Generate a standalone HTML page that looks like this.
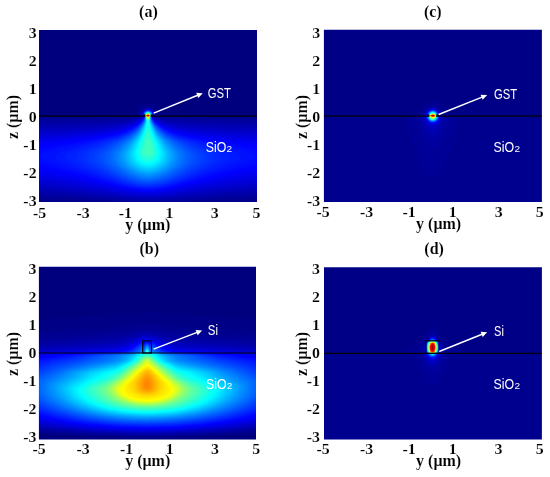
<!DOCTYPE html>
<html lang="en"><head><meta charset="utf-8"><title>Mode profiles</title>
<style>
html,body{margin:0;padding:0;background:#fff}
svg{display:block}
.t{font-family:"Liberation Serif","DejaVu Serif",serif;font-weight:bold;fill:#000;stroke:#fff;stroke-width:0.13px}
.w{font-family:"Liberation Sans","DejaVu Sans",sans-serif;fill:#fff}
</style></head><body>
<svg width="550" height="477" viewBox="0 0 550 477">
<defs>
<filter id="bl" filterUnits="userSpaceOnUse" x="0" y="0" width="550" height="477" color-interpolation-filters="sRGB">
<feGaussianBlur stdDeviation="1.3"/>
</filter>
<filter id="jet" filterUnits="userSpaceOnUse" x="0" y="0" width="550" height="477" color-interpolation-filters="sRGB">
<feComponentTransfer>
<feFuncR type="table" tableValues="0 0 0 0 0.5 1 1 1 0.5"/>
<feFuncG type="table" tableValues="0 0 0.5 1 1 1 0.5 0 0"/>
<feFuncB type="table" tableValues="0.5 1 1 1 0.5 0 0 0 0"/>
</feComponentTransfer>
</filter>
</defs>
<rect width="550" height="477" fill="#fff"/>
<clipPath id="cpa"><rect x="39" y="29.9" width="217.9" height="172.2"/></clipPath>
<clipPath id="cwa"><rect x="137" y="105" width="22" height="21"/></clipPath>
<g clip-path="url(#cpa)"><g filter="url(#jet)">
<g filter="url(#bl)"><rect x="31" y="21" width="234" height="190" fill="#000"/>
<path fill="#020202" d="M173 207l-26 0.2-26-0.2-87-2.3 0-88.5 91 0 8.8-0.2 0.4-3 0.6-2 1.6-3 1.6-1.9 2-1.7 2-1.1 3-1 3-0.3 3 0.3 3 1 2 1.1 2 1.7 1.6 1.9 1.6 3 0.6 2 0.4 3 8.8 0.2 91 0 0 88.5-61 1.7z"/>
<path fill="#040404" d="M166 205l-16 0.3-15-0.1-64-2.6-37-1.1 0-85 87 0 14-0.3 1.6-0.2 0.2-2 0.5-2 1-2 1.7-2 2-1.6 2-1 2-0.5 2-0.2 2 0.2 2 0.5 2 1 2 1.6 1.7 2 1 2 0.5 2 0.2 2 1.6 0.2 14 0.3 87 0 0 85-38 1.1z"/>
<path fill="#060606" d="M173 203l-19 0.7-18-0.1-60-2.9-42-1.6 0-82.2 85-0.1 12-0.1 5-0.3 2.1-0.4 0.4-3 0.9-2 1.6-2 1-0.8 1-0.7 2-0.9 3-0.4 3 0.4 2 0.9 1 0.7 1 0.8 1.6 2 0.9 2 0.4 3 2.1 0.4 5 0.3 12 0.1 85 0.1 0 82.2-43 1.6z"/>
<path fill="#080808" d="M164 202l-15 0.4-14-0.3-17-0.8-50-3-34-1.5 0-77.6 40-0.3 28-0.4 16-0.6 18-1.1 2-0.3 1.1-0.5 0.2-2 0.3-1 1-2 1.4-1.6 1-0.8 2-1 1-0.3 2-0.2 2 0.2 1 0.3 2 1 1 0.8 1.4 1.6 1 2 0.3 1 0.2 2 1.1 0.5 2 0.3 18 1.1 16 0.6 28 0.4 40 0.3 0 77.6-35 1.6-49 2.9z"/>
<path fill="#0a0a0a" d="M161 201l-15 0.3-16-0.5-59-4.2-37-1.9 0-72.9 36-0.4 26-0.5 19-0.9 12-1 6-0.9 6-1.4 0.9-0.7 0.4-3 1.1-2 0.9-1 0.7-0.7 2-1.1 3-0.5 3 0.5 2 1.1 0.7 0.7 0.9 1 1.1 2 0.4 3 0.9 0.7 6 1.4 6 0.9 12 1 19 0.9 26 0.5 36 0.4 0 72.9-35 1.8-51 3.7z"/>
<path fill="#0c0c0c" d="M160 200l-14 0.3-15-0.5-13-1-45-3.8-39-2.4 0-68.4 33-0.5 26-0.7 18.4-1 13.6-1.4 8.6-1.6 6.5-2 0.4-1 0.1-2 0.3-1 0.4-1 0.7-1 1-1 2-1.3 1-0.3 2-0.3 2 0.3 1 0.3 2 1.3 1 1 0.7 1 0.4 1 0.3 1 0.1 2 0.4 1 6.5 2 8.6 1.6 13.6 1.4 18.4 1 26 0.7 33 0.5 0 68.4-38 2.3-49 4.2z"/>
<path fill="#0e0e0e" d="M160 199l-14 0.3-15-0.6-12-1-46-4.4-19-1.5-20-1.3 0-64 32-0.7 25-0.9 19-1.2 7-0.7 7-1 5-0.9 4.3-1.1 3.7-1.2 4.3-1.8-0.3-1 0-2 0.3-1 1.1-2 1.6-1.4 1-0.5 2-0.6 1-0.1 1 0.1 2 0.6 1 0.5 1.6 1.4 1.1 2 0.3 1 0 2-0.3 1 4.3 1.8 3.7 1.2 4.3 1.1 5 0.9 7 1 7 0.7 19 1.2 25 0.9 32 0.7 0 64-19 1.2-18 1.4-50 4.8z"/>
<path fill="#101010" d="M160 198l-7 0.3-7 0.1-7-0.2-8-0.5-11-1.1-47-5.1-19-1.6-20-1.5 0-59.8 31-0.8 25-1.1 18-1.3 7-0.8 7-1.1 6-1.2 5-1.3 5-1.9 3-1.4 1.1-0.7-0.8-1 0-2 0.3-1 1.3-2 2.1-1.6 2-0.6 1 0 1 0 2 0.6 2.1 1.6 1.3 2 0.3 1 0 2-0.8 1 1.1 0.7 3 1.4 5 1.9 5 1.3 6 1.2 7 1.1 7 0.8 18 1.3 25 1.1 31 0.8 0 59.8-19 1.4-18 1.5-51 5.5z"/>
<path fill="#121212" d="M160 197l-13 0.4-7-0.2-8-0.5-13-1.3-30-3.8-17-1.9-19-1.9-19-1.5 0-55.6 31-1 24-1.3 18-1.5 7-0.9 7-1.2 6-1.3 5-1.4 5-1.9 4-2 1.6-1.2-1-1-0.1-1 0.1-1 0.8-2 1.6-1.7 1-0.6 1-0.4 2-0.3 2 0.3 1 0.4 1 0.6 1.6 1.7 0.8 2 0.1 1-0.1 1-1 1 1.6 1.2 4 2 5 1.9 5 1.4 6 1.3 7 1.2 7 0.9 18 1.5 24 1.3 31 1 0 55.6-19 1.5-18 1.7-17 2-32 4z"/>
<path fill="#141414" d="M160 196l-7 0.4-7 0.1-7-0.3-8-0.6-12-1.4-31-4.3-16-2-19-2.1-19-1.6 0-51.5 31-1.2 24-1.5 18-1.8 8-1.1 5.7-1.1 6.3-1.5 5-1.6 4-1.6 4-2.1 2-1.3 1.1-0.9-1.2-1-0.1-1 0.3-2 0.5-1 1.4-1.5 1-0.6 1-0.4 2-0.3 2 0.3 1 0.4 1 0.6 1.4 1.5 0.5 1 0.3 2-0.1 1-1.2 1 1.1 0.9 2 1.3 4 2.1 4 1.6 5 1.6 6.3 1.5 5.7 1.1 8 1.1 18 1.8 24 1.5 31 1.2 0 51.5-18 1.5-18 1.9-17 2.2-34 4.7z"/>
<path fill="#161616" d="M161 195l-7 0.5-7 0.1-8-0.3-8-0.7-12.9-1.6-29.1-4.6-16-2.2-20-2.4-19-1.9 0-47.3 30-1.3 23-1.6 18-1.9 8-1.2 7-1.4 6-1.5 5-1.7 5-2.1 4-2.2 2-1.4 1.3-1.3-1.2-1-0.1-1 0.3-2 0.6-1 0.9-1 1.2-0.9 1-0.4 2-0.4 2 0.4 1 0.4 1.2 0.9 0.9 1 0.6 1 0.3 2-0.1 1-1.2 1 1.3 1.3 2 1.4 4 2.2 5 2.1 5 1.7 6 1.5 7 1.4 8 1.2 18 1.9 23 1.6 30 1.3 0 47.3-19 1.9-18 2.1-17 2.4-32 5z"/>
<path fill="#181818" d="M161 194.1l-7 0.5-7 0.1-8-0.3-8-0.7-12-1.7-30-5.2-16-2.5-19-2.5-20-2.2 0-43.1 30-1.5 24-1.9 18-2.2 7-1.2 7-1.5 6-1.6 5-1.8 5-2.3 4-2.3 2-1.5 1-0.9 0.5-0.8-1.2-1-0.1-1 0.3-2 0.6-1 1.9-1.7 2-0.7 1-0.1 1 0.1 2 0.7 1.9 1.7 0.6 1 0.3 2-0.1 1-1.2 1 0.5 0.8 1 0.9 2 1.5 4 2.3 5 2.3 5 1.8 6 1.6 7 1.5 7 1.2 18 2.2 24 1.9 30 1.5 0 43.1-19 2.1-19 2.5-16 2.5-32 5.5-8 1.1z"/>
<path fill="#1a1a1a" d="M162 193.1l-8 0.6-7 0.2-8-0.4-8-0.8-13-2-29-5.5-17-3-18-2.6-20-2.5 0-38.7 29-1.7 23-2 10-1.2 9-1.3 7-1.2 7-1.6 6-1.7 5-1.7 5-2.3 4-2.4 3-2.2 1-1 0.7-1.1-1.2-1-0.2-1 0.1-1 0.3-1 0.6-1 1.7-1.6 2-0.7 1-0.1 1 0.1 2 0.7 1.7 1.6 0.6 1 0.3 1 0.1 1-0.2 1-1.2 1 0.7 1.1 1 1 3 2.2 4 2.4 5 2.3 5 1.7 6 1.7 7 1.6 7 1.2 9 1.3 10 1.2 23 2 29 1.7 0 38.7-20 2.5-18 2.6-17 3-30.8 5.8z"/>
<path fill="#1c1c1c" d="M148 193l-10-0.5-11.9-1.5-10.8-2-26.3-5.5-16-3.1-18-3-21-3 0-34.2 29-2 23.6-2.2 9.4-1.2 9-1.4 7-1.3 7-1.7 6-1.8 5-1.9 5-2.4 4-2.5 3-2.4 1-1 0.9-1.4-1.2-1-0.2-1 0.1-1 0.9-2 1.5-1.4 1-0.4 2-0.4 2 0.4 1 0.4 1.5 1.4 0.9 2 0.1 1-0.2 1-1.2 1 0.9 1.4 1 1 3 2.4 4 2.5 5 2.4 5 1.9 6 1.8 7 1.7 7 1.3 9 1.4 9.4 1.2 23.6 2.2 29 2 0 34.2-21 3-18 3-16 3.1-26.3 5.5-10.8 2-11.9 1.5z"/>
<path fill="#1e1e1e" d="M153 192l-6 0.1-6-0.2-7-0.7-7-1.1-10.7-2.1-28.3-6.5-18-3.8-18-3.4-18-2.9 0-29 14.1-1.4 22.9-1.9 18-2.1 9-1.3 8-1.4 7-1.4 6-1.6 6-1.9 5-2 5-2.5 4-2.6 3-2.5 1-1.1 1-1.5 0.1-0.2-1.2-1-0.2-1 0-1 0.9-2 1.4-1.2 1-0.5 2-0.3 2 0.3 1 0.5 1.4 1.2 0.9 2 0 1-0.2 1-1.2 1 0.1 0.2 1 1.5 1 1.1 3 2.5 4 2.6 5 2.5 5 2 6 1.9 6 1.6 7 1.4 8 1.4 9 1.3 18 2.1 22.9 1.9 14.1 1.4 0 29-19 3.1-20 3.8-15 3.2-27 6.2-9 1.9-10 1.6z"/>
<path fill="#202020" d="M155 191l-7 0.3-6-0.2-7-0.7-8-1.3-12-2.6-31-7.9-17-4-12.1-2.6-20.9-3.9 0-22.5 32.4-4.6 15.6-1.8 13-1.8 14-2.6 11-2.8 6-2.1 5-2.2 4-2.2 4-2.8 3-2.6 1-1 1-1.6 0.2-0.5-1.2-1-0.2-1 0.4-2 0.6-1 1.2-1.1 1-0.5 2-0.3 2 0.3 1 0.5 1.2 1.1 0.6 1 0.4 2-0.2 1-1.2 1 0.2 0.5 1 1.6 1 1 3 2.6 4 2.8 4 2.2 5 2.2 6 2.1 11 2.8 14 2.6 13 1.8 15.6 1.8 32.4 4.6 0 22.5-20.9 3.9-12.1 2.6-16 3.8-29 7.4-10 2.3-10 1.9z"/>
<path fill="#222222" d="M156 190.1l-8 0.3-7-0.3-8-0.9-8-1.5-14.6-3.7-41.4-11.6-22.7-5.4-12.3-3.2 0-14.2 12.7-2.6 32.1-6 13.2-1.9 11-1.9 10-2.3 9-2.7 5-2 5-2.4 4-2.4 4-3.1 3-2.9 1-1.6 0.3-0.8-1.2-1-0.1-1 0.3-2 0.7-1 1-0.9 1-0.6 2-0.4 2 0.4 1 0.6 1 0.9 0.7 1 0.3 2-0.1 1-1.2 1 0.3 0.8 1 1.6 3 2.9 4 3.1 4 2.4 5 2.4 5 2 9 2.7 10 2.3 11 1.9 13.2 1.9 32.1 6 12.7 2.6 0 14.2-12.3 3.2-22.7 5.4-50 13.9-11 2.4z"/>
<path fill="#242424" d="M157 189.1l-9 0.5-5-0.2-5-0.4-5-0.8-6-1.1-11.9-3.1-13.1-4-25-8-17.1-5-11.8-4-4.7-2-1.2-1-1.6-2-0.4-1 0-1 0.4-1 0.7-1 1.2-1 2.5-1 6.2-2 11.3-3 21-5 4.4-1 13.1-2.3 9-2.1 9-2.5 7-2.7 4-1.8 4-2.3 4-2.9 3-2.6 2-2.1 1-1.6 0.4-1.1-1.1-1-0.2-2 0.3-1 0.7-1 0.9-0.8 1-0.6 2-0.4 2 0.4 1 0.6 0.9 0.8 0.7 1 0.3 1-0.2 2-1.1 1 0.4 1.1 1 1.6 2 2.1 3 2.6 4 2.9 4 2.3 4 1.8 7 2.7 9 2.5 9 2.1 13.1 2.3 4.4 1 21 5 11.3 3 6.2 2 2.5 1 1.2 1 0.7 1 0.4 1 0 1-0.4 1-0.6 1-2.2 2-4.7 2-5.6 2-9.5 3-13.8 4-28.2 9-10.8 3.2-12 3.1-6 1.1z"/>
<path fill="#262626" d="M158 188.1l-5 0.5-5 0.1-4-0.1-5-0.4-5-0.7-6-1.3-11.9-3.2-12.1-4-19.3-7-8.9-3-8-3-4.8-2-4.2-2-1.6-1-1.5-2-0.4-1-0.2-1 0.1-1 0.4-1 0.7-1 1-1 4.6-2 5.6-2 9.8-3 17.6-5 10.1-2.1 9-2.4 8-2.6 6-2.6 4-2.2 4-2.6 3-2.4 3-2.9 1-1.2 1-1.6 0.5-1.4-1.1-1-0.2-2 0.3-1 0.7-1 0.8-0.7 1-0.6 2-0.4 2 0.4 1 0.6 0.8 0.7 0.7 1 0.3 1-0.2 2-1.1 1 0.5 1.4 1 1.6 1 1.2 3 2.9 3 2.4 4 2.6 4 2.2 6 2.6 8 2.6 9 2.4 10.1 2.1 17.6 5 9.8 3 5.6 2 4.6 2 1 1 0.7 1 0.4 1 0.1 1-0.2 1-0.4 1-1.5 2-3.6 2-7 3-33.3 12-13.9 4.6-12 3.4-6 1.3z"/>
<path fill="#282828" d="M159 187l-5 0.6-5 0.3-5-0.1-5-0.5-5-0.8-5-1-5.5-1.5-6.5-2-8.5-3-7.7-3-19.8-8-6.6-3-3.7-2-3-2-1.1-2-0.2-1 0.1-2 1-2 1-1 3.9-2 4.8-2 8.3-3 14.9-5 9.6-2.4 8-2.4 6-2.3 6-3 4-2.4 3-2.2 3-2.7 2-2.1 2-2.8 0.6-1.7-1.1-1-0.2-1 0-1 0.4-1 1.3-1.6 2-0.9 1-0.1 1 0.1 2 0.9 1.3 1.6 0.4 1 0 1-0.2 1-1.1 1 0.6 1.7 2 2.8 2 2.1 3 2.7 3 2.2 4 2.4 6 3 6 2.3 8 2.4 9.6 2.4 14.9 5 8.3 3 4.8 2 3.9 2 1 1 0.6 1 0.4 1 0.1 2-0.2 1-1.1 2-3 2-5.8 3-6.9 3-17.4 7-13.3 5-6.1 2-6.8 2-5 1.1z"/>
<path fill="#2a2a2a" d="M150 187l-5 0-5-0.5-5-0.7-5-1.1-6.1-1.7-6-2-12.6-5-17.8-8-5.7-3-3.2-2-2.5-2-0.5-1-0.5-2 0.1-1 0.5-2 0.6-1 0.8-1 3.6-2 6.4-3 17.8-7 8.1-2.3 7-2.4 6-2.6 5-2.7 3-1.9 3-2.3 3-2.8 2-2.1 2-2.8 0.7-2.1-1.1-1-0.2-1 0-1 0.4-1 1.2-1.5 2-0.9 1-0.1 1 0.1 2 0.9 1.2 1.5 0.4 1 0 1-0.2 1-1.1 1 0.7 2.1 2 2.8 2 2.1 3 2.8 3 2.3 3 1.9 5 2.7 6 2.6 7 2.4 8.1 2.3 17.8 7 6.4 3 3.6 2 0.8 1 0.6 1 0.4 1 0.2 2-0.2 1-0.8 2-2.5 2-3.2 2-7.8 4-20.5 9-6.9 2.7-6 2-6 1.7-6 1.4-6 0.9z"/>
<path fill="#2c2c2c" d="M152 186.1l-4 0.1-5-0.2-5-0.6-5-1-5-1.3-5-1.6-6-2.2-5.5-2.3-18.5-9-5.1-3-2.8-2-2.1-2-0.4-1-0.4-2 0.1-1 0.5-2 1.3-2 3.2-2 5.7-3 15.6-7 7.4-2.3 7-2.8 5-2.5 5-3 5-4 3-3 2-2.4 1-1.6 0.7-2.4-1-1-0.2-1 0-1 0.4-1 0.7-1 1.4-0.9 1-0.4 1-0.1 1 0.1 1 0.4 1.4 0.9 0.7 1 0.4 1 0 1-0.2 1-1 1 0.7 2.4 1 1.6 2 2.4 3 3 5 4 5 3 5 2.5 7 2.8 7.4 2.3 13.5 6 7.8 4 3.2 2 0.8 1 0.8 2 0.2 1 0 2-0.7 2-0.9 1-2.5 2-3.1 2-3.5 2-16.3 8-6.9 3-5.3 2-6.1 2-5.4 1.4-6 1.1z"/>
<path fill="#2e2e2e" d="M154 185l-4 0.3-4 0-4-0.3-4-0.5-8-1.9-9-3-5-2.2-5.2-2.4-9.6-5-5.2-3-4.2-3-2.3-2-0.8-1-0.5-2 0-2 0.2-1 0.8-2 0.7-1 2.8-2 7-4 9.9-5 2.2-1 8.2-3 5-2.2 5-2.8 5-3.5 3-2.6 2-2 2-2.3 2-2.9 0.8-2.7-1-1-0.2-1 0-1 0.4-1 0.7-1 1.3-0.9 2-0.4 2 0.4 1.3 0.9 0.7 1 0.4 1 0 1-0.2 1-1 1 0.8 2.7 2 2.9 2 2.3 2 2 3 2.6 5 3.5 5 2.8 5 2.2 8.2 3 2.2 1 9.9 5 5.4 3 4.4 3 1.2 2 0.5 2 0 2-0.5 2-0.8 1-2.3 2-2.7 2-3.2 2-11.2 6-8.3 4-8.8 3.4-8 2.3-4 0.8z"/>
<path fill="#303030" d="M155 184l-7 0.5-4-0.1-4-0.5-4-0.7-4.7-1.2-8.5-3-8.6-4-9.1-5-4.8-3-3.9-3-2.1-2-0.7-1-0.5-2 0.2-3 0.8-2 0.6-1 2.6-2 6.3-4 9-5 1.9-1 7.5-3 5-2.5 5-3.1 4-3.1 4-4 2-2.4 2-2.9 0.9-3-1-1-0.2-1 0-1 0.4-1 0.8-1 1.1-0.8 2-0.4 2 0.4 1.1 0.8 0.8 1 0.4 1 0 1-0.2 1-1 1 0.9 3 2 2.9 2 2.4 4 4 4 3.1 5 3.1 6 2.9 6.5 2.6 9.1 5 5.1 3 5.6 4 1 2 0.5 2-0.1 3-0.3 1-0.7 1-2.1 2-2.5 2-6.2 4-11 6-7.9 3.5-4.1 1.5-4.9 1.5-4 0.9z"/>
<path fill="#323232" d="M156 183l-4 0.5-4 0.2-7-0.5-7-1.5-4-1.1-4.2-1.6-4.6-2-4-2-8.7-5-3.1-2-4-3-2-2-1.6-2-0.4-2 0-2 0.9-3 0.6-1 2.4-2 5.7-4 8.1-5 1.8-1 7.1-3.2 5-2.8 4-2.7 4-3.4 4-4.3 3-4.3 1-3.3-1-1-0.2-1 0-1 0.4-1 0.8-1 1-0.7 2-0.4 2 0.4 1 0.7 0.8 1 0.4 1 0 1-0.2 1-1 1 1 3.3 2 3 2 2.5 4 4 4 3.2 4 2.6 5 2.7 6.1 2.7 6.7 4 6.2 4 5.1 4 1 2 0.5 2-0.1 3-0.3 1-0.7 1-1.8 2-2.4 2-5.8 4-8.7 5-7.8 3.7-4 1.5-4 1.3z"/>
<path fill="#343434" d="M156 182.1l-7 0.7-3 0-4-0.4-7-1.4-7-2.3-4-1.7-4-2-8.4-5-3-2-3.7-3-2-2-1.5-2-0.2-1-0.1-3 0.8-3 0.6-1 2.2-2 5.3-4 7.4-5 1.6-1 6-2.9 5-3 4-3 4-3.7 3-3.4 3-4.3 1.1-3.7-1-1-0.2-1 0-1 0.4-1 0.7-0.9 1-0.7 1-0.3 1-0.2 2 0.5 1 0.7 0.7 0.9 0.4 1 0 1-0.2 1-1 1 1.1 3.7 3 4.3 4 4.4 4 3.5 4 2.8 5 2.9 5 2.4 6.1 4 5.7 4 4.7 4 0.9 2 0.5 2-0.1 3-0.2 1-0.7 1-1.8 2-2.1 2-5.6 4-8.4 5-6.2 3-6.8 2.5z"/>
<path fill="#363636" d="M157 181l-4 0.7-3 0.2-3 0.1-4-0.3-4-0.7-3-0.7-7-2.3-4.4-2-3.7-2-6.5-4-2.9-2-3.5-3-1.9-2-1.4-2-0.2-1-0.1-3 0.7-3 0.5-1 2.1-2 4.8-4 6.9-5 1.5-1 6.1-3.3 4-2.6 4-3.2 4-4 4-5.3 1.4-2.6 0.7-3-0.9-1-0.2-1 0-1 0.4-1 0.8-1 0.8-0.5 1-0.4 2 0 1 0.4 1 0.7 0.6 0.8 0.4 1 0 1-0.2 1-0.9 1 0.7 3 0.4 1 3 4.4 4 4.6 3 2.7 4 3.1 4 2.5 5.1 2.7 5.7 4 5.2 4 4.4 4 0.8 2 0.4 2-0.1 3-0.2 1-0.6 1-1.7 2-2.1 2-3.8 3-8 5-5.8 3-6.3 2.5z"/>
<path fill="#383838" d="M151 181l-3 0.1-3-0.1-6-0.9-6-1.7-6-2.5-3.6-1.9-4.9-3-3-2-2.6-2-2.1-2-2.6-3-0.6-1-0.3-2 0.2-3 0.5-2 0.4-1 1.9-2 4.5-4 6.3-5 1.4-1 5.5-3.2 4-2.8 4-3.5 3-3.1 4-5.4 1.5-3 0.7-3-1-1-0.2-1 0.1-1 0.4-1 1.5-1.5 1-0.3 1-0.1 1 0.1 1 0.3 1.5 1.5 0.4 1 0.1 1-0.2 1-1 1 0.7 3 1.5 3 4 5.4 3 3.1 4 3.5 4 2.8 5.5 3.2 1.4 1 6.3 5 3.4 3 3 3 0.7 2 0.4 3-0.3 3-1.4 2-1.8 2-2.1 2-2.6 2-6.5 4.1-5.2 2.9-5.8 2.4-6 1.7z"/>
<path fill="#3a3a3a" d="M152 180.1l-3 0.2-3-0.1-6-0.8-6-1.6-6-2.6-8-4.8-4.6-3.4-2.1-2-2.5-3-0.6-1-0.3-2 0-2 0.6-3 0.4-1 1.8-2 4.2-4 5.9-5 1.2-1 5-3.1 4-3 4-3.8 3-3.5 3-4.3 1-1.7 0.7-1.6 0.5-3-0.9-1-0.2-1 0.1-1 0.3-1 1.5-1.4 1-0.4 1-0.1 1 0.1 1 0.4 1.5 1.4 0.3 1 0.1 1-0.2 1-0.9 1 0.5 3 0.7 1.6 1 1.7 2 3 2 2.6 3 3.2 3 2.8 4 3 5 3.1 4.8 4 4.5 4 3.8 4 0.7 2 0.3 2-0.1 3-0.2 1-0.6 1-1.6 2-1.9 2-2.3 2-2.8 2-6.6 4.1-6 2.9-6 2z"/>
<path fill="#3c3c3c" d="M153 179.1l-5 0.3-6-0.5-6-1.5-5.9-2.4-8.1-4.7-4.3-3.3-2.1-2-2.4-3-0.6-1-0.3-2 0-2 0.5-3 0.4-1 1.6-2 4-4 5.4-5 1.2-1 4.6-3.1 4-3.2 3-3 3-3.6 3-4.4 1-1.8 0.8-1.9 0.5-3-0.9-1-0.2-1 0-1 0.4-1 1.4-1.3 1-0.4 1-0.1 1 0.1 1 0.4 1.4 1.3 0.4 1 0 1-0.2 1-0.9 1 0.5 3 0.8 1.9 1 1.8 3 4.4 3 3.6 3 3 4 3.2 4.6 3.1 1.2 1 5.4 5 3 3 2.6 3 0.6 2 0.3 2-0.1 3-0.2 1-0.6 1-1.5 2-1.9 2-3.6 3-6.8 4.3-5 2.6-5.9 2.1z"/>
<path fill="#3e3e3e" d="M154 178l-3 0.4-3 0.2-5-0.4-5.2-1.2-5.8-2.2-7-4-2.7-1.8-2.5-2-2.1-2-2.3-3-0.6-1-0.3-2-0.1-2 0.5-3 0.3-1 1.6-2 3.7-4 5.1-5 6.4-4.9 3-2.7 3-3.2 3-4 3-4.9 0.9-2.3 0.4-3-0.9-1-0.1-1 0-1 0.4-1 1.3-1.2 1-0.4 1-0.1 1 0.1 1 0.4 1.3 1.2 0.4 1 0 1-0.1 1-0.9 1 0.4 3 0.9 2.3 1 1.8 3 4.5 3 3.7 3 3 3 2.6 4.3 3.1 8.1 8 3.4 4 0.7 3 0 3-0.3 2-1.3 2-1.6 2-3.3 3-4.3 3-6.7 3.8-5 2z"/>
<path fill="#404040" d="M154 177.1l-5 0.6-5-0.3-3-0.5-3-0.8-5-2-7-3.9-4.2-3.2-2.1-2-2.3-3-0.6-1-0.3-2-0.1-2 0.4-3 0.3-1 1.5-2 3.4-4 4.8-5 6.2-5.1 3-2.9 3-3.5 2-2.8 3-5.1 1-2.4 0.4-3.2-0.9-1-0.1-2 0.4-1 1-1 1.2-0.6 1-0.1 1 0.1 1 0.5 1.2 1.1 0.4 1 0.1 1-0.2 1-0.9 1 0.4 3.2 1 2.4 1 1.9 3 4.7 2 2.5 3 3.3 3 2.8 4.1 3.2 7.7 8 3.1 4 0.6 3 0 3-0.3 2-1.3 2-1.6 2-3.3 3-4.3 3-5.7 3.1-4.7 1.9z"/>
<path fill="#424242" d="M154 176.2l-5 0.6-5-0.3-5-1.1-5-1.9-6.3-3.5-2.8-2-2.3-2-1.9-2-1.4-2-0.6-1-0.4-2-0.1-2 0.3-3 0.3-1 1.4-2 3.3-4 4.5-5 5-4.4 3-2.9 3-3.6 3-4.5 2-3.6 1.1-3 0.3-3-0.9-1-0.1-2 0.5-1 1-1 1.1-0.5 1-0.1 1 0.1 1.1 0.5 1 1 0.5 1-0.1 2-0.9 1 0.4 3.7 2 4.2 2 3.3 2 2.9 3 3.6 3 2.9 4.1 3.4 7.1 8 3 4 0.5 3 0 3-0.4 2-2 3-3 3-4 3-5.3 3-4.6 2z"/>
<path fill="#444444" d="M155 175l-5 0.9-2 0.1-3-0.2-5-1-4.7-1.8-5.7-3-2.9-2-2.3-2-1.9-2-1.5-2-0.6-1-0.3-2-0.2-2 0.3-3 0.2-1 1.3-2 3.1-4 4.2-5 5-4.6 3-3.2 3-4 2-3.1 2-3.7 1-2.3 0.2-1.1 0.3-3-0.9-1-0.1-2 0.5-1 1-1 1-0.4 1-0.2 1 0.2 1 0.4 1 1 0.5 1-0.1 2-0.9 1 0.5 4 2 4.3 2 3.4 2 2.9 3 3.7 3 3.1 3 2.6 5.2 6 4.4 6 0.4 2 0 3-0.4 3-1.3 2-2.7 3-3.6 3-3.3 2-5.7 2.7z"/>
<path fill="#464646" d="M149 175l-4-0.1-5-1.1-3-1.1-3-1.3-4.1-2.4-3.8-3-1.9-2-1.5-2-0.6-1-0.2-1-0.4-3 0.1-2 0.3-2 1.9-3 6.2-8 5-4.9 2-2.3 3-4 2-3.2 2-3.9 1.1-2.7 0.4-4-0.8-1-0.1-2 0.5-1 0.9-0.9 1-0.5 1-0.1 1 0.1 1 0.5 0.9 0.9 0.5 1-0.1 2-0.8 1 0.4 4 1.1 2.7 2 3.9 2 3.2 3 4 3 3.3 3.1 2.9 6.4 8 2.6 4 0.4 3-0.4 4-0.2 1-0.6 1-2.4 3-3.4 3-4.5 2.9-5 2.2-4 1.3z"/>
<path fill="#484848" d="M150 174.1l-4 0-5-1-5-1.8-4.3-2.3-4-3-1.9-2-1.6-2-0.6-1-0.2-1-0.4-3 0-2 0.3-2 1.8-3 5.9-8 4-4.2 3-3.6 2-2.8 2-3.3 2-3.9 1.3-3.2 0.3-4-0.9-1 0-2 0.4-1 0.9-0.8 1-0.5 1-0.1 1 0.1 1 0.5 0.9 0.8 0.4 1 0 2-0.9 1 0.3 4 1.3 3.2 2 3.9 2 3.3 2 2.8 3 3.6 3.2 3.2 6 8 2.5 4 0.3 3-0.2 3-0.4 2-2.2 3-3.2 3.1-4 2.7-4 1.9-5 1.7z"/>
<path fill="#4c4c4c" d="M154 172l-2 0.5-3 0.3-4-0.2-5-1.1-3-1.2-2-0.9-4-2.7-2-1.7-1.8-2-1.4-2-0.7-4-0.1-2 0.2-2 1.7-3 5.4-8 4.7-5.4 2-2.7 2-3.2 2-3.7 2-4.5 0.5-1.5 0.2-4-0.9-1 0-2 0.5-1 0.7-0.7 1-0.5 1-0.1 1 0.1 1 0.5 0.7 0.7 0.5 1 0 2-0.9 1 0.2 4 1.5 3.8 2 4.1 2 3.4 2 3 2 2.5 2.9 3.2 3.6 5 3.7 6 0.6 1 0.1 1-0.1 4-0.6 3-2.2 3-3 2.7-3.3 2.3-3.7 1.8z"/>
<path fill="#505050" d="M150 171.1l-4 0-4-0.7-4-1.5-4-2.3-3.1-2.6-2.4-3-0.7-3-0.3-3 0.1-2 2.6-5 4.4-7 2.4-2.9 2-2.8 2-3.3 2-3.9 2-4.8 0.7-2.3 0.1-4-0.8-1-0.1-2 0.5-1 0.6-0.5 1-0.6 1-0.1 1 0.1 1 0.6 0.6 0.5 0.5 1-0.1 2-0.8 1 0.1 4 0.7 2.3 2 4.8 2 3.9 2 3.3 2 2.8 2.4 2.9 3.8 6 2.7 5 0.5 1 0.1 1-0.3 4-0.7 3-1.5 2-2 2-3 2.3-3.2 1.7-3.8 1.4z"/>
<path fill="#545454" d="M152 169.2l-4 0.4-4-0.4-4-1.2-3.7-2-2.6-2-2.6-3-1-3-0.4-3 0.1-2 2.3-5 3.9-7 4-5.8 2-3.7 1.6-3.5 1.8-5 0.5-2-0.2-3 0.2-1-0.9-1 0.1-2 0.5-1 0.4-0.4 1-0.5 1-0.2 1 0.2 1 0.5 0.4 0.4 0.5 1 0.1 2-0.9 1 0.2 1-0.2 3 0.9 3.3 2 5 3 5.9 4 5.8 2.3 4 2.1 4 1.8 4 0.1 2-0.4 3-1 3-0.9 1.2-2 2-3 2.2-3.1 1.6z"/>
<path fill="#585858" d="M153 167.2l-4 0.7-3 0-3.8-0.9-3.2-1.4-3-2.1-2.5-2.5-1.1-3-0.6-3-0.1-2 2.1-5 3.5-7 3.7-6 3-6.7 1.8-5.3 0.4-2-0.4-3 0.2-1-0.9-1 0.1-2 0.8-1.2 1-0.6 1-0.2 1 0.2 1 0.6 0.8 1.2 0.1 2-0.9 1 0.2 1-0.4 3 0.7 3 1.8 5 2.7 6 3.7 6 2.1 4 1.9 4 1.6 4-0.1 2-0.4 2-0.5 2-0.8 2-1.9 2-2.6 2-2 1.1z"/>
<path fill="#5c5c5c" d="M151 166l-3 0.3-3-0.3-3-0.9-3-1.5-2-1.5-1-1.1-1.4-3-0.9-4-0.1-1 2.3-6 2.7-6 2.8-5 2.9-7 1.8-6 0.4-2-0.5-3 0-1-0.8-1 0.1-2 0.7-1.1 1-0.6 1-0.2 1 0.2 1 0.6 0.7 1.1 0.1 2-0.8 1 0 1-0.5 3 0.4 2 1.8 6 2.9 7 2.8 5 1.9 4 1.7 4 1.4 4-0.2 2-0.5 2-0.7 2-1 2-2 1.9-2 1.3-2 0.9z"/>
<path fill="#606060" d="M152 164.1l-3 0.5-3-0.1-3-0.8-3-1.5-1.5-1.2-1.5-2.5-1-2.5-0.6-3 2.4-7 2-5 2.5-5 2.9-8 1.3-5 0.2-2-0.6-3 0-1-0.9-1 0-1 0.2-1 0.7-1 0.9-0.6 1-0.1 1 0.1 0.9 0.6 0.7 1 0.2 1 0 1-0.9 1 0 1-0.6 3 0.2 2 1.3 5 2.9 8 2.5 5 2 5 2.4 7-0.4 2-0.6 2-0.9 2-1.2 2-2.5 1.8z"/>
<path fill="#646464" d="M152 162.3l-3 0.6-2 0-3-0.6-2.5-1.3-1.5-1.6-1-1.5-1.3-2.9-0.5-2 1.1-4 1.3-4 1.5-4 2.2-5 1.1-3 2.2-8 0.5-3-0.1-1-0.7-2-0.2-1 0.1-1-0.9-1 0-1 0.3-1 0.7-1 0.7-0.4 1-0.2 1 0.2 0.7 0.4 0.7 1 0.3 1 0 1-0.9 1 0.1 1-0.2 1-0.7 2-0.1 1 0.5 3 2.2 8 1.1 3 2.2 5 1.5 4 1.3 4 1.1 4-0.9 3-1.6 3-1.8 2z"/>
<path fill="#686868" d="M149 161.1l-1 0.1-2-0.3-2-0.9-1-0.7-2.1-2.3-1.1-2-0.7-2 1.7-7 1.2-4 2.7-7 3.2-12 0-1-0.4-1-0.5-0.5-0.5-1.5-0.3-1 0.1-1-0.9-1 0-1 0.3-1 0.8-1 0.5-0.3 1-0.2 1 0.2 0.5 0.3 0.8 1 0.3 1 0 1-0.9 1 0.1 1-0.3 1-0.5 1.5-0.5 0.5-0.4 1 0 1 3.2 12 2.7 7 1.2 4 1.7 7-1.2 3-1.7 2.4-2 1.6-2 0.9z"/>
<path fill="#6c6c6c" d="M148 120.9l-1-1-0.7-1.9 0-1-0.9-1 0-1 0.6-1.3 1-0.9 1-0.2 1 0.2 1 0.9 0.6 1.3 0 1-0.9 1 0 1-0.7 1.9zM150 158.2l-2 0.4-2-0.4-1-0.4-2.1-1.8-0.9-1.1-0.9-1.9 0.8-5 1.1-4.2 2.7-7.8 1.3-4.7 1-2 1 2 1.3 4.7 2.7 7.8 1.1 4.2 0.8 5-0.9 1.9-1 1.3-1 0.9z"/>
<path fill="#707070" d="M148 120.5l-1-0.8-0.6-1.7 0-1-0.9-1 0-1 0.5-1.1 0.9-0.9 1.1-0.3 1.1 0.3 0.9 0.9 0.5 1.1 0 1-0.9 1 0 1-0.6 1.7zM150 155.3l-2 0.5-2-0.5-1.8-1.3-0.7-1 0.5-5 1-4.4 1-3 1-2.2 1-0.9 1 0.9 1 2.2 1.4 4.4 0.9 5 0.2 3-0.7 1z"/>
<path fill="#747474" d="M148 120.1l-1-0.7-0.5-1.4 0-1-1-1 0.1-1 0.4-0.9 1-1 1-0.3 1 0.3 1 1 0.4 0.9 0.1 1-1 1 0 1-0.5 1.4z"/>
<path fill="#787878" d="M149 119.1l-1 0.8-1-0.8-0.4-1.1 0-1-1-1 0.1-1 0.3-0.7 1-1.1 1-0.3 1 0.3 1 1.1 0.3 0.7 0.1 1-1 1 0 1z"/>
<path fill="#7c7c7c" d="M148 119.7l-1-0.8-0.3-0.9-0.1-1-0.9-1 0-1 0.3-0.6 1-1 1-0.3 1 0.3 1 1 0.3 0.6 0 1-0.9 1-0.1 1-0.3 0.9z"/>
<path fill="#808080" d="M148 119.5l-1-0.8-0.3-0.7 0-1-1-1 0.3-1.4 1-1 1-0.4 1 0.4 1 1 0.3 1.4-1 1 0 1-0.3 0.7z"/>
<path fill="#848484" d="M148 119.3l-1-0.9-0.2-1.4-1-1 0.2-1.2 1-1 1-0.4 1 0.4 1 1 0.2 1.2-1 1-0.2 1.4z"/>
<path fill="#888888" d="M148 119.1l-1-0.9-0.1-1.2-1-1 0.1-1.1 1-1 1-0.4 1 0.4 1 1 0.1 1.1-1 1-0.1 1.2z"/>
<path fill="#8c8c8c" d="M148 118.9l-1-0.9-0.1-1-1-1 0.1-1 1-1 1-0.3 1 0.3 1 1 0.1 1-1 1-0.1 1z"/>
<path fill="#909090" d="M148 118.8l-0.8-0.8-0.2-1-1-1 0.1-1 0.9-0.9 1-0.2 1 0.2 0.9 0.9 0.1 1-1 1-0.2 1z"/>
<path fill="#949494" d="M148 118.6l-0.6-0.6-0.3-1-1-1 0.1-1 0.8-0.8 1-0.2 1 0.2 0.8 0.8 0.1 1-1 1-0.3 1z"/>
<path fill="#989898" d="M148 118.5l-0.5-0.5-0.2-1-1.2-1 0.1-1 0.8-0.8 1-0.1 1 0.1 0.8 0.8 0.1 1-1.2 1-0.2 1z"/>
<path fill="#9c9c9c" d="M148 118.3l-0.3-0.3-0.3-1-1.2-1 0.1-1 0.7-0.7 1-0.2 1 0.2 0.7 0.7 0.1 1-1.2 1-0.3 1z"/>
<path fill="#a0a0a0" d="M148 118.1l-0.5-1.1-1.3-1 0.2-1 0.6-0.6 1-0.2 1 0.2 0.6 0.6 0.2 1-1.3 1z"/>
<path fill="#a4a4a4" d="M148 118l-0.4-1-0.6-0.3-0.7-0.7 0.1-1 0.6-0.5 1-0.3 1 0.3 0.6 0.5 0.1 1-0.7 0.7-0.6 0.3z"/>
<path fill="#a8a8a8" d="M148 117.7l-0.3-0.7-0.7-0.4-0.6-0.6 0.1-1 0.5-0.5 1-0.2 1 0.2 0.5 0.5 0.1 1-0.6 0.6-0.7 0.4z"/>
<path fill="#acacac" d="M148 117.3l-0.1-0.3-0.9-0.5-0.6-0.5 0.2-1 0.4-0.4 1-0.3 1 0.3 0.4 0.4 0.2 1-0.6 0.5-0.9 0.5z"/>
<path fill="#b0b0b0" d="M148 117l-1-0.5-0.5-0.5 0.2-1 0.3-0.3 1-0.3 1 0.3 0.3 0.3 0.2 1-0.5 0.5z"/>
<path fill="#b4b4b4" d="M149 116.4l-1 0.5-1-0.5-0.4-0.4 0.1-1 0.3-0.3 1-0.3 1 0.3 0.3 0.3 0.1 1z"/>
<path fill="#b8b8b8" d="M149 116.4l-1 0.5-1-0.5-0.4-0.4 0.2-1 1.2-0.5 1 0.3 0.2 0.2 0.2 1z"/>
<path fill="#bcbcbc" d="M149 116.3l-1 0.5-1-0.5-0.3-0.3 0.2-1 1.1-0.4 1 0.3 0.3 1.1z"/>
<path fill="#c0c0c0" d="M149 116.2l-1 0.5-1-0.5-0.2-0.2 0.1-1 1.1-0.4 1 0.3 0.2 1.1z"/>
<path fill="#c4c4c4" d="M149 116.2l-1 0.4-1-0.4-0.2-0.2 0.2-1 1-0.3 1 0.3 0.2 1z"/>
<path fill="#c8c8c8" d="M149 116.1l-1 0.5-1-0.5 0.2-1.1 0.8-0.3 0.8 0.3z"/>
<path fill="#cccccc" d="M149 116l-1 0.5-1-0.5 0.3-1 0.7-0.2 0.7 0.2z"/>
<path fill="#d0d0d0" d="M148 116.4l-0.9-0.4 0.4-1 0.5-0.2 0.5 0.2 0.4 1z"/>
<path fill="#d4d4d4" d="M148 116.4l-0.8-0.4 0.5-1 0.3-0.1 0.3 0.1 0.5 1z"/>
<path fill="#d8d8d8" d="M148 116.3l-0.6-0.3 0.4-1 0.2-0.1 0.2 0.1 0.4 1z"/>
<path fill="#dcdcdc" d="M148 116.2l-0.5-0.2 0.5-1 0.5 1z"/>
<path fill="#e0e0e0" d="M148 116.1l-0.3-0.1 0.3-0.7 0.3 0.7z"/>
<path fill="#e4e4e4" d="M148 116.1l-0.2-0.1 0.2-0.3 0.2 0.3z"/>
</g>
<g clip-path="url(#cwa)"><rect x="136" y="104" width="24" height="23" fill="#000"/>
<path fill="#020202" d="M160 127l-24 0 0-18.4 1.5-2 1.5-1.4 1.7-1.2 14.6 0 1.2 0.8 1 0.8 1.3 1.4 1.2 1.6z"/>
<path fill="#040404" d="M160 127l-24 0 0-11 0.6 0 0.2-2 0.6-2 1-2 1.1-1.5 1.7-1.5 1.8-1.1 1.2-0.5 1-0.3 2.3-0.4 2.3 0.2 2.2 0.5 2 1 1.7 1.4 1.4 1.4 1.1 1.8 0.5 1.2 0.4 1.3 0.2 1.3 0.1 1.2 0.6 0z"/>
<path fill="#060606" d="M160 127l-24 0 0-10.9 2.1-0.1 0.1-1.2 0.2-1.3 0.4-1.3 0.7-1.2 0.6-1 0.9-1 1-0.8 1.2-0.8 2-0.8 1.3-0.3 1.3-0.1 1 0 1.2 0.2 1 0.2 1.2 0.5 1.3 0.7 1 0.8 1 1 0.9 1.2 0.7 1.2 0.4 1.2 0.3 1.6 0.1 1.2 2.1 0.1z"/>
<path fill="#080808" d="M160 127l-24 0 0-10.7 2.5-0.1 0.7-0.2 0-1 0.2-1.2 0.4-1.3 0.5-1 0.7-1 0.8-0.9 1-0.8 1-0.6 1-0.5 1-0.3 2-0.3 2 0.2 1 0.2 1 0.4 1.2 0.7 1 0.8 0.8 0.8 0.8 1 0.5 1 0.4 1.3 0.3 1.3 0 1.2 0.7 0.2 2.5 0.1z"/>
<path fill="#0a0a0a" d="M160 127l-24 0 0-9.6 4.3-1.2-0.4-0.2 0-1 0.2-1.2 0.6-1.6 0.5-1 0.8-0.9 0.8-0.7 1-0.7 1.7-0.8 1-0.2 1-0.1 2 0.1 1.7 0.5 1.3 0.6 1 0.8 0.9 1 0.7 1 0.5 1.2 0.4 1.5 0.1 1.5-0.4 0.2 4.3 1.2z"/>
<path fill="#0c0c0c" d="M160 127l-24 0 0-8.6 3.2-1.1 2.7-1.1-0.9 0-0.5-0.2 0-1.2 0.2-1.3 0.4-1 0.7-1.3 0.9-1 1.1-0.8 1-0.5 0.7-0.3 1.7-0.4 1.8 0.1 1.8 0.4 1.2 0.6 1.2 0.9 1 1 0.7 1.3 0.5 1.7 0.1 1.8-0.5 0.2-0.9 0 2.7 1.1 3.2 1.1z"/>
<path fill="#0e0e0e" d="M160 127l-24 0 0-7.8 4-1.5 1.5-0.8 1.2-0.7-1.7-0.2-0.1-1 0.1-1 0.4-1.2 0.5-1 0.8-1 1.1-0.9 1.4-0.9 1.6-0.4 1.7-0.1 1.7 0.4 1.6 0.6 1.2 1 0.9 1 0.7 1.3 0.2 0.7 0.2 1 0 1.5-1.7 0.2 1.2 0.7 1.5 0.8 4 1.5z"/>
<path fill="#101010" d="M160 127l-24 0 0-7.1 2.2-0.9 2.3-1 1.5-0.9 1.1-0.9-1.7-0.2-0.1-1.5 0.3-1.3 0.5-1.2 0.8-1 0.9-0.8 1.4-0.9 1.6-0.4 1.7-0.1 1.5 0.3 1.5 0.6 1.3 0.9 0.9 1.2 0.6 1.2 0.4 1.5-0.1 1.5-1.7 0.2 1.1 0.9 1.5 0.9 2.3 1 2.2 0.9z"/>
<path fill="#121212" d="M160 127l-24 0 0-6.4 2.5-1.1 2-1 1.7-1.1 1-0.9 0.2-0.3-1.7-0.2-0.1-1.5 0.2-1.3 0.5-1 0.7-1 0.8-0.7 1.2-0.8 1.5-0.5 1.7-0.2 1.6 0.3 1.2 0.4 1.2 0.8 1 1 0.8 1.3 0.4 1.4 0 1-0.1 0.8-1.7 0.2 0.2 0.3 1 0.9 1.7 1.1 2 1 2.5 1.1z"/>
<path fill="#141414" d="M160 127l-24 0 0-5.7 2.5-1.2 2.5-1.5 1.5-1.1 1-1 0.1-0.3-1.7-0.2-0.1-1.2 0.2-1.3 0.4-1 0.7-1 0.7-0.7 1.2-0.9 1.5-0.5 1.5-0.2 1.5 0.2 1.3 0.4 1.2 0.8 0.9 0.9 0.8 1.3 0.4 1.4 0.1 1-0.1 0.8-1.7 0.2 0.1 0.3 0.3 0.3 1 0.9 1.7 1.2 2.3 1.3 2.2 1.1z"/>
<path fill="#161616" d="M160 127l-24 0 0-5.1 2.8-1.4 2.4-1.6 1.6-1.2 1-1.2-0.2-0.3-1.4-0.2-0.2-1.2 0.2-1 0.3-1 0.6-1 0.7-0.8 1.2-0.9 1.5-0.5 1.5-0.2 1.5 0.2 1.5 0.5 1 0.7 0.9 1 0.7 1.2 0.3 1.5-0.1 1.5-1.4 0.2-0.2 0.3 0.6 0.6 1 1 1.7 1.3 2.3 1.4 2.2 1.1z"/>
<path fill="#181818" d="M160 127l-24 0 0-4.5 2.8-1.5 2.4-1.7 1.6-1.3 1-1.2 0.1-0.3-0.2-0.3-1.3-0.2-0.2-1.2 0.2-1 0.2-0.8 0.5-1 0.7-0.8 1.2-0.9 1.2-0.5 1.3-0.2 1.5 0 1.2 0.4 1.3 0.6 1 0.9 0.8 1.3 0.3 0.7 0.1 0.7 0.1 0.8-0.2 1-1.3 0.2-0.2 0.3 0.9 1.3 1 0.9 1.8 1.3 2 1.3 2.2 1.2z"/>
<path fill="#1a1a1a" d="M160 127l-24 0 0-3.9 2.5-1.5 2.3-1.5 1.7-1.5 1-1.2 0.5-0.9-0.2-0.3-1.2-0.2-0.2-0.8 0-0.7 0.2-1 0.3-0.7 0.9-1.3 1-0.8 1.2-0.7 1.5-0.3 1.5 0.1 1.2 0.3 1.3 0.7 1 1 0.6 1 0.3 0.7 0.2 0.7 0 0.8-0.2 1-1.2 0.2-0.2 0.3 0.2 0.6 0.8 1 1.2 1.2 1.8 1.3 2 1.4 2 1.1z"/>
<path fill="#1c1c1c" d="M160 127l-24 0 0-3.3 2.5-1.6 2.3-1.6 1.7-1.5 1-1.2 0.6-1 0-0.3-0.2-0.3-1.2-0.2-0.1-0.8 0-0.7 0.1-0.7 0.2-0.8 0.4-0.8 0.5-0.5 1-0.9 1.2-0.6 1.2-0.3 1.6 0 1.2 0.3 1 0.5 1 0.7 0.7 0.8 0.4 0.8 0.2 0.8 0.1 0.7 0 1-0.1 0.5-1.2 0.2-0.2 0.3 0 0.3 1.1 1.6 1.2 1.2 2.8 2.2 3 1.9z"/>
<path fill="#1e1e1e" d="M160 127l-24 0 0-2.7 2.2-1.5 2.3-1.7 2-1.8 1-1.2 0.7-1.3 0-0.3-0.2-0.3-1.1-0.2-0.2-0.8 0-0.7 0.1-0.7 0.3-0.8 0.8-1.2 0.9-0.8 1.2-0.7 1.2-0.3 1.6 0 1.2 0.3 1 0.5 0.9 0.7 0.6 0.7 0.4 0.8 0.3 0.8 0.1 1-0.1 0.7-0.1 0.5-1.1 0.2-0.2 0.3 0 0.3 1 1.6 1.4 1.6 2.8 2.3 3 2z"/>
<path fill="#202020" d="M160 127l-24 0 0-2.2 2.5-1.7 2-1.6 2-1.9 1-1.2 0.8-1.6 0-0.3-0.3-0.3-1-0.2-0.1-0.8-0.1-0.7 0.3-1.3 0.7-1.2 1-0.9 1.2-0.7 1.2-0.3 1.3 0 1.3 0.3 1 0.4 0.9 0.7 0.7 0.7 0.6 1.3 0.2 1.3-0.2 1.2-1 0.2-0.3 0.3 0 0.3 0.5 1.2 1 1.4 1.8 1.7 2.2 1.8 2.8 1.9z"/>
<path fill="#222222" d="M160 127l-24 0 0-1.6 2.5-1.8 2-1.7 2-1.9 1-1.3 1-1.9-0.4-0.6-0.9-0.2-0.2-0.8 0-0.7 0.2-1.3 0.4-0.7 0.4-0.5 0.8-0.7 1-0.6 1.2-0.4 1.2-0.1 1.3 0.2 1 0.4 1 0.7 0.7 0.7 0.6 1.3 0.2 1.3-0.2 1.2-0.9 0.2-0.4 0.6 0.7 1.5 1 1.4 2 2 2.3 1.9 2.5 1.8z"/>
<path fill="#242424" d="M160 127l-24 0 0-1.1 2.5-1.9 2.3-1.9 2-2.1 1-1.4 0.8-1.8-0.4-0.6-0.9-0.2-0.2-0.8 0-0.7 0.3-1.3 0.5-1 0.9-0.8 1-0.6 1.2-0.4 1.2-0.1 1 0.1 1.3 0.5 0.9 0.6 0.7 0.7 0.5 1 0.3 1.3 0 0.7-0.2 0.8-0.9 0.2-0.4 0.6 0.8 1.8 1 1.4 2 2.1 2.3 1.9 2.5 1.9z"/>
<path fill="#262626" d="M160 127l-24 0 0-0.5 2.2-1.8 2.6-2.2 2-2.2 1-1.4 0.9-2.1-0.5-0.6-0.8-0.2-0.2-0.8 0-0.7 0.1-0.7 0.3-0.8 0.4-0.8 0.8-0.7 1-0.6 1-0.4 1.2-0.1 1.2 0.1 1 0.4 1 0.6 0.8 0.8 0.4 0.7 0.3 0.8 0.1 0.7 0 0.7-0.2 0.8-0.8 0.2-0.5 0.6 0.9 2.1 1 1.4 2 2.2 2.6 2.2 2.2 1.8z"/>
<path fill="#282828" d="M159.8 127l-23.7 0 2.4-2 2.3-2.1 2-2.3 1-1.4 0.9-2.4-0.4-0.6-0.8-0.2-0.2-0.8 0-0.7 0.1-0.7 0.6-1.3 0.8-0.9 1-0.6 1-0.4 1.2-0.1 1.2 0.1 1 0.4 1 0.6 0.8 0.9 0.4 0.7 0.2 0.8 0.1 0.8-0.1 0.7-0.1 0.5-0.8 0.2-0.4 0.6 0.9 2.4 1 1.4 1.8 2 2.5 2.4 2.4 2z"/>
<path fill="#2e2e2e" d="M158.5 127l-21.1 0 2.1-2 2-2.2 1.7-2.2 0.8-1.2 0.9-2.6-0.5-0.6-0.7-0.2-0.1-0.5-0.1-0.7 0.1-0.8 0.5-1.2 0.7-0.9 1-0.7 1-0.4 1.2-0.2 1.2 0.2 1 0.4 1 0.7 0.7 0.9 0.5 1.2 0.1 0.8-0.1 0.7-0.1 0.5-0.7 0.2-0.5 0.6 0.9 2.6 0.8 1.2 1.4 1.9 2.3 2.5 2.1 2z"/>
<path fill="#343434" d="M157 127l-18.1 0 1.6-1.8 1.7-2.2 1.3-1.8 0.7-1.4 0.9-3-0.6-0.6-0.5-0.2-0.2-0.8 0-1 0.4-1.2 0.5-0.8 0.5-0.4 0.8-0.5 0.8-0.3 0.7-0.1 1 0 1 0.2 0.7 0.4 0.8 0.5 0.5 0.5 0.3 0.5 0.3 0.8 0.1 0.7 0 0.7-0.2 0.8-0.5 0.2-0.6 0.6 0.8 3 0.5 1 1.3 1.8 1.7 2.3 1.9 2.1z"/>
<path fill="#3a3a3a" d="M155.8 127l-15.7 0 2.9-4 1-1.7 0.5-1.1 0.3-0.8 0.5-2.6-1-0.8-0.2-0.8 0-1 0.1-0.7 0.4-0.7 0.5-0.6 0.6-0.4 0.8-0.4 0.7-0.2 0.8-0.1 0.8 0.1 0.7 0.2 0.7 0.3 0.7 0.5 0.5 0.6 0.3 0.4 0.2 0.8 0 1.2-0.2 0.8-1 0.8 0.6 3 0.5 1 0.7 1.4 1.7 2.6 1.7 2.2z"/>
<path fill="#404040" d="M154.8 127l-13.6 0 2.3-3.8 0.7-1.4 0.6-1.3 0.2-0.7 0.2-2 0.3-1-0.9-0.8-0.3-0.8 0-1 0.2-0.7 0.4-0.7 0.5-0.6 0.6-0.4 0.8-0.3 0.7-0.2 0.7 0 0.8 0.1 0.8 0.3 0.5 0.3 0.6 0.5 0.4 0.5 0.4 1 0 0.5 0 0.7-0.3 0.8-0.9 0.8 0.3 1 0.3 2.2 0.3 1 0.6 1.3 1.5 2.6 1.3 2.1z"/>
<path fill="#464646" d="M153.8 127l-11.7 0 2.1-4.2 0.9-2 0.2-1 0.1-2 0.2-1-0.6-0.6-0.4-0.4-0.1-0.8 0-0.8 0.2-0.7 0.3-0.5 0.5-0.6 0.7-0.5 1.3-0.4 0.7 0 0.8 0.1 0.8 0.3 0.4 0.3 0.6 0.5 0.4 0.5 0.2 0.6 0.1 0.7-0.1 1.3-0.4 0.4-0.6 0.6 0.2 1 0.2 2.4 0.3 1 0.7 1.6 2.1 4.2z"/>
<path fill="#4c4c4c" d="M153 127l-10.1 0 1.9-4.1 0.5-1.4 0.2-1 0.1-2.7 0.2-1-0.7-0.6-0.3-0.4-0.1-1 0.1-0.8 0.3-0.8 0.3-0.4 0.6-0.5 0.5-0.3 1.3-0.3 0.7 0 0.7 0.2 1.1 0.6 0.5 0.5 0.3 0.5 0.2 1-0.1 1.3-0.3 0.4-0.7 0.6 0.2 1 0.1 2.7 0.5 1.7 2.1 4.8z"/>
<path fill="#525252" d="M152.2 127l-8.6 0 1.6-4.2 0.4-1 0.2-1-0.1-2.8 0.2-1.2-0.7-0.6-0.3-0.4 0.1-1.8 0.3-0.8 0.4-0.4 0.5-0.5 0.6-0.2 1.2-0.3 1.2 0.3 0.6 0.2 0.5 0.5 0.4 0.4 0.3 0.6 0.1 0.7 0 1.3-0.3 0.4-0.7 0.6 0.2 1.2-0.1 2.8 0.2 1 0.4 1 1.6 4.2z"/>
<path fill="#585858" d="M151.5 127l-7.2 0 1.5-4.2 0.3-1.8 0-0.8-0.3-2.2 0.2-1.2-0.7-0.6-0.3-0.4 0.1-1.6 0.2-0.7 0.4-0.5 0.5-0.5 0.8-0.3 1.2-0.2 0.8 0.2 0.5 0.2 0.8 0.6 0.4 0.5 0.1 0.5 0.2 1.8-0.3 0.4-0.7 0.6 0.2 1.2-0.3 2.2 0 0.8 0.3 1.8 1.5 4.2z"/>
<path fill="#5e5e5e" d="M150.8 127l-5.7 0 1.1-4 0.3-1.8-0.1-0.7-0.4-2.3 0-0.7 0.1-0.7-0.9-0.8-0.1-0.5 0.2-0.5 0-1 0.4-0.8 0.8-0.6 0.7-0.3 1-0.1 1.2 0.3 0.8 0.7 0.5 0.8 0 1 0.2 0.5 0 0.3-0.3 0.4-0.7 0.6 0.1 0.7 0 0.7-0.4 2.3-0.1 0.7 0.3 1.8 1.1 4z"/>
<path fill="#646464" d="M150 127l-4.1 0 1-4.2 0.1-1.3-0.2-0.7-0.7-2.6 0-0.7 0.2-0.7-1-0.8-0.2-0.5 0.3-0.7 0.1-0.8 0.5-0.8 0.5-0.4 1-0.4 0.7-0.1 0.6 0.1 0.4 0.2 0.6 0.4 0.6 0.8 0.1 0.4 0.1 0.6 0.3 0.7-0.2 0.5-1 0.8 0.2 0.7 0 0.7-0.7 2.6-0.2 0.7 0.1 1.3 1 4.2z"/>
<path fill="#6a6a6a" d="M148 121.6l-0.2-0.1-0.3-0.4-1-2-0.3-1.3 0.2-1-1-0.8-0.2-0.5 0.4-0.7 0.2-0.8 0.4-0.8 0.8-0.5 1-0.2 1 0.2 0.8 0.5 0.4 0.8 0.2 0.8 0.4 0.7-0.2 0.5-1 0.8 0.2 1-0.3 1.3-1 2-0.3 0.4zM148.8 127l-1.8 0 0.7-2.8 0.1-0.2 0.2-0.2 0.2 0.2 0.3 0.9 0.5 2.1z"/>
<path fill="#707070" d="M148.5 120.3l-0.3 0.1-0.4 0-0.3-0.1-0.5-0.6-0.3-0.7-0.3-0.8 0-0.7 0.1-0.7-1-0.8-0.2-0.5 0.1-0.3 0.4-0.4 0.1-0.8 0.3-0.5 0.8-0.6 0.8-0.2 1 0.1 0.8 0.4 0.4 0.6 0.1 0.4 0.1 0.6 0.4 0.4 0.1 0.3-0.2 0.5-1 0.8 0.1 1-0.1 0.8-0.5 1.1z"/>
<path fill="#767676" d="M148 120l-0.5-0.2-0.5-0.6-0.3-0.4-0.2-0.8 0-0.8 0.1-0.4-1-0.8-0.2-0.5 0.3-0.5 0.3-0.2 0.1-0.8 0.4-0.5 0.7-0.5 0.8-0.2 0.8 0.2 0.7 0.5 0.4 0.5 0.1 0.8 0.3 0.2 0.3 0.5-0.2 0.5-1 0.8 0.1 0.4 0 0.8-0.2 0.8-0.3 0.4-0.5 0.6z"/>
<path fill="#7c7c7c" d="M148.2 119.6l-0.4 0-0.3-0.1-0.5-0.6-0.2-0.5-0.2-0.6 0.1-1-0.2-0.3-0.8-0.5-0.2-0.5 0.3-0.5 0.3-0.2 0.3-0.8 0.3-0.5 0.5-0.3 0.8-0.2 0.8 0.2 0.5 0.3 0.3 0.5 0.3 0.8 0.3 0.2 0.3 0.5-0.2 0.5-0.8 0.5-0.2 0.3 0.1 0.7-0.2 0.9-0.4 0.9z"/>
<path fill="#828282" d="M148.2 119.3l-0.4 0-0.3-0.1-0.4-0.4-0.4-1 0.1-1-0.2-0.3-0.5-0.3-0.3-0.2-0.2-0.5 0.3-0.5 0.5-0.5 0.4-0.7 0.4-0.4 0.8-0.2 0.8 0.2 0.4 0.4 0.4 0.7 0.5 0.5 0.3 0.5-0.2 0.5-0.3 0.2-0.5 0.3-0.2 0.3 0.1 0.7-0.1 0.7-0.4 0.8z"/>
<path fill="#888888" d="M148.2 119.1l-0.4 0-0.6-0.4-0.2-0.5-0.2-0.4 0.1-1-0.2-0.3-0.5-0.3-0.3-0.2-0.2-0.5 0.3-0.5 0.7-0.5 0.2-0.5 0.2-0.2 0.4-0.3 0.5-0.1 0.5 0.1 0.4 0.3 0.2 0.2 0.2 0.5 0.7 0.5 0.3 0.5-0.2 0.5-0.3 0.2-0.5 0.3-0.2 0.3 0.1 0.7-0.2 0.7-0.2 0.5z"/>
<path fill="#8e8e8e" d="M148.2 118.8l-0.4 0-0.6-0.4-0.2-0.6 0-1-0.1-0.3-0.9-0.4-0.2-0.3-0.1-0.3 0.3-0.5 1-0.5 0.2-0.5 0.4-0.2 0.4-0.1 0.4 0.1 0.4 0.2 0.2 0.5 1 0.5 0.3 0.5-0.1 0.3-0.2 0.3-0.9 0.4-0.1 0.3 0.1 0.7-0.1 0.5-0.3 0.5z"/>
<path fill="#949494" d="M148.2 118.6l-0.4 0-0.5-0.4-0.2-0.7 0-1-0.6-0.2-0.5-0.3-0.1-0.2-0.1-0.3 0.1-0.3 0.2-0.2 0.7-0.4 0.5-0.1 0.2-0.3 0.5-0.2 0.5 0.2 0.2 0.3 0.5 0.1 0.7 0.4 0.2 0.2 0.1 0.3-0.1 0.3-0.1 0.2-0.5 0.3-0.6 0.2 0 1.3-0.2 0.4z"/>
<path fill="#9a9a9a" d="M148.2 118.4l-0.4 0-0.4-0.4-0.2-0.8 0.1-0.7-0.8-0.3-0.4-0.2-0.2-0.2 0-0.3 0.1-0.3 0.2-0.2 0.8-0.4 1-0.1 1 0.1 0.8 0.4 0.2 0.2 0.1 0.3 0 0.3-0.3 0.3-1.1 0.4 0.1 0.7 0 0.6-0.3 0.4z"/>
<path fill="#a0a0a0" d="M148.2 118.1l-0.2 0.1-0.2-0.1-0.4-0.3-0.1-0.6 0.1-0.7-0.9-0.3-0.5-0.4 0-0.3 0.1-0.3 0.4-0.3 0.7-0.3 1.3 0 1 0.3 0.4 0.3 0.1 0.3 0 0.3-0.2 0.2-0.4 0.2-0.8 0.3 0.1 0.5 0 0.5-0.2 0.4z"/>
<path fill="#a6a6a6" d="M148.2 117.8l-0.2 0.1-0.2-0.1-0.3-0.3 0-0.5 0.1-0.5-0.9-0.3-0.4-0.2-0.2-0.2 0-0.3 0.1-0.3 0.2-0.2 0.8-0.3 1-0.1 1 0.2 0.6 0.4 0.1 0.3 0 0.3-0.2 0.2-0.5 0.3-0.8 0.2 0.1 0.7 0 0.3z"/>
<path fill="#acacac" d="M148 117.6l-0.2-0.1-0.1-0.3 0-0.4 0.1-0.3-1-0.3-0.4-0.2-0.2-0.2-0.1-0.3 0.1-0.3 0.3-0.2 0.7-0.3 1-0.1 1 0.3 0.6 0.3 0.1 0.3-0.1 0.3-0.2 0.2-0.4 0.2-1 0.3 0.1 0.3 0 0.4-0.1 0.3z"/>
<path fill="#b2b2b2" d="M149 116.3l-1 0.2-1-0.2-0.5-0.3-0.2-0.2-0.1-0.3 0.1-0.3 0.3-0.2 0.6-0.2 0.8-0.1 0.8 0.1 0.6 0.2 0.3 0.2 0.1 0.3-0.1 0.3-0.2 0.2z"/>
<path fill="#b8b8b8" d="M148.8 116.3l-0.8 0.1-0.9-0.2-0.5-0.2-0.2-0.2-0.1-0.3 0.1-0.3 0.3-0.2 0.5-0.2 1-0.1 0.8 0.2 0.5 0.3 0.2 0.3-0.1 0.3-0.2 0.2z"/>
<path fill="#bebebe" d="M148.5 116.3l-0.7 0-0.8-0.1-0.5-0.4-0.1-0.3 0.1-0.3 0.3-0.1 0.7-0.3 0.7 0 0.9 0.2 0.4 0.2 0.1 0.3 0 0.3-0.4 0.2z"/>
<path fill="#c4c4c4" d="M148.2 116.3l-0.7-0.1-0.7-0.2-0.3-0.2 0-0.3 0.1-0.3 0.6-0.3 0.8-0.1 0.8 0.1 0.6 0.3 0.1 0.3 0 0.3-0.3 0.2z"/>
<path fill="#cacaca" d="M149 116l-0.8 0.2-0.7 0-0.6-0.2-0.3-0.2 0-0.3 0.1-0.3 0.5-0.2 0.6-0.1 0.7 0 0.7 0.3 0.2 0.3 0 0.3z"/>
<path fill="#d0d0d0" d="M148.8 116.1l-0.8 0.1-0.8-0.1-0.4-0.3-0.1-0.3 0.1-0.3 0.5-0.2 0.7-0.1 0.7 0.1 0.5 0.2 0.1 0.3-0.1 0.3z"/>
<path fill="#d6d6d6" d="M148.8 116l-0.8 0.2-0.8-0.2-0.4-0.2-0.1-0.3 0.2-0.3 0.6-0.2 1 0 0.6 0.2 0.2 0.3-0.1 0.3z"/>
<path fill="#dcdcdc" d="M148.5 116.1l-0.5 0-0.7-0.1-0.4-0.2-0.1-0.3 0.2-0.3 0.5-0.1 0.5-0.1 0.5 0.1 0.5 0.1 0.2 0.3-0.1 0.3z"/>
<path fill="#e2e2e2" d="M148.5 116l-1 0-0.5-0.2-0.1-0.3 0.2-0.3 0.4-0.1 0.5-0.1 0.5 0.1 0.4 0.1 0.2 0.3-0.1 0.3z"/>
<path fill="#e8e8e8" d="M148 116l-0.8-0.2-0.1-0.3 0.2-0.3 0.7-0.1 0.7 0.1 0.2 0.3-0.1 0.3z"/>
<path fill="#eeeeee" d="M148.5 115.8l-0.7 0.1-0.5-0.1-0.1-0.3 0.3-0.3 0.3 0 0.7 0 0.3 0.3-0.1 0.3z"/>
<path fill="#f4f4f4" d="M148.5 115.8l-0.7 0-0.3 0-0.2-0.3 0.4-0.3 0.6 0 0.4 0.3z"/>
<path fill="#fafafa" d="M148.2 115.8l-0.5 0-0.2-0.3 0.3-0.1 0.4 0 0.3 0.1z"/>
</g>
</g></g>
<clipPath id="cpb"><rect x="38.9" y="266.7" width="217.1" height="172.7"/></clipPath>
<clipPath id="cwb"><rect x="135" y="332" width="25" height="24"/></clipPath>
<g clip-path="url(#cpb)"><g filter="url(#jet)">
<g filter="url(#bl)"><rect x="30" y="258" width="234" height="190" fill="#000"/>
<path fill="#020202" d="M158 438l-32-0.1-27-0.5-21-0.8-18-1-27-1.9-0.2-50.7 0.2-63.4 114-7.4 114 7.4 0.2 63.4-0.2 50.7-24 1.7-23 1.2-27 1z"/>
<path fill="#040404" d="M197 436l-19 0.6-21 0.3-23 0-21-0.4-25-0.8-19-1-19-1.3-17-1.4-0.2-49 0.2-51.3 84-5.5 24-2.4 6-0.4 7 0.5 23 2.3 84 5.4 0.2 51.4-0.2 49-16 1.4-16 1.1z"/>
<path fill="#060606" d="M160 436l-32-0.1-30-0.8-16-0.7-17-1-15-1.1-17-1.6-0.2-47.7 0.2-45.7 81-5.3 9.3-1 15.7-2.7 8-0.7 8 0.7 15.9 2.7 9.1 1 81 5.3 0.2 45.7-0.2 47.7-22 2-28 1.8-26 1z"/>
<path fill="#080808" d="M176 435l-18 0.3-19 0.1-17-0.3-20-0.6-19-0.9-17-1.1-16-1.2-17-1.7-0.2-46.6 0.2-42 82-5.4 4.8-0.6 4.2-0.7 15-3.4 4-0.6 4-0.3 4 0.3 4 0.5 4 0.8 11 2.6 4.4 0.8 4.6 0.5 82 5.5 0.2 42-0.2 46.6-20 1.9-23 1.7-22 1.2z"/>
<path fill="#0a0a0a" d="M187 434l-19 0.6-20 0.2-20-0.2-19-0.5-20-0.9-21-1.4-17-1.4-18-1.9-0.1-45.5 0.1-39.3 73.4-4.7 8.6-0.7 4-0.5 4.1-0.8 11.9-3.4 4-0.9 4-0.7 4-0.3 4 0.3 4 0.6 4 0.9 12 3.5 4 0.7 4 0.6 8.8 0.7 73.2 4.7 0.1 39.3-0.1 45.5-18 1.9-17 1.5-21 1.3z"/>
<path fill="#0c0c0c" d="M164 434l-17 0.2-17-0.2-18-0.4-17-0.8-17-1-15-1.2-15-1.4-15-1.8-0.1-44.4 0.1-37 73-4.8 9-0.7 4-0.6 4.3-0.9 10.7-3.5 4-1.2 5-0.9 4-0.3 4 0.3 5 0.9 4 1.1 11 3.6 4 0.9 4 0.6 9 0.7 73 4.7 0.1 37.1-0.1 44.4-22 2.5-24 2-26 1.4z"/>
<path fill="#0e0e0e" d="M181 433l-19 0.5-20 0.1-19-0.3-19-0.7-19-1-18-1.4-17-1.7-17-2.2-0.1-43.3 0.1-35.2 74-4.8 9-0.8 4-0.7 4-1 11-4 4-1.2 4-0.8 4-0.3 4 0.3 4 0.7 4 1.2 12 4.4 4 0.9 4 0.6 8.2 0.7 73.8 4.8 0.1 35.2-0.1 43.4-18 2.2-20 1.9-22 1.6z"/>
<path fill="#101010" d="M157 433l-16 0-17-0.2-16-0.6-16-0.8-16-1.2-15-1.4-15-1.7-13-1.8-0.1-42.3 0.1-33.6 67.6-4.4 15.4-1.2 4-0.7 4-1.1 11-4.4 4-1.3 4-0.9 4-0.3 4 0.3 4 0.9 4 1.3 11.1 4.4 3.9 1.1 5 0.8 14.6 1.1 67.4 4.4 0.1 33.6-0.1 42.3-12.2 1.7-11.8 1.4-25 2.3-27 1.6z"/>
<path fill="#121212" d="M177 432l-19 0.5-19 0-18-0.4-19-0.8-18-1.1-18-1.7-17-2-16-2.3 0-73.5 73.3-4.7 10.7-1 4-0.7 4-1.2 10-4.4 4-1.4 4-1 4-0.4 4 0.3 4 1 4 1.4 11 4.7 4 1.1 4 0.7 9.9 0.9 73.1 4.7 0 73.5-19.5 2.8-20.5 2.2-22 1.7z"/>
<path fill="#141414" d="M151 432l-16-0.1-15-0.3-16-0.8-15-0.9-15-1.3-14.3-1.6-14.8-2-11.9-2 0-71 75-4.9 9-0.9 4-0.7 4-1.2 10-4.7 5-1.8 4-0.9 3-0.3 3 0.2 4 0.9 5 1.9 10 4.6 4 1.3 4 0.7 9 0.9 75 4.9 0 71.1-11.7 1.9-14.3 1.9-13 1.5-13 1.2-14 1-15 0.7-14 0.5z"/>
<path fill="#161616" d="M174 431l-18 0.4-19 0-19-0.5-18.2-0.9-17.8-1.4-17-1.8-16-2.2-16-2.7 0-68.9 74-4.7 10-0.9 4-0.8 4-1.2 3-1.3 7-3.6 5-2 4-1 3-0.3 3 0.3 4 0.9 5 2.1 7 3.5 3 1.3 4 1.3 4 0.7 10 1 74 4.7 0 68.9-19 3.2-12 1.6-11 1.3-22 1.8z"/>
<path fill="#181818" d="M184 430l-20 0.8-20 0.2-20-0.4-20-0.9-21-1.7-17.9-2-17.1-2.5-15-2.8 0-67.1 16.7-0.6 58.3-3.8 9-0.8 5-1 4-1.3 9.8-5.1 4.2-1.8 3-0.9 4-0.5 4 0.5 3 0.8 4 1.7 8 4.2 3 1.4 4 1.2 4 0.7 9 0.9 58.5 3.8 16.5 0.5 0 67.2-18 3.3-18 2.5-20 2.1z"/>
<path fill="#1a1a1a" d="M171 430l-19 0.4-19-0.1-18-0.6-18-1.1-16.9-1.6-16.1-2-17-2.7-14-2.9 0-65.1 1.1-0.3 7.9-0.4 21.8-0.6 46-3 8.2-0.8 4-0.8 4-1.3 3-1.5 7-3.9 4-1.8 4-1.2 3-0.3 3 0.3 4 1.1 4 1.8 7 3.9 3 1.5 4 1.3 4 0.8 8.4 0.9 46 3 21.6 0.6 8.1 0.4 0.9 0.2 0 65.2-7.3 1.6-10.7 2-12.8 2-10.2 1.3-12 1.3-12 1-12 0.8z"/>
<path fill="#1c1c1c" d="M181 429l-20 0.8-20 0.1-21-0.6-19-1.1-20-1.9-17.8-2.3-17-3-13.2-3 0-61.9 9.1-2.1 15.9-0.6 18.9-0.4 31.1-2 10.3-1 4.7-1 3-1 3-1.4 7.8-4.6 3.2-1.5 4-1.3 3-0.3 3 0.3 4 1.2 3.4 1.6 7.6 4.4 3 1.5 3.1 1.1 4.8 1 10.1 1 31.3 2 19.7 0.4 15.1 0.6 8.9 2 0 62.1-8.2 1.9-10 2-18.8 3-20 2.3zM144.1 342l-1.1-0.3-0.2 0.3 0.2 0.5zM151.2 342l-0.2-0.2-0.9 0.2 0.9 0.4z"/>
<path fill="#1e1e1e" d="M167 429l-19 0.3-18-0.2-19-0.8-16.6-1.3-17.4-1.9-14.2-2.1-15.9-3-13.9-3.4 0-59.4 8.2-1.2 8.7-2 18.1-0.6 21.1-0.4 21.9-1.5 8-0.8 4-0.8 4-1.4 3-1.6 7-4.3 4-2 3-0.9 3-0.3 3 0.3 3 0.9 4 1.9 7 4.3 3 1.6 4 1.4 4 0.9 8 0.8 22.1 1.5 20.9 0.4 18.3 0.6 8.7 2 8 1.2 0 59.5-9.2 2.3-9.8 2.1-10.6 1.9-13.6 2-11.8 1.4-13 1.2-12 0.8zM145 342l-2-0.5-0.4 0.5 0.4 0.9zM151.3 342l-0.3-0.5-1.7 0.5 1.7 0.8z"/>
<path fill="#202020" d="M176 428l-20 0.7-19 0-19.5-0.7-18.5-1.3-18-1.9-18.3-2.8-15-3-8.1-2-6.6-1.9 0-56.9 15.5-2.2 8.8-2 21.7-0.7 21.4-0.3 13.6-1 6-0.7 4-0.9 4-1.6 3-1.6 6.5-4.2 3.5-1.8 3-1 3-0.4 3 0.4 3 0.9 3.7 1.9 6.3 4 3.5 2 3.5 1.3 4 1 6 0.7 13.8 1 21.2 0.3 21.9 0.7 8.8 2 15.3 2.2 0 57-9 2.5-9 2.1-11 2.1-9 1.5-11 1.5-10 1.2-12 1zM143.7 343l1.9-1-2.6-0.7-0.6 0.7 0.6 1.3zM151.1 343l0.4-1-0.5-0.7-2.5 0.7 2.5 1.3z"/>
<path fill="#222222" d="M159 428l-18 0.1-18-0.5-17-1-17-1.7-16-2.1-14-2.5-14-3.2-12-3.5 0-54.3 22.4-3.3 8.6-2 21-0.6 25.6-0.4 9.6-1 4.4-1 3.4-1.3 3-1.7 7.6-5 3.4-1.7 1 2.5 3.5-1.8-1.5-0.6-2.1-0.4 2.1-0.6 2-0.1 2 0.1 2.3 0.6-2.3 0.4-1.4 0.6 3.4 1.7 1-2.5 3.6 1.8 7.4 4.9 3 1.7 3.6 1.4 4.4 1 9.6 1 25.4 0.3 21.2 0.7 8.6 2 22.2 3.3 0 54.3-10 3-11 2.7-12 2.3-13 2.1-14 1.7-13 1.2-15 0.9z"/>
<path fill="#242424" d="M149 341.1l-2 0.5-2.5-0.6 2.5-0.3 2.7 0.3zM170 427l-19 0.5-20-0.2-19-1-18-1.6-18-2.3-16-3-14.3-3.4-6.7-2-6-2 0-51.2 8.8-1.8 14.2-2 5-0.9 9-2.1 20-0.6 27.9-0.4 2.1-0.3 5-1.1 3.9-1.6 3.1-1.8 7-4.8 3-1.6 1 2.4 3-1.7 1-0.3 1 0.2 3 1.7 1-2.4 3 1.5 7 4.8 3.3 2 3.7 1.5 4 1 3.3 0.5 28.7 0.4 19.2 0.6 9.8 2.3 18.4 2.7 8.6 1.7 0 51.4-9 2.9-9 2.4-11 2.5-11 2-12 1.8-13 1.5-13 1.1z"/>
<path fill="#262626" d="M177 426l-20 0.8-21 0-20-0.9-19-1.6-9-1-10-1.5-9-1.5-8-1.7-8-1.9-7-1.9-7-2.2-6-2.3 0-47.6 10-2.7 19.4-3 5.1-1 7.8-2 16.7-0.5 30.1-0.5 3.9-1 4-1.8 3-1.9 5.9-4.3 3.1-1.7 1 2.4 3-1.9 1-0.3 1 0.2 3 1.9 1-2.4 3.3 1.8 6.7 4.9 3 1.7 3.2 1.4 3.9 1 29.9 0.5 16.9 0.5 7.8 2 5.1 1 19.4 3 9.8 2.6 0 47.8-8 2.9-9 2.7-10 2.4-10 2.1-11 1.8-11 1.5-13 1.3z"/>
<path fill="#282828" d="M164 426l-19 0.3-20-0.5-18-1.2-18-2-17-2.7-15-3.3-12.6-3.6-5.7-2-5.7-2.4 0-43.8 8-2.6 4.4-1.2 4.5-1 18.3-3 4.8-1.1 6.7-1.9 15.3-0.5 29.9-0.5 3.1-1.1 3-1.5 3-2 5-3.8 3-1.9 1 2.5 3-2.1 1-0.3 1 0.2 3 2 1-2.3 3 1.7 8 5.9 3 1.5 3.3 1.2 29.7 0.5 15.5 0.5 6.5 1.9 5 1.1 18.3 3 4.5 1 4.2 1.1 8 2.6 0 44-8.3 3.3-10.7 3.4-11 2.7-12 2.4-13 2-14 1.7-14 1.1z"/>
<path fill="#2a2a2a" d="M172 425l-19 0.7-20-0.2-19-1-18-1.7-17-2.5-15-3-7-1.7-7-2.1-6-2-6-2.3-5-2.3 0-40 11.5-3.9 4.5-1.3 7.7-1.7 16.3-2.9 4.2-1.1 6.6-2 43.2-1 2.4-1 2.6-1.5 7.2-5.5 2.8-1.8 1 2.5 3-2.3 1-0.3 1 0.2 3 2.2 1-2.4 3 1.9 7 5.4 2.8 1.6 2.4 1 43.2 1 6.5 2 4.1 1 16.5 3 7.5 1.7 4.7 1.3 11.3 3.8 0 40.2-7 3.1-9 3.2-10 2.8-11 2.6-12 2.2-13 1.8-14 1.4z"/>
<path fill="#2c2c2c" d="M158 425l-17 0.1-18-0.6-17-1.3-16-1.9-15-2.5-14-3.2-12-3.6-5.4-2-4.7-2-5.9-3 0-36 13-4.6 7-2.1 6-1.5 16-3.1 5-1.3 7.6-2.4 41.1-1 2.3-1.1 2-1.3 7-5.6 2-1.3 1 2.5 2.6-2.2 1.4-0.6 1 0.2 3 2.4 1-2.4 2.2 1.4 6.8 5.5 2.4 1.5 2.1 1 41.1 1 12.4 3.7 16.9 3.3 6.1 1.5 6 1.9 13 4.6 0 36.1-1 0.6-8 3.7-10 3.6-12 3.4-13 2.8-14 2.2-15 1.8-15 1.2z"/>
<path fill="#2e2e2e" d="M168 424l-17 0.5-17-0.1-17-0.9-17-1.6-15-2.1-14.3-2.8-12.7-3.3-5.5-1.7-5.5-2-7-3-3.8-2-3.2-2 0-31.7 10.9-4.3 11.1-3.7 7-1.8 16-3.4 13.4-4.1 38.8-1 3.8-2.3 5.5-4.7 2.5-1.8 1 2.6 3-2.7 1-0.4 1.1 0.3 2.9 2.6 1-2.5 2.7 1.9 5.3 4.5 4 2.5 38.8 1 13.2 4 17 3.7 7 1.9 10.3 3.4 10.7 4.2 0 32-3 1.8-3.9 2-4.1 1.9-8.3 3.1-10.1 3-10.6 2.5-12 2.3-13 1.9-14 1.4z"/>
<path fill="#303030" d="M175 423l-16 0.8-17 0.2-17-0.6-16-1.2-15-1.8-15-2.5-13-2.9-6-1.7-6-2-6.2-2.3-5.8-2.6-4.4-2.4-4.6-3.2 0-27.3 13-5.5 10-3.4 8-2.2 17-4 14.2-4.4 26.8-0.6 9.5-0.4 3.5-2.3 5.2-4.7 1.8-1.3 1 2.7 3-3 1-0.5 1 0.3 3 3 1-2.7 2 1.5 5 4.5 3.7 2.5 9.3 0.4 27 0.6 15 4.6 16 3.7 8 2.2 10.2 3.5 12.8 5.4 0 27.6-5 3.3-7.2 3.7-7.6 3-8.2 2.6-10 2.6-11 2.3-12 2-12 1.4z"/>
<path fill="#323232" d="M165 423l-15 0.4-15-0.2-15-0.7-15-1.3-14-1.9-13-2.4-12.1-2.9-10.9-3.4-6.5-2.6-6.1-3-4.9-3-2.6-2-1.9-1.8 0-22.6 13-5.9 8-3 10-3 20-5 14.7-4.7 24.3-0.6 9.7-0.4 3.3-2.4 3.8-3.6 2.2-1.8 1 2.9 2.6-3.1 1.4-0.8 1 0.3 0.6 0.5 2.4 2.9 1-2.9 2.4 2 3.6 3.5 3.5 2.5 10.5 0.5 23.5 0.5 15.5 4.9 19 4.8 10 3 8 3 13 5.8 0 22.9-1.7 1.6-2.6 2-3.1 2-3.7 2-6.9 3.1-9 3.2-9.5 2.7-10.5 2.4-11 1.9-12 1.6-13 1.3z"/>
<path fill="#343434" d="M172 422.1l-15 0.6-15 0.1-15-0.5-14-1-14-1.5-13-2.1-12.8-2.7-10.8-3-9.4-3.4-7.7-3.6-3.4-2-2.9-2-2.4-2-2-2-1.6-2.2 0-16.8 3.6-2 10.5-5 7.9-3.2 11-3.3 21-5.5 5-1.6 6.5-2.4 3.6-1 20.9-0.5 10.8-0.5 3.2-2.5 5-4.8 1 3.2 2.1-2.9 0.9-1 1-0.5 1.2 0.5 1 1 1.8 2.6 1-3 1.7 1.4 4 4 2.7 2 10.6 0.5 21.1 0.5 3.6 1 11.5 4 21.8 5.7 10 3 4 1.5 4.1 1.8 10.5 5 3.4 1.9 0 17.2-2.3 2.9-3.5 3-4.2 2.8-4 2.2-6.7 3-7.3 2.6-8.1 2.4-9.9 2.4-10 1.9-10 1.5-12 1.4z"/>
<path fill="#363636" d="M162 422l-13 0.3-14-0.2-13-0.6-13-1.1-12-1.6-12-2-10-2.2-10-2.8-8.1-2.8-6.9-3-5.4-3-2.9-2-2.4-2-2.8-3-1.3-2-0.9-2-0.6-3-0.7-1.3 0-6.4 2.6-2.3 3.2-2 11.9-6 4.3-1.8 4-1.4 8-2.3 24.2-6.5 3.8-1.3 6.7-2.7 3.9-1 18.4-0.4 10.9-0.6 2.5-2 4.6-4.7 1 3.6 2.3-3.9 0.7-0.7 1-0.5 1 0.3 0.8 0.9 0.8 1 1.4 2.5 1-3.4 5 5.1 2.3 1.8 10.7 0.6 18.6 0.4 3.9 1 7.4 3 3.1 1 24 6.4 8 2.3 4 1.4 4 1.7 10.4 5.2 3.7 2 3.9 3 0 7.1-0.5 0.9-0.3 2-0.7 2-1.8 3-2.8 3-3.8 3-5 3-6.3 3-6.8 2.6-8 2.5-9 2.3-10 2-10 1.6-11 1.4-11 1z"/>
<path fill="#383838" d="M170 421.1l-13 0.5-14 0.2-13-0.4-13-0.9-13-1.3-12-1.8-11-2.2-10-2.5-8.5-2.7-7.5-3-6-3-3.2-2-2.7-2-3.2-3-1.5-2-1.1-2-0.8-2-0.3-2-0.5-2-0.3-4 0.3-1 0.9-1 4.4-3 11-6 4.4-2 3.6-1.3 7-2.1 28.7-7.6 2.6-1 4-2 2.7-1 4-0.9 18-0.6 8.9-0.5 2.1-1.8 4-4.3 1 4.1 1.9-4 1.1-1.4 1-0.5 1 0.3 1.3 1.6 1.7 3.6 1-3.9 4 4.3 2.3 2 10.7 0.6 15.7 0.4 1.3 0.3 3.2 0.7 2.7 1 4 2 2.6 1 28.5 7.6 7 2 3.8 1.4 3.2 1.4 10.5 5.6 4.7 3 1.4 1 0.9 1 0.3 1-0.1 3-1 5-1.3 3-1.3 2-2.8 3-3.9 3-4.4 2.7-4.8 2.3-6.2 2.5-7.4 2.5-7.6 2.1-9 2-9 1.6-10 1.5-10 1.1z"/>
<path fill="#3a3a3a" d="M160 421l-12 0.2-13-0.2-12-0.6-12-1-12-1.6-10.7-1.8-10.3-2.3-9-2.5-7-2.4-7-3.1-6-3.3-4.5-3.4-2.9-3-1.3-2-0.9-2-0.9-4 0-5 0.4-1 1.1-1 4.6-3 10.6-6 2.8-1.3 4-1.5 6-1.8 30-7.7 3-1.1 4.7-2.6 3-1 5-1 13.3-0.4 9.9-0.6 2.1-2 3-3.5 1 4.8 1.6-4.3 1.3-2 1.1-0.7 1 0.4 1 1.3 1.4 3 0.6 1.8 1-4.5 3.2 3.7 2.1 2 9.7 0.6 13.5 0.4 5 1 3 1 4.5 2.5 3 1.1 30 7.8 6 1.7 4 1.5 3 1.4 10.6 6 4.6 3 1.1 1 0.4 1 0 5-0.6 3-1.2 3-2.2 3-3.2 3-4.3 3-5.2 2.8-5 2.3-7 2.5-8 2.4-8.3 2-9.7 1.9-10 1.5-10 1.2-10 0.8z"/>
<path fill="#3c3c3c" d="M169 420l-12 0.6-13 0.1-13-0.4-12-0.7-12-1.3-12-1.8-11-2.1-9.3-2.4-9.3-3-7.2-3-5.6-3-3.1-2-2.5-2-2.8-3-1.4-2-0.9-2-0.9-4 0.2-3 0.3-2 0.6-1 1.2-1 4.7-3 8.4-5 5.6-2.6 4-1.4 4-1.1 31.8-7.9 2.7-1 3.1-2 2-1 3.4-1 4.2-1 11.8-0.4 8.8-0.6 2-2 2.2-2.7 0.9 4.7 0.2 0 1.8-5 1.1-1.8 1-0.6 1 0.4 1.3 2 1.7 5 1-5 3 3.7 1.4 1.3 9.6 0.6 11 0.4 4.2 1 3.4 1 2 1 3.1 2 2.7 1 31.6 7.8 4.2 1.2 3.8 1.3 5.7 2.7 8.5 5 4.7 3 1.2 1 0.6 1 0.3 2 0.2 3-0.4 2-0.9 3-1.9 3-2.8 3-4 3-4.2 2.5-5.2 2.5-6.8 2.6-7 2.3-7 1.8-8 1.8-8 1.4-9 1.3-9 1z"/>
<path fill="#3e3e3e" d="M158 420l-11 0.2-12-0.2-12-0.7-11-1-11-1.4-10-1.8-9.5-2.1-8.5-2.4-7.4-2.6-6.8-3-5.2-3-4.1-3-2.9-3-1.3-2-1-2-0.9-4 0.2-2 0.5-2 0.3-1 0.7-1 1.3-1 11.4-7 5.2-2.8 5-1.8 24-6 10.6-2.4 3.8-1 2.3-1 5.2-3 6.1-2 10-0.4 8.8-0.6 1.2-1.3 2-2.6 0.7 3.9 0.7 0 0.9-3 0.8-2 0.9-1.5 1-0.6 1 0.4 1.1 1.7 0.4 1 1.2 4 0.5 0 0.8-4.2 2 2.6 1.4 1.6 8.6 0.6 10.2 0.4 6.1 2 5.2 3 2.3 1 3.8 1 10.4 2.3 24 6.1 4.7 1.6 4.1 2 13 8 1.3 1 0.7 1 0.6 2 0.4 3-0.9 4-1 2-1.3 2-2.9 3-4.1 3-5.2 3-6.8 3-6.6 2.3-8 2.4-8 1.8-9 1.8-9 1.3-10 1.2-10 0.7z"/>
<path fill="#404040" d="M168 419l-11 0.5-12 0.2-12-0.3-11-0.7-11-1.1-11-1.5-10-1.9-9.3-2.2-8.7-2.7-7-2.7-7-3.5-4.7-3.1-3.3-3-1.6-2-1.2-2-0.7-2-0.3-2-0.5-1 0.3-2 1.2-3 0.9-1 0.9-0.7 13.4-8.3 4.2-2 3.4-1.2 5-1.4 21-5 11.2-2.4 3.6-1 2.3-1 4.2-3 2.1-1 3-1 8.6-0.4 8.7-0.6 2.3-3 0.5 3 0.5 0.1 0.8-0.1 0.7-3 0.8-2 0.7-1.1 1-0.8 1 0.5 0.9 1.4 0.8 2 0.8 3 0.9 0 0.6-3.2 2.5 3.2 8.5 0.6 8.8 0.4 3 1 2.1 1 4.2 3 2.3 1 3.6 1 12 2.6 19 4.5 6.8 1.9 5.1 2 3.6 2 11.5 7.2 1.1 0.8 0.9 1 0.5 1 0.7 2 0.3 2-0.5 1-0.3 2-0.7 2-1.9 3-3 3-2.5 2-4.9 3-4.7 2.3-6.8 2.7-6.2 2-7 1.9-7 1.6-8 1.5-9 1.3-9 1z"/>
<path fill="#424242" d="M158 419l-11 0.2-11-0.2-10-0.5-11-1-9-1.1-10-1.7-9-1.9-8-2.1-7-2.3-6-2.5-5.7-2.9-4.5-3-3.3-3-2.3-3-0.9-2-0.7-3-0.7-1 0.4-2 1.6-3 1-1 6.6-4 7.7-5 4.4-2 8.4-2.5 21-4.8 12.5-2.7 2.5-0.7 0.8-0.3 1.8-1 3.2-3 1.8-1 2.9-1 16.1-1 1.4-1.9 0.3 1.9 0.7 0.2 1-0.2 0.4-2 1.1-3 0.5-0.8 1-0.8 1 0.5 0.7 1.1 0.8 2 0.7 3 0.8 0.2 0.6-0.2 0.4-2.2 1.6 2.2 16.1 1 2.9 1 1.8 1 3.2 3 1.8 1 1.6 0.5 35 8 8.6 2.5 4.4 2 7.7 5 6.6 4 1 1 1.6 3 0.4 2-0.7 1-0.3 2-0.8 2-1.9 3-1.9 2-2.7 2.3-4.1 2.7-4.9 2.5-5.9 2.5-6.1 2.1-7 2-7 1.7-9 1.7-8 1.2-9 1-9 0.8z"/>
<path fill="#444444" d="M167 418l-11 0.6-11 0.1-11-0.3-11-0.7-10-1-10-1.4-9-1.6-9-2.1-7-2.1-7-2.5-6.4-3-5-3-3.8-3-2.6-3-1.6-3-0.6-3-0.9-1 0.2-1 0.7-1.8 0.8-1.2 0.7-1 1.1-1 6.9-4 5.9-4 3.7-2 4.9-1.8 5-1.4 35.2-7.8 2.6-1 1.2-0.8 2.9-3.2 1.7-1 2.8-1 15.1-1 0.5-0.7 0.1 0.7 0.9 0.2 1-0.1 1.7-5.1 0.3-0.5 1-0.8 1 0.5 0.5 0.8 0.8 2 0.7 3 1 0.2 0.8-0.2 0.2-1 0.7 1 15.1 1 2.8 1 1.8 1 2.6 3 1.4 1 2.6 1 35 7.8 4.5 1.2 5.5 1.9 3.8 2.1 5.9 4 6.9 4 1.4 1.4 1.6 2.6 0.5 2-0.9 1-0.6 3-1.6 3-1.6 2-3.4 3-2.9 2-4.1 2.3-5 2.3-5 1.9-6 2-7 1.9-7 1.5-7 1.3-8 1.2-9 1z"/>
<path fill="#464646" d="M158 418l-10 0.2-10-0.1-10-0.5-10-0.8-9-1.1-9-1.5-9-1.9-8-2.1-6.8-2.2-6.2-2.5-4.9-2.5-4.6-3-3.4-3-2.3-3-1-2-0.6-3-0.9-1 0.2-1 0.5-1.1 1.2-1.9 0.9-1 1.2-1 5.4-3 7.5-5 3.8-2 4-1.5 5.4-1.5 31.6-6.9 4-1.1 2.1-1 0.9-0.8 2.7-3.2 1.7-1 2.8-1 13.8-1 1 0.3 1-0.2 0.2-0.1 1.2-4 0.5-1 1.1-1.1 1 0.6 0.3 0.5 0.9 2 0.8 3.1 1 0.2 1-0.3 14 1 2.8 1 1.7 1 2.5 3.1 1.1 0.9 2.1 1 3.8 1.1 31.8 6.9 5.2 1.4 4.2 1.6 3.8 2 7.5 5 5.4 3 1.2 1 0.9 1 1 1.5 0.7 1.5 0.2 1-0.9 1-0.3 2-0.8 2-1.9 3-2 2.1-3.7 2.9-3.2 2-5.1 2.6-6 2.4-6 2-6 1.7-7 1.6-8 1.5-8 1.2-8 0.9-8 0.7z"/>
<path fill="#484848" d="M167 417.1l-10 0.5-11 0.2-10-0.2-10-0.6-10-1-10-1.3-9-1.7-8-1.9-7.4-2.1-6.6-2.4-5.7-2.6-5.2-3-3.8-3-2.7-3-1.6-3-0.7-3-0.9-1 0.3-1 1.2-2 1.7-2 1.3-1 5.6-3 7.6-5 3.6-2 3.3-1.2 5-1.4 16-3.4 17.3-4 2.8-1 1.9-1 1-1 1.4-2 1-1 1.7-1 2.5-1 12.4-0.9 1 0.2 1-0.1 0.3-0.2 1.2-4 0.5-0.9 1-0.9 1 0.6 0.6 1.2 1.2 4 0.2 0.1 1 0.2 1-0.2 12.6 0.9 2.5 1 1.7 1 1 1 1.4 2 1 1 1.9 1 2.7 1 17.4 4 15.8 3.3 5 1.4 3.5 1.3 3.6 2 7.6 5 5.6 3 2.2 2 1.5 2 0.5 1 0.3 1-0.9 1-0.4 2-0.7 2-1.2 2-1.7 2-2.9 2.6-3.5 2.4-3.6 2-4.9 2.3-5 1.9-6 1.9-6 1.6-7 1.6-14 2.3z"/>
<path fill="#4c4c4c" d="M153 417l-9 0.1-9-0.3-9-0.5-9-0.9-9-1.2-8-1.5-7.6-1.7-6.4-1.8-6.5-2.2-4.8-2-4.7-2.4-4.1-2.6-2.4-2-2.8-3-1.6-3-0.7-3-0.8-1 1-2 2.8-3 1.4-1 7.6-4 5.7-4 3.6-2 2.6-1 3.7-1.1 18.8-3.9 10.2-2.4 5-1.5 2.6-1.1 1.8-1 1-1 1.3-2 1-1 1.6-1 2.3-1 10.4-0.8 1 0.2 1-0.1 0.5-0.3 1.3-4 0.2-0.5 1-0.9 1 0.6 0.4 0.8 1.3 4 0.3 0.2 1 0.2 1-0.2 10.6 0.8 2.3 1 1.6 1 1 1 1.3 2 1 1 1.8 1 2.4 1 3 1.1 4 1 12.9 2.9 14.6 3 3.4 1 2.6 1 3.6 2 5.7 4 7.6 4 1.4 1 2.8 3 1 2-0.8 1-0.7 3-1 2-2.3 3-2.2 2-3.6 2.5-4.4 2.5-4.4 2-5.3 2-6.4 2-6.5 1.7-7 1.4-7 1.2-8 1.1-8 0.8-8 0.5z"/>
<path fill="#505050" d="M156 416l-9 0.2-9-0.2-9-0.4-8-0.8-8-1-8-1.3-7.3-1.5-7.6-2-6.1-2-5-2-5-2.5-4-2.5-2.5-2-2.8-3-1.7-3-0.6-3-0.7-1 1.3-2 3.2-3 1.6-1 6.3-3 2.9-1.9 4.1-3.1 3.6-2 2.9-1 3.9-1 13.5-2.7 7-1.6 5-1.3 3-1.1 5.5-2.3 1.6-1 1-1 1.3-2 0.9-1 1.5-1 2.2-1 8-0.6 1 0.1 1-0.1 0.7-0.4 1.3-3.9 1-1 1 0.7 0.6 1.2 0.9 3 0.5 0.3 10.2 0.7 2.2 1 1.5 1 0.9 1 1.3 2 1 1 1.6 1 5.3 2.2 3 1.1 5 1.4 7 1.6 13.7 2.7 3.9 1 2.9 1 3.6 2 4 3 3 2 6.3 3 1.6 1 3 2.8 1.5 2.2-0.7 1-0.6 3-1 2-1.5 2-2 2-3.7 2.8-3.7 2.2-4.1 2-5 2-6.1 2-5.1 1.4-6 1.4-7 1.3-7 1.1-8 0.9z"/>
<path fill="#545454" d="M159 415l-9 0.3-9-0.1-9-0.4-8-0.6-8-0.9-7.9-1.3-7.1-1.5-7-1.8-6-1.9-6-2.4-4.9-2.4-4.1-2.7-2.7-2.3-2.5-3-1-2-1-4 2.2-2.6 3-2.4 8-4 6-4.3 2.7-1.7 2.2-1 3.3-1 18.8-3.9 6-1.8 9.9-4.3 1.5-1 2.2-3 1-1 3.5-2 7.9-0.5 0.9-0.5 1.1-3.3 1-1.1 1 0.7 1.3 3.7 0.7 0.4 8.1 0.6 3.5 2 1 1 1.3 2 0.9 1 1.5 1 9.7 4.2 6 1.9 19 3.9 3.3 1 2.2 1 2.5 1.5 6.2 4.5 8 4 3.6 3 1.6 2-0.7 3-0.8 2-2 3-2.1 2-2.5 2-3.2 2-3.9 2-4.7 2-5.5 1.9-5 1.5-6 1.4-5.9 1.2-13.1 1.9z"/>
<path fill="#585858" d="M161 414l-8 0.4-9 0-9-0.3-8-0.5-8-0.9-8-1.3-7.2-1.4-6.8-1.7-7-2.3-4.9-2-4.1-2.1-4.6-2.9-2.3-2-2.5-3-1.4-3-0.4-2 0.1-1 2.1-2.2 3.8-2.8 7.9-4 5.8-4 3.5-2 2.6-1 3.7-1 13.7-2.8 3-0.8 12-5.4 1.9-1 1.3-1 2.4-3 1-1 3.3-2 6.1-0.4 1-0.5 1-2.9 1-1.2 1 0.8 1.1 3.2 0.9 0.6 6.3 0.4 3.3 2 1 1 2.4 3 1.3 1 11.7 5.5 2 0.8 3 0.8 13.9 2.9 3.7 1 3.4 1.4 2.7 1.6 5.8 4 6.1 3 2.4 1.4 3.5 2.6 1.8 2 0 2-1.1 3-1.3 2-1.8 2-2.3 2-3 2-3.6 2-4.4 2-5.5 2-4.3 1.3-11 2.6-12 1.9z"/>
<path fill="#5c5c5c" d="M163 413l-8 0.5-9 0.1-8-0.2-8-0.5-8-0.8-7.5-1.1-6.5-1.2-7-1.7-6.7-2.1-4.3-1.7-5-2.3-3.3-2-2.7-2-3-3-1.8-3-0.7-3 0.5-1 1-1 3.8-3 3.4-2 6.1-3 8.4-5 4.9-2 5.4-1.4 7-1.4 3-0.9 2-0.9 4.3-2.4 6.5-3 3-2 2.5-3 1.1-1 1.5-1 1.8-1 4.3-0.3 1-0.3 1-2.7 1-1.2 1 0.8 1 2.8 1 0.6 4.5 0.3 1.8 1 1.5 1 1.1 1 2.5 3 3 2 6.5 3 4.1 2.3 2 1 3 0.9 7 1.4 5.6 1.4 4.9 2 8.4 5 6.1 3 3.4 2 3.8 3 1 1 0.5 1-0.3 2-0.9 2-1.3 2-1.8 2-2.4 2-3.1 2-3.7 2-3.2 1.4-4.1 1.6-4.9 1.6-9.9 2.4-11.1 1.9z"/>
<path fill="#606060" d="M164 412l-7 0.5-8 0.2-8 0-8-0.5-8-0.7-7-1-7-1.2-6-1.4-6.3-1.9-5.4-2-4.3-2-4-2.4-3.4-2.6-2.6-3-1.1-2-0.7-3 3.2-3 4.5-3 10.5-5 7.3-4 4.8-2 7.5-1.7 3-1 7.2-4.3 6.2-3 2.9-2 2.5-3 2.2-1.6 2.3-1.4 2.7-0.2 1-0.2 1-2.5 1-1.2 1 0.8 1 2.7 1 0.4 2.9 0.2 3.1 1.9 1.4 1.1 2.5 3 2.9 2 6.2 3 6 3.6 2 1 3 0.9 6.7 1.5 4.8 2 7.3 4 10.5 5 4.5 3 3.2 3-0.4 2-0.8 2-1.3 2-1.9 2-2.5 2-3.1 2-6 2.9-8 2.9-8.6 2.2-10.4 1.9z"/>
<path fill="#646464" d="M165 411l-7 0.6-8 0.3-8-0.1-7-0.3-7-0.6-7-0.9-7-1.3-7-1.6-6.8-2.1-5-2-4-2-3.2-2-2.5-2-2.7-3-1.1-2-0.7-3 4-3.3 5-3.1 3-1.4 6.2-2.2 2.3-1 7.5-4.4 9-3 2-1.1 5.2-3.5 7.6-4 2.8-2 2.4-2.7 1.6-1.3 3.4-2 2-0.2 1-2.3 1-1.3 1 0.9 1 2.6 2.2 0.3 3.4 2 1.4 1.1 2.6 2.9 2.8 2 7.6 4 7 4.5 9 3 2 1 5.7 3.5 2.3 1 6 2.1 3 1.4 5 3.1 4.2 3.4-0.4 2-0.8 2-2.3 3-2.2 2-2.8 2-5.7 3-8 3-7.4 2-9.6 1.9z"/>
<path fill="#686868" d="M149 411l-12-0.3-12-1.2-10-1.7-5-1.2-5.2-1.6-7.4-3-3.7-2-3-2-2.2-2-1.7-2-1.1-2-0.4-1-0.3-2 3.7-3 4.3-2.7 2.7-1.3 6.1-2 3.2-1.3 7-4.3 7-3 7.9-5.4 7.3-4 2.5-2 1.8-2 1.5-1.3 2-1.2 3-1.5 1-2.1 1-1.3 1 0.8 1 2.6 3 1.3 2 1.3 1.7 1.4 2.3 2.5 2 1.5 7.3 4 7.7 5.2 8 3.6 6 3.8 3.4 1.4 6.1 2 2.5 1.1 4.5 2.9 3.7 3-0.3 2-0.9 2-1.4 2-1.9 2-2.6 2-3.3 2-6.8 3.1-5 1.7-4.5 1.2-9.7 2-11.8 1.4z"/>
<path fill="#6c6c6c" d="M148 353.9l-2-0.1-0.3-0.8 0.3-0.8 1-1.3 1 0.9 0.5 1.2zM153 410l-12 0-11-0.8-6-0.8-5-1-6-1.4-4-1.2-7.3-2.8-3.8-2-3-2-2.3-2-1.7-2-1.2-2-0.3-1-0.4-2 2.2-2 3.8-2.5 3-1.5 8.2-3 2.1-1 5.7-3.7 5-2.6 8-5.7 8.4-5 1.3-1 4.3-4.1 2-1.1 4-1.8 3 1.2 3 1.6 1.5 1.2 3 3 1.3 1 6.9 4 10.3 7.1 5 2.7 5 3.3 2 0.9 8 2.9 3 1.5 4 2.6 2.2 2-0.4 2-0.8 2-1.4 2-1.6 1.6-1.7 1.4-3 2-6 3-4.3 1.6-4 1.2-9 2.1-10 1.4z"/>
<path fill="#707070" d="M148 353.7l-1 0.2-1-0.4-0.2-0.5 0.2-0.5 1-1.3 1 0.9 0.4 0.9zM155 409.1l-6 0.2-6-0.1-11-0.7-10-1.6-5-1.1-5-1.5-3.7-1.3-4.5-2-3.4-2-2.7-2-2.1-2-1.4-2-0.9-2-0.4-2 1.1-1.3 4.2-2.7 3.9-2 5.9-2.4 3.2-1.6 7.8-5 6.6-5 4.4-3 6-3.7 1.7-1.3 3.1-3 1.2-0.9 5-2.2 2 0.7 3.1 1.4 1.4 1 3 3 1.5 1.2 6.2 3.8 4.4 3 6.4 4.8 8 5.2 3 1.5 6.1 2.5 3.9 2 4 2.6 0.6 0.4 0.7 1-0.4 2-0.9 2-2.4 3-3.8 3-5.5 3-7.3 2.7-8 2-9 1.5z"/>
<path fill="#747474" d="M148 353.5l-1 0.2-1-0.5 0-0.4 1-1.3 1 0.9 0.3 0.6zM157 408l-5 0.3-6 0.1-6-0.2-5-0.3-10-1.5-5-1.1-4.6-1.3-3.4-1.2-4.1-1.8-3.6-2-2.8-2-2-2-1.5-2-0.9-2-0.4-2 0.7-1 3-2 5.2-3 7.9-4 4.5-2.9 8-6.3 5.3-3.8 6.1-4 4.6-4.2 2-1.1 3-1.1 1 0.3 2 0.7 2 1.1 5 4.5 7.3 4.8 12.7 9.6 3.7 2.4 7.9 4 5.2 3 3 2 0.7 1-0.2 1-0.6 2-2 3-3.3 3-3.1 2-2.3 1.2-6 2.4-7 2-8 1.5z"/>
<path fill="#787878" d="M148 353.3l-1 0.3-0.9-0.6 0.9-1.2 1 0.9 0.1 0.3zM158 407.1l-10 0.5-10-0.3-5-0.6-5-0.7-4.6-1-4.4-1.2-4-1.4-3.4-1.4-3.7-2-2.8-2-2.1-2-1.4-2-1-2-0.3-2 0.6-1 4.4-3 4.7-3 5.6-3 2.4-1.6 7-5.7 4.9-3.7 8.5-6 4.4-4 2.2-1.1 2-0.7 1 0.2 2 0.8 2 1.2 3.8 3.6 8.5 6 5.3 4 6.4 5.3 2.6 1.7 5.6 3 4.7 3 4.4 3 0.6 1-0.3 2-0.4 1-2 3-3.4 3-4.8 2.8-5.4 2.2-5.6 1.7-7 1.5z"/>
<path fill="#7c7c7c" d="M148 353.1l-1 0.4-0.7-0.5 0.7-0.9zM160 406l-5 0.5-5 0.3-10-0.2-9-1.1-5-1-4-1-4.4-1.5-3.6-1.5-2.7-1.5-2.9-2-2.1-2-1.5-2-1-2-0.4-2 0.7-1 6.3-5 1.5-1 5.6-3 1.5-1.1 5.8-4.9 6.3-5 7.9-5.7 4-3.8 2-1.1 2-0.7 1 0.3 2 0.8 1.8 1.2 3.2 3.1 8.1 5.9 6.3 5 5.9 5 1.7 1.2 5.3 2.8 1.5 1 6.3 5 0.7 1-0.4 2-0.4 1-1.2 2-0.9 1-2.1 2-3.8 2.5-5 2.4-5 1.7-6 1.4z"/>
<path fill="#808080" d="M147 353.4l-0.6-0.4 0.6-0.7 0.8 0.7zM150 406l-8-0.1-8-0.8-7-1.3-7-2.1-3-1.3-2.7-1.4-2.3-1.5-1.9-1.5-1-1-1.5-2-0.9-2-0.4-2 0.5-1 5.4-5 6.9-4 11.9-10 8.1-6 4.2-4 1.6-1 2.1-0.8 2 0.7 1.9 1.1 4.1 3.9 8.2 6.1 11.9 10 6.9 4 5.4 5 0.5 1-0.4 2-0.4 1-0.5 1-1.5 2-2.1 1.9-1.5 1.1-4.5 2.5-6 2.3-7 1.7-7 1.1z"/>
<path fill="#848484" d="M147 353.3l-0.4-0.3 0.4-0.5 0.5 0.5zM155 405l-4 0.3-5 0.1-9-0.6-8-1.4-7-2.1-3-1.3-3-1.6-2.2-1.4-2.2-2-1.6-2-1-2-0.4-2 0.3-1 1.7-2 2.4-2.3 2.4-1.7 3.6-2 1.4-1 11.8-10 7.8-5.9 4.2-4.1 2.8-1.4 1 0.3 2 1.1 4.1 4 7.9 6 11.8 10 1.4 1 3.6 2 2.2 1.5 3.5 3.5 0.8 1 0.3 1-0.2 1-0.6 2-1.3 2-1.5 1.6-1.6 1.4-3.4 2.1-5 2.3-4 1.3-7 1.6z"/>
<path fill="#888888" d="M147 353.1l-0.2-0.1 0.2-0.3 0.3 0.3zM158 404.1l-8 0.6-9-0.1-8-1.1-4-0.8-4-1.2-3-1.1-3-1.5-3.1-1.9-1.9-1.6-1.3-1.4-1.3-2-0.7-2-0.2-2 1.6-2 2.2-2 1.2-1 4.5-2.7 1.7-1.3 10.5-9 7.8-6.1 4-4 1.1-0.9 1.9-1 2 0.9 1 0.8 4 4 8 6.3 10.5 9 1.5 1.1 4.7 2.9 1.2 1 2.2 2 1.6 2-0.2 2-0.3 1-0.9 2-1.7 2-1 1-2.8 2-3.8 2-4 1.6-6 1.6z"/>
<path fill="#8c8c8c" d="M153 404l-8 0.2-8-0.6-7-1.4-6-1.9-4.7-2.3-2.3-1.5-1.7-1.5-0.9-1-1.3-2-0.7-2-0.4-2 1.7-2 1.3-1.2 2.2-1.8 5.8-4 10.3-9 7.7-6.1 3.7-3.9 1.3-1 1-0.5 1.2 0.5 1.3 1 3.8 4 7.6 6 10.3 9 7.8 5.6 1.5 1.4 1.7 2-0.6 3-1.1 2-0.7 1-2 2-3.8 2.5-5 2.3-5 1.5-5 1z"/>
<path fill="#909090" d="M157 403l-8 0.7-8-0.2-7-1-4-0.9-3-1-3-1.1-2.9-1.5-2.1-1.3-2-1.7-1-1-1.3-2-0.5-1-0.7-3 1.5-1.7 1.4-1.3 7.8-6 10.3-9 6.5-5.2 4.7-4.8 1.3-1 1.5 1 4.5 4.6 6.7 5.4 5.3 4.8 6 5 3.1 2.2 3.9 3.2 2.7 2.8-0.7 3-1.1 2-1.7 2-3.2 2.5-3 1.6-4.9 1.9-4.1 1.1z"/>
<path fill="#949494" d="M152 403l-7 0.2-7-0.6-3.4-0.6-3.6-0.8-5-1.7-3-1.4-1.8-1.1-2.2-1.6-1.4-1.4-0.8-1-1-2-0.7-3 0.9-1 5.5-5 4-3 4.5-3.8 5.7-5.2 6.3-5.1 5-5.2 1 0.7 2.2 2.6 2.1 2 6.2 5 5.5 5 4.7 4 4 3 5.3 4.8 1.1 1.2-0.7 3-1 2-1.4 1.6-1.6 1.4-3 2-4.5 2-3.9 1.2-5 1.1z"/>
<path fill="#989898" d="M156 402l-7 0.6-7-0.2-6-0.8-6-1.4-5.3-2.2-3.2-2-1.5-1.2-1.6-1.8-0.6-1-0.8-2-0.1-1 0.1-1 4.9-5 1-1 6.1-4.7 8-7.5 6.1-4.8 3.9-4.4 4.1 4.4 6.3 5 9.6 8.8 4.3 3.2 5.9 6 0.1 1-0.1 1-0.8 2-0.6 1-1.8 2-2.7 2-4 2-2.6 1-3.7 1.1z"/>
<path fill="#9c9c9c" d="M148 402l-5-0.2-6.7-0.8-4.2-1-5.3-2-3.5-2-2.3-2-1-1.2-1-1.8-0.5-2 5.8-7 4.7-3.5 9-8.5 6-4.6 1.4-1.4 1.6-2.1 3 3.4 6.2 4.7 9.5 9 4.2 3 5.8 7-0.7 2.4-0.9 1.6-0.9 1-2.3 2-3.5 2-5.3 2-4.2 1-4.9 0.7z"/>
<path fill="#a0a0a0" d="M151 401.1l-6 0-4-0.3-5.2-0.8-3.6-1-2.7-1-3.8-2-2.5-2-1.2-1.4-0.9-1.6-0.5-2 1.4-1 3.1-5 0.9-1 4-2.9 8.1-8.1 6.7-5 2.2-2.3 2.4 2.3 6.7 5 8 8 4.1 3 0.9 1 3.1 5 1.4 1-0.5 2-1.2 2-2 2-3.1 2-4.8 2-3.6 1z"/>
<path fill="#a4a4a4" d="M154 399.1l-5 0.4-5 0-4.3-0.5-4.4-1-2.8-1-3.8-2-2.3-2-1.4-2-0.4-1-0.2-1 1-1 0.6-2 1.2-3 0.8-1 3-2.2 8.5-8.8 5.7-4 1.8-1.5 7.7 5.5 8.3 8.6 3.1 2.4 0.9 1 1.2 3 0.6 2 1 1-0.6 2-0.6 1-1.6 1.8-1.5 1.2-1.7 1-3.8 1.6z"/>
<path fill="#a8a8a8" d="M154 396.2l-4 0.6-4 0.1-4-0.3-4-1-3-1.2-2.2-1.4-1.1-1-0.8-1-0.5-1-0.2-1-0.8-1 0.8-5 0.6-1 2-2 1.6-2 5.6-6 2-1.7 5-3.2 5 3.1 2.2 1.8 5.6 6 1.6 2 2 2 0.6 1 0.8 5-0.8 1-0.2 1-0.8 1.4-1.6 1.6-2.4 1.5-2 0.9z"/>
<path fill="#acacac" d="M149 395.1l-3 0-3-0.3-3-0.7-2.7-1.1-1.5-1-1-1-0.6-1-0.6-3-0.1-4 0.3-1 1.9-3 6-7 1.3-1 4-2.4 4 2.3 2 1.6 5.5 6.5 1.9 3 0.3 1-0.1 4-0.3 2-0.3 1-1 1.4-2 1.5-2 0.9-3 0.9z"/>
<path fill="#b0b0b0" d="M152 393.3l-2 0.4-3 0.2-3-0.3-2-0.4-2-0.7-2-1.2-1.2-1.3-0.4-1-0.4-3 0-3 0.1-1 0.5-1 4.2-6 1.2-1.4 1.9-1.6 3.1-1.8 3 1.6 2 1.6 1.4 1.6 3.5 5 1.2 2 0.2 1-0.1 3-0.4 3-0.4 1-0.8 1-1.4 1z"/>
<path fill="#b4b4b4" d="M151 392.2l-2 0.3-3 0.1-2-0.3-2-0.5-1.5-0.8-1.1-1-0.6-1-0.4-2-0.3-4 0.2-1 0.5-1 2.5-4 1.5-2 2.2-1.8 2-1.1 1 0.4 2 1.3 2 1.9 3.4 5.3 0.5 1 0.2 1-0.3 4-0.5 2-0.4 1-1.2 1z"/>
<path fill="#b8b8b8" d="M150 391l-2 0.4-2-0.1-1.8-0.3-1.2-0.5-0.9-0.5-0.7-1-0.8-3-0.2-3 0.2-1 1.4-2.7 1-1.7 1-1.2 1.7-1.4 1.3-0.7 2 1.1 2 2 2.1 3.6 0.5 1 0.2 1-0.2 3-0.8 3-0.7 1z"/>
<path fill="#bcbcbc" d="M148 390.1l-2.2-0.1-0.8-0.3-1-0.7-0.7-2-0.3-2 0-2 0.2-1 0.4-1 1.9-3 1.5-1.2 1 0.6 1.4 1.6 1.2 2 0.4 1 0.2 1-0.1 3-0.9 3-1.2 0.8z"/>
<path fill="#c0c0c0" d="M147 388.8l-0.7-0.8-0.3-5 0.2-1 0.8-1.4 1 1.4 0.2 1-0.3 5z"/>
</g>
<g clip-path="url(#cwb)"><rect x="134" y="331" width="27" height="26" fill="#000"/>
<path fill="#020202" d="M161 357.1l-27 0-0.1-0.1 0.1-26 27 0 0.1 26z"/>
<path fill="#040404" d="M161 357.1l-27 0-0.1-0.1 0.1-26 27 0 0.1 26z"/>
<path fill="#060606" d="M161 357.1l-27 0 0-26.1 27 0z"/>
<path fill="#080808" d="M161 357.1l-27 0 0-25.2 4.2-0.9 17.8 0 5 1.1z"/>
<path fill="#0a0a0a" d="M161 357.1l-27 0 0-23.2 3.8-1 3-0.5 3.2-0.5 3.2-0.1 3.3 0.2 3.3 0.4 3.4 0.7 3.8 1z"/>
<path fill="#0c0c0c" d="M161 357.1l-27 0 0-21.6 3.8-1.1 3.2-0.7 3-0.4 3.2-0.2 3.3 0.2 3.3 0.5 3.4 0.8 3.8 1.1z"/>
<path fill="#0e0e0e" d="M161 357.1l-27 0 0-20.3 3.8-1.2 3.2-0.7 3.2-0.5 3-0.2 3.3 0.2 3.3 0.6 3.4 0.9 3.8 1.2z"/>
<path fill="#101010" d="M161 357.1l-27 0 0-19.1 3.8-1.3 3.2-0.9 3.2-0.5 3-0.2 3.3 0.3 3.3 0.6 3.4 1 3.8 1.3z"/>
<path fill="#121212" d="M161 357.1l-27 0 0-18 3.8-1.4 3.2-1 3.2-0.6 3-0.2 3.3 0.3 3.3 0.7 3.4 1 3.8 1.6z"/>
<path fill="#141414" d="M161 357l-27 0 0-16.9 3.8-1.6 3.4-1.1 3-0.6 3-0.2 3.3 0.3 3.3 0.7 3.4 1.2 3.8 1.7z"/>
<path fill="#161616" d="M161 357l-27 0 0-16 3.8-1.7 3.4-1.2 3-0.6 3-0.2 3 0.2 3.3 0.8 3.5 1.3 4 1.8z"/>
<path fill="#181818" d="M161 357l-27 0 0-15.1 3.8-1.8 3.4-1.3 3-0.7 3-0.3 3 0.3 3.3 0.9 3.5 1.4 4 2zM143.2 341.5l0.7-0.3-0.9 0 0 0.4zM151.3 341.5l-0.1-0.3-0.9 0 0.9 0.4z"/>
<path fill="#1a1a1a" d="M161 357l-27 0 0-14.2 3.8-2 3-1.2 3-0.8 1.4-0.3 1.6-0.1 2.7 0.2 2.7 0.6 3 1.1 3.3 1.6 2.5 1.3zM143.1 342l1.8-0.8-1.9 0-0.1 0 0.1 0.8zM151.3 342l0-0.8-0.1 0-1.9 0z"/>
<path fill="#1c1c1c" d="M161 357l-27 0 0-13.4 3.5-1.9 3-1.4 2.7-0.9 2.6-0.4 2.2-0.1 2.8 0.5 2.4 0.7 3 1.3 4.8 2.7zM143.5 342.2l2.2-1-2.7-0.1-0.1 0.1 0.1 1.3zM151.3 342.2l0.1-1-0.2-0.1-2.7 0.1 2.7 1.3z"/>
<path fill="#1e1e1e" d="M161 357l-27 0 0-12.6 3.2-1.9 2.8-1.4 2.5-1 2.5-0.6 2.2-0.1 2.3 0.2 2.5 0.6 2.6 1 2.8 1.6 3.6 2.1zM143.3 342.8l2.7-1.3 0.8-0.3-3.8-0.1-0.2 0.1 0.2 1.7zM151.3 342.8l0.1-1.6-0.2-0.1-3.8 0.1 0.8 0.3 3 1.4z"/>
<path fill="#202020" d="M161 357l-27 0 0-11.8 3.5-2.2 2.5-1.3 2.2-1 2.3-0.6 2.3-0.3 2 0.1 2.2 0.5 2.5 0.9 3.2 1.7 4.3 2.7zM151.3 343.2l0.1-2-0.2-0.2-4.2 0.2-4-0.2-0.2 0.2 0.2 2.1 3-1.5 1-0.2 1 0.1 3.2 1.7z"/>
<path fill="#222222" d="M151.2 341l-4.2 0.1-4.2-0.1 2.2-0.5 2-0.2 2.2 0.2 2.2 0.5zM161 357l-27 0 0-11 3-2 2-1.2 2-1 1.8-0.8 0.2 2.8 3-1.6 1-0.3 0.5 0 0.7 0.3 3 1.6 0.3-2.8 1 0.4 1.7 0.8 1.8 1 5 3.4z"/>
<path fill="#242424" d="M149.5 341l-5 0 1.3-0.2 1.2-0.1 1.2 0 1.5 0.3zM161 357l-27 0 0-10.2 5.2-3.6 1.8-1 1.8-0.7 0.2 2.7 3-1.7 1-0.3 0.5 0 0.7 0.3 3 1.8 0.3-2.8 0.3 0.1 1.7 0.8 1.9 1.1 5.6 3.9z"/>
<path fill="#262626" d="M161 357l-27 0 0-9.4 5.3-3.8 1.7-1 1.8-0.8 0.2 2.7 3-1.9 1-0.3 0.5 0 0.7 0.3 3 1.9 0.3-2.7 1.7 0.8 1.8 1 6 4.4z"/>
<path fill="#282828" d="M161 357l-27 0 0-8.6 5.4-4.2 1.6-1 1.8-0.8 0.2 2.8 3-2.1 1-0.3 0.5 0 0.7 0.4 3 2 0.3-2.8 1.7 0.8 1.6 1 6.2 4.7z"/>
<path fill="#2e2e2e" d="M161 357l-27 0 0-7.1 6-4.9 1.5-1 1.3-0.7 0.2 2.9 2.8-2.3 0.7-0.4 0.5-0.1 0.5 0 0.7 0.4 3 2.4 0.3-2.9 1.3 0.7 1.4 1 4.8 4 2 1.5z"/>
<path fill="#343434" d="M161 357l-27 0 0-4.8 2.5-2 4.3-4 2-1.5 0.2 3.4 2.6-3.1 0.6-0.5 0.8-0.3 0.8 0.2 0.7 0.5 2.7 3.3 0.3-3.5 2.1 1.5 4.7 4.6 2.7 1.9z"/>
<path fill="#3a3a3a" d="M161 357l-27 0 0-4 1.9 0 0.3-0.2 1.8-1.6 3.3-3.7 1.5-1.3 0.2 4.8 1.4-3 1-1.8 0.6-0.6 0.5-0.4 0.3-0.1 0.4 0 0.8 0.3 0.9 1.1 1 1.7 1.3 2.9 0.3-4.8 1.4 1.2 3.3 3.8 2.1 1.7 2.7 0.1z"/>
<path fill="#404040" d="M161 357l-27 0 0-3.9 4.8-0.1 1.2-1.3 2.8-3.5 0.1 4.8 0.7 0 1-3.5 0.8-2 0.8-1.2 0.6-0.4 0.4 0 0.6 0.2 0.4 0.4 0.7 1.3 0.7 1.7 1 3.5 0.7 0 0.2-4.8 2.5 3.3 1.4 1.5 5.6 0.1z"/>
<path fill="#464646" d="M161 357l-27 0 0-3.8 7.5-0.2 1.3-1.8 0 1.8 0.2 0.1 1.2-0.1 0.7-2.8 0.7-2 0.4-0.7 0.4-0.5 0.4-0.2 0.4-0.1 0.6 0.3 0.2 0.2 0.7 1.3 0.6 1.7 0.7 2.8 1.2 0.1 0.2-0.1 0.1-1.7 1.2 1.7 8.3 0.2z"/>
<path fill="#4c4c4c" d="M161 357l-27 0 0-3.8 8.8-0.2 0.2 0.1 1.6-0.1 0.6-2.5 0.6-1.7 0.7-1.1 0.5-0.2 0.2 0 0.3 0.1 0.4 0.4 0.6 1 0.6 1.8 0.5 2.2 1.6 0.1 0.3-0.1 9.5 0.2z"/>
<path fill="#525252" d="M161 357l-27 0 0-2.8 2.2-1 7.3-0.1 1.3-0.1 0.6-2.2 0.6-1.5 0.5-0.8 0.5-0.3 0.2 0 0.6 0.4 0.5 0.9 0.5 1.5 0.6 2 1.4 0.1 7.2 0.1 3 1.4z"/>
<path fill="#585858" d="M161 357l-27 0 0-0.9 1.6-1.1 3.4-1.8 5 0 1.1-0.2 0.5-1.8 0.4-1.1 0.5-0.8 0.5-0.4 0.5 0.2 0.5 0.7 0.6 1.2 0.5 2 1.1 0.2 5 0 2.5 1.3 1.7 1 1 0.7 0.6 0.7z"/>
<path fill="#5e5e5e" d="M158.2 357l-22.5 0 0.8-0.8 1-0.7 3.9-2.3 3.1 0 0.7-0.2 0.6-1.6 0.3-0.9 0.4-0.6 0.5-0.3 0.2 0 0.3 0.1 0.5 0.7 1 2.6 0.8 0.2 3 0 4.3 2.6 1.4 1.2z"/>
<path fill="#646464" d="M156.2 357l-18.3 0 1.7-1.2 4.3-2.6 1.3 0 0.2-0.2 0.8-2.1 0.3-0.4 0.5-0.3 0.2 0 0.6 0.4 0.4 0.9 0.6 1.5 0.2 0.2 1.3 0 4.3 2.6 1.1 0.7z"/>
<path fill="#6a6a6a" d="M148.5 353.1l-0.5 0.1-1.8 0-0.4 0-0.2-0.2 0.6-1.5 0.6-0.7 0.2-0.1 0.2 0 0.6 0.4 0.6 1.4 0.2 0.5zM154 357l-14 0 1-0.7 1.5-0.9 4.5-2.1 0.2 0 0.8 0.4 3.5 1.6 1.7 0.9 1 0.8z"/>
<path fill="#707070" d="M148.2 353.1l-1.4 0.1-0.8-0.1-0.2-0.1 0.7-1.4 0.5-0.4 0.2 0 0.6 0.4 0.6 1.4zM152.2 357l-10.4 0 1.7-0.9 3.5-1.4 0.8 0.2 2.4 1 2.2 1.1z"/>
<path fill="#767676" d="M148 353.1l-1.2 0.1-0.8-0.2 0.5-1 0.5-0.4 0.2 0 0.6 0.5 0.4 0.9zM150.2 357l-6.5 0 3.3-1.2 1.2 0.3 2.3 0.9z"/>
<path fill="#7c7c7c" d="M148 353l-1 0.1-0.9-0.1 0.4-0.6 0.5-0.4 0.2 0 0.3 0.2 0.4 0.6 0.2 0.2zM148.2 357l-2.4 0 1.2-0.4 1.4 0.4z"/>
<path fill="#828282" d="M147.8 353l-0.8 0.1-0.7-0.1 0.5-0.5 0.2-0.1 0.2 0 0.3 0.1 0.4 0.5z"/>
<path fill="#888888" d="M147.5 353l-0.9 0 0.4-0.3 0.2 0 0.3 0.2 0.1 0.1z"/>
</g>
</g></g>
<clipPath id="cpc"><rect x="323.9" y="29.8" width="218" height="172.2"/></clipPath>
<clipPath id="cwc"><rect x="419" y="104" width="27" height="28"/></clipPath>
<g clip-path="url(#cpc)"><g filter="url(#jet)">
<g filter="url(#bl)"><rect x="315" y="21" width="235" height="190" fill="#000"/>
<path fill="#020202" d="M547 208l-229 0 0-184 229 0z"/>
<path fill="#040404" d="M547 208l-229 0 0-91.6 82 0 17.8-0.4 0.3-3 0.8-3 1.6-3 1.5-2 2-1.8 3-1.8 3-1 3-0.2 3 0.3 3 1.1 2.3 1.4 2.3 2 1.5 2 1.6 3 0.8 3 0.3 3 18.2 0.4 81 0z"/>
<path fill="#060606" d="M435 179.1l-1 0.3-2 0.1-2-0.7-2-1.6-3-3.9-3.5-6.3-3.8-9-4.2-12-4.1-14-3.8-15 9.4-0.4 6.8-0.6 0.1-2 0.5-2 0.9-2 1.4-2 1.3-1.2 2-1.4 2-0.7 2-0.4 2 0 2 0.5 2 0.9 2 1.4 1.7 1.9 1.1 2 0.7 2 0.3 3 7.2 0.6 9 0.4-3.5 14-2.9 10-3.2 10-3.7 10-3.1 7-2.8 5-2.8 3.8-2 1.7z"/>
<path fill="#080808" d="M434 150.2l-1 0.1-1 0-2-0.9-2-1.9-2.4-3.5-2-4-3-7-2.1-6-3.3-10 8-1 0.4-3 0.8-2 1.6-2.2 1-0.9 2-1.3 2-0.6 2-0.2 3 0.6 2 1 1.8 1.6 0.8 1 1.1 2 0.5 2 0.2 2 8 1-4.7 14-2.3 6-1.8 4-1.6 2.9-2 3.1-2 2z"/>
<path fill="#0a0a0a" d="M433 141.1l-1-0.1-1-0.3-1-0.6-2-2-2-3-1.6-3.1-1.8-4-3.9-11 5.3-1 0.2-2 0.6-2 0.5-1 1.6-2 2.1-1.5 2-0.7 2-0.2 3 0.6 2 1.2 1 0.9 1.3 1.7 0.5 1 0.7 2 0.2 2 1.3 0.4 3.9 0.6-3.5 10-1.7 4-2.1 4-1.6 2.6-2 2.2-1 0.7-1 0.4z"/>
<path fill="#0c0c0c" d="M434 135.4l-1 0.2-1-0.1-1-0.4-1-0.6-2-2-2-3.1-1.7-3.4-1.8-4-1.8-5 2.3-0.5 1.5-0.5 0.2-2 0.6-2 1.4-2 1.3-1.2 1-0.7 1-0.5 2-0.4 2 0 1 0.2 2 0.9 1.9 1.7 1.3 2 0.7 2 0.2 2 3.8 1-2.2 6-1.9 4-1.8 3.4-1.9 2.6-1.1 1.2z"/>
<path fill="#0e0e0e" d="M434 131.4l-1 0.2-1 0-1-0.4-1-0.6-2-2.1-2-2.9-1.5-2.6-1-2-1.4-4 2.8-1 0.4-3 1.1-2 0.8-1 1.8-1.4 2-0.8 1-0.2 2 0 1 0.3 1 0.4 2 1.3 1.2 1.4 1 2 0.3 1 0.2 2 1.3 0.6 1.6 0.4-1.9 5-2.7 4.6-2 2.6-1 1z"/>
<path fill="#101010" d="M435 128.1l-1 0.4-1 0.2-1-0.1-2-0.9-1-0.8-2-2-1.4-1.9-1.2-2-0.8-2-0.6-2 2.2-1 0.2-2 0.3-1 1.1-2 0.9-1 2.3-1.6 1-0.3 2-0.2 1 0.1 2 0.6 1 0.6 1 0.9 1.5 1.9 0.7 2 0.2 2 2.3 1-1.1 3-1.6 3-2 2.6-2 1.8z"/>
<path fill="#121212" d="M435 126.3l-1 0.4-2 0.1-1-0.3-1-0.5-2-1.4-1.5-1.6-1.3-2-1-2-0.6-2 1.8-1 0.3-2 0.8-2 0.6-1 1.9-1.7 2-0.9 1-0.2 2 0.1 1 0.2 2 1.1 1.5 1.4 1.1 2 0.5 3 1.9 1-0.6 2-1.6 3-1.8 2.2-2 1.6z"/>
<path fill="#141414" d="M435 125.4l-1 0.3-2 0-1-0.2-2-1-2-1.8-1.3-1.7-1-2-0.6-2 1.6-1 0-1 0.5-2 1.2-2 1.6-1.4 2-1 1-0.2 2 0.1 2 0.7 1 0.7 1.1 1.1 1.3 2 0.3 1 0.2 2 1.6 1-1.1 3-1.4 2.2-2 2z"/>
<path fill="#161616" d="M433 125.1l-2-0.3-1-0.3-2-1.4-1.1-1.1-1.3-2-1.1-3 1.4-1 0.2-2 0.4-1 1.5-2.3 2-1.4 2-0.6 1-0.1 1 0.1 2 0.8 1.9 1.5 0.7 1 0.9 2 0.2 2 1.4 1-0.6 2-0.5 1-0.6 1-1.4 1.7-1 0.9-2 1.1z"/>
<path fill="#181818" d="M435 124.2l-1 0.3-2 0.1-1-0.2-2-1-1-0.8-1.4-1.6-1.1-2-0.4-1-0.2-1 1.2-1 0.2-2 0.9-2 1.8-1.9 1-0.6 1-0.4 2-0.3 1 0.2 2 0.7 1 0.7 1.4 1.6 0.5 1 0.4 1 0.2 2 1.3 1-1.1 3-1.5 2-1.2 1.1z"/>
<path fill="#1a1a1a" d="M434 124.1l-1 0.1-2-0.3-1-0.3-2-1.4-1.7-2.2-0.9-2-0.3-1 1.1-1 0.3-2 0.9-2 0.6-0.7 1-1 1-0.6 2-0.6 2 0 1 0.3 2 1.2 1.2 1.4 0.5 1 0.6 2 0.1 1 1.1 1-1.2 3-1.3 1.8-2 1.6z"/>
<path fill="#1c1c1c" d="M436 123l-1 0.5-2 0.4-2-0.2-1-0.4-1-0.6-1.8-1.7-0.7-1-0.9-2-0.2-1 1-1 0.3-2 0.9-2 1.4-1.5 2-1.1 1-0.2 2 0.1 1 0.3 2 1.3 1.6 2.1 0.5 2 0.1 1 1 1-0.6 2-1.2 2-1.4 1.4z"/>
<path fill="#1e1e1e" d="M435 123.2l-1 0.4-2 0-1-0.2-2-1-1-0.9-1.2-1.5-0.5-1-0.7-2 0.9-1 0.3-2 1-2 1.2-1.3 2-1.1 1-0.2 2 0 2 0.9 0.9 0.7 1.5 2 0.4 1 0.2 2 1 1-0.6 2-1.3 2-1.1 1.1z"/>
<path fill="#202020" d="M434 123.3l-2 0.1-2-0.7-1-0.6-1-0.9-1-1.2-0.5-1-0.7-2 0.9-1 0.3-2 0.3-1 0.7-1 1-1.1 1-0.7 2-0.7 2 0.1 1 0.3 1 0.5 1 0.9 1.2 1.7 0.4 1 0.3 2 0.9 1-0.7 2-1.3 2-1.8 1.5z"/>
<path fill="#222222" d="M434 123l-1 0.2-2-0.3-1-0.4-1-0.6-1.8-1.9-0.5-1-0.7-2 0.8-1 0.3-2 0.4-1 0.6-1 1.9-1.7 2-0.6 2 0 1 0.4 1 0.5 1 0.9 1.1 1.5 0.4 1 0.3 2 0.8 1-0.7 2-1.3 2-1.6 1.3z"/>
<path fill="#242424" d="M436 122.1l-1 0.5-1 0.3-2 0-1-0.2-2-1-1.6-1.7-0.5-1-0.7-2 0.8-1 0.2-2 1.1-2 1.7-1.5 2-0.7 1-0.1 2 0.5 1 0.6 1 0.8 0.9 1.4 0.5 1 0.3 2 0.8 1-0.7 2-0.6 1-1.2 1.3z"/>
<path fill="#262626" d="M435 122.4l-1 0.3-2 0.1-2-0.7-1-0.6-1-1-1.4-2.5-0.3-1 0.8-1 0.2-2 0.5-1 1.2-1.6 1-0.8 1-0.4 2-0.3 1 0.1 1 0.3 1.1 0.7 1.1 1 0.6 1 0.4 1 0.4 2 0.7 1-0.7 2-0.6 1-1 1.1z"/>
<path fill="#282828" d="M435 122.2l-1 0.4-2 0-2-0.7-1-0.6-1-1.1-1.3-2.2-0.3-1 0.8-1 0.3-2 0.4-1 1.1-1.4 1-0.8 1-0.5 1-0.2 2 0 1 0.4 1 0.6 1 0.9 0.7 1 0.7 2 0 1 0.7 1-0.7 2-0.6 1-1.8 1.7z"/>
<path fill="#2a2a2a" d="M435 122l-2 0.5-1 0-2-0.7-1-0.7-1-1.1-1.1-2-0.3-1 0.7-1 0.3-2 0.5-1 0.9-1.3 2-1.3 2-0.3 2 0.5 1.9 1.4 0.7 1 0.4 1 0.3 2 0.7 1-0.3 1-0.4 1-1.3 1.7-1 0.8z"/>
<path fill="#2c2c2c" d="M434 122.2l-2 0.1-2-0.7-1-0.7-1-1.1-0.5-0.8-0.8-2 0.7-1 0.3-2 1.2-2 1.1-0.9 1-0.6 1-0.2 2 0 1 0.4 1.7 1.3 0.8 1 0.4 1 0.3 2 0.7 1-0.8 2-1.1 1.5-1 0.9z"/>
<path fill="#2e2e2e" d="M434 122.1l-2 0.1-2-0.7-1-0.8-1-1.1-0.8-1.6-0.3-1 0.6-1 0.3-2 0.5-1 0.7-1 1-0.8 1-0.6 1-0.2 2 0 1 0.4 1.6 1.2 0.7 1 0.5 1 0.3 2 0.6 1-0.7 2-1 1.3-1 0.9z"/>
<path fill="#303030" d="M433 122.1l-2-0.3-1-0.5-1-0.7-1.3-1.6-0.7-2 0.5-1 0.4-2 1.1-1.8 1-0.9 1-0.5 2-0.4 1 0.2 1 0.4 1.4 1 0.8 1 0.5 1 0.3 2 0.6 1-0.8 2-0.8 1.2-2 1.4z"/>
<path fill="#323232" d="M435 121.5l-2 0.5-2-0.3-2-1.3-1.1-1.4-0.5-1-0.3-1 0.5-1 0.4-2 0.5-1 1.5-1.6 1-0.5 2-0.4 1 0.2 1 0.4 1.3 0.9 0.8 1 0.5 1 0.3 2 0.6 1-0.3 1-1.2 2-1 0.9z"/>
<path fill="#343434" d="M435 121.4l-2 0.5-2-0.3-2-1.3-1.5-2.3-0.3-1 0.5-1 0.4-2 0.5-1 1.4-1.5 1-0.5 1-0.3 1-0.1 2 0.6 1.2 0.8 0.8 1 0.5 1 0.4 2 0.5 1-0.3 1-0.5 1-0.8 1z"/>
<path fill="#363636" d="M435 121.3l-2 0.5-2-0.4-2-1.3-1.4-2.1-0.3-1 0.5-1 0.4-2 0.5-1 0.9-1 1.4-0.9 2-0.4 2 0.6 1 0.7 0.9 1 0.5 1 0.4 2 0.5 1-0.8 2-0.5 0.7-1 0.9z"/>
<path fill="#383838" d="M435 121.1l-2 0.6-2-0.4-1-0.5-0.9-0.8-1.4-2-0.3-1 0.5-1 0.4-2 0.5-1 0.9-1 1.3-0.8 2-0.4 2 0.6 1 0.7 0.8 0.9 0.5 1 0.4 1 0 1 0.5 1-0.3 1-0.5 1-0.8 1z"/>
<path fill="#3a3a3a" d="M435 121l-1 0.4-1 0.2-2-0.4-1.8-1.2-0.8-1-0.6-1-0.3-1 0.5-1 0.4-2 0.5-1 0.9-1 1.2-0.7 2-0.4 2 0.6 1 0.7 1.2 1.8 0.9 3-0.3 1-0.6 1-0.8 1z"/>
<path fill="#3c3c3c" d="M434 121.3l-2 0.1-2-0.8-1.5-1.6-0.9-2 0.4-0.8 0.5-2.2 0.5-1 1-1 1-0.6 1-0.3 2 0 1 0.5 1 0.7 1.1 1.7 0.9 3-0.9 2-0.8 1-1.3 0.9z"/>
<path fill="#3e3e3e" d="M434 121.2l-2 0.1-2-0.8-1.4-1.5-0.9-2 0.4-1 0.1-1 0.9-2 1-1 0.9-0.6 1-0.3 2 0.1 1 0.5 1 0.7 0.5 0.6 0.9 2 0.5 2-0.9 2-0.9 1-1.1 0.8z"/>
<path fill="#404040" d="M434 121.1l-2 0.1-2-0.9-1.3-1.3-0.9-2 0.4-1 0.1-1 0.9-2 1.1-1 0.7-0.5 1-0.3 2 0.1 1 0.4 1 0.9 1.4 2.4 0.4 2-0.8 1.8-1 1.2-1 0.7z"/>
<path fill="#424242" d="M433 121.1l-2-0.3-1-0.6-1.2-1.2-0.9-2 0.4-2 1-2 0.7-0.7 1-0.7 1-0.3 1-0.1 1 0.2 1 0.4 1.3 1.2 1 2 0.4 2-0.7 1.7-1 1.2-1 0.7z"/>
<path fill="#444444" d="M433 121l-2-0.3-1-0.6-1.1-1.1-0.6-1-0.3-1 0.4-2 1-2 1.6-1.3 1-0.3 1-0.1 1 0.2 1 0.4 1.2 1.1 1 2 0.4 2-0.6 1.5-1 1.3-1 0.7z"/>
<path fill="#464646" d="M435 120.4l-1 0.4-1 0.2-2-0.4-1-0.6-1-1-0.6-1-0.3-1 0.3-2 1.1-2 1.5-1.2 1-0.3 1-0.1 1 0.2 1 0.4 1 0.9 1 1.7 0.6 2.4-1 2z"/>
<path fill="#484848" d="M435 120.3l-1 0.4-1 0.2-2-0.4-1-0.6-0.9-0.9-0.6-1-0.4-1 0.4-2 1.1-2 1.4-1.1 1-0.4 1 0 1 0.1 0.7 0.4 1.3 1 1 1.8 0.5 2.2-1 2z"/>
<path fill="#4c4c4c" d="M435 120.2l-1 0.4-1 0.2-1-0.1-1-0.3-1-0.7-1.4-1.7-0.3-1 0.3-2 1.2-2 1.2-1 1-0.3 1-0.1 1.5 0.4 1.3 1 1.2 2 0.4 2-1.1 2z"/>
<path fill="#505050" d="M434 120.4l-1 0.2-1-0.1-1.3-0.5-1.2-1-0.7-1-0.4-1 0.3-2 0.3-0.6 1-1.4 1-0.8 1-0.4 1-0.1 1 0.2 1 0.5 1 1.1 0.9 1.5 0.3 2-0.4 1-0.8 1.2-1 0.8z"/>
<path fill="#545454" d="M434 120.3l-1 0.1-1 0-1-0.4-1.3-1-0.7-1-0.4-1 0.2-2 0.2-0.4 1.2-1.6 0.8-0.6 1-0.4 1-0.1 1 0.2 1 0.5 1.8 2.4 0.2 2-0.4 1-0.7 1-0.9 0.8z"/>
<path fill="#585858" d="M434 120.1l-1 0.2-1-0.1-1-0.4-1.1-0.8-0.8-1-0.4-1 0.3-2.2 1.4-1.8 0.6-0.5 1-0.4 1-0.1 1 0.2 1 0.6 1.7 2.2 0.2 2-0.4 1-0.8 1-0.7 0.6z"/>
<path fill="#5c5c5c" d="M433 120.1l-1 0-1-0.4-1-0.8-0.7-0.9-0.4-1-0.1-1 0.2-1 1.6-2 1.4-0.7 1-0.1 1 0.2 1 0.6 1.6 2 0.2 1-0.1 1-0.4 1-0.8 1-1.5 0.9z"/>
<path fill="#606060" d="M435 119.3l-1 0.5-1 0.2-1-0.1-1-0.4-0.7-0.5-0.9-1-0.4-1.1-0.1-0.9 0.2-1 1.9-2.1 1-0.5 1-0.1 1 0.2 1 0.7 1.5 1.8 0.2 1-0.1 1-0.6 1.2z"/>
<path fill="#646464" d="M435 119.1l-1 0.5-1 0.2-1 0-1-0.4-1.4-1.4-0.5-1-0.1-1 0.2-1 1.8-2 1-0.4 1-0.1 1 0.2 1 0.7 1.4 1.6 0.2 1-0.1 1-0.5 1z"/>
<path fill="#686868" d="M434 119.5l-1 0.2-1-0.1-1-0.4-1-0.9-0.7-1.3-0.2-1 0.2-1 1.7-1.8 1-0.5 1-0.1 1 0.2 1 0.8 1.3 1.4 0.2 1-0.5 1.7-1 1.2z"/>
<path fill="#6c6c6c" d="M434 119.4l-1 0.2-1-0.1-1-0.5-1-0.9-0.6-1.1-0.2-1 0.2-1 1.6-1.6 1-0.6 1-0.1 1 0.3 2.3 2 0.1 1-0.4 1.4-1 1.3z"/>
<path fill="#707070" d="M434 119.2l-1 0.2-1-0.1-0.8-0.3-1.1-1-0.5-1-0.3-1 0.1-1 1.6-1.4 1-0.6 1-0.1 1 0.3 2.2 1.8 0.1 1-0.3 1.1-1 1.5z"/>
<path fill="#747474" d="M434 119.1l-1 0.2-1-0.1-1-0.5-1-1.1-0.7-1.6 0.2-1 0.5-0.6 2-1.3 1-0.1 1 0.3 2.1 1.7 0.2 1-0.3 0.8-0.6 1.2z"/>
<path fill="#787878" d="M433 119.2l-1-0.1-1-0.5-1-1.3-0.6-1.3 0.2-1 0.4-0.4 2-1.3 1-0.1 1 0.3 2 1.5 0.2 1-1.2 2.2-1 0.7z"/>
<path fill="#7c7c7c" d="M433 119l-1-0.1-1-0.5-1-1.3-0.5-1.1 0.2-1 0.3-0.3 2-1.2 1-0.2 2 0.9 0.9 0.8 0.2 1-1.1 2-1 0.8z"/>
<path fill="#808080" d="M434 118.6l-1 0.3-1-0.1-1.2-0.8-1.2-2 0.2-1 0.2-0.2 2-1.2 1-0.1 2 0.8 0.8 0.7 0.2 1-1 1.8z"/>
<path fill="#848484" d="M434 118.5l-1 0.2-1-0.1-1-0.5-1.3-2.1 0.3-1.1 1-0.7 2-0.6 2 0.8 0.7 0.6 0.2 1-0.9 1.6z"/>
<path fill="#888888" d="M434 118.3l-1 0.3-1-0.1-0.8-0.5-1.5-2 0.3-1 1-0.8 2-0.4 2 0.6 0.6 0.6 0.2 1-0.8 1.3z"/>
<path fill="#8c8c8c" d="M434 118.2l-1 0.3-1-0.2-0.6-0.3-1.6-2 0.3-1 0.9-0.7 1-0.3 1-0.1 2 0.6 0.5 0.5 0.3 1z"/>
<path fill="#909090" d="M434 118l-1 0.3-1.3-0.3-1.7-1.8 0.1-1.2 0.9-0.6 1-0.3 2 0.1 1 0.4 0.5 0.4 0.2 1z"/>
<path fill="#949494" d="M433 118.2l-1.1-0.2-1.9-2 0.2-1 0.8-0.6 2-0.3 1 0.1 1.4 0.8 0.2 1-0.6 0.8-1 1z"/>
<path fill="#989898" d="M433 118l-1-0.1-1.9-1.9 0.2-1 0.7-0.5 1-0.3 1-0.1 1 0.2 1.3 0.7 0.2 1-0.5 0.7-1 0.9z"/>
<path fill="#9c9c9c" d="M434 117.4l-1 0.5-1-0.2-1.9-1.7 0.3-1 0.6-0.4 1-0.4 1 0 1 0.1 1 0.5 0.2 0.2 0.3 1-0.5 0.6z"/>
<path fill="#a0a0a0" d="M434 117.2l-1 0.5-1-0.2-1-0.7-0.8-0.8 0.3-1 0.5-0.4 1-0.3 1-0.1 1 0.2 1 0.5 0.4 1.1-0.4 0.5z"/>
<path fill="#a4a4a4" d="M434 117l-1 0.5-1-0.2-1-0.6-0.7-0.7 0.3-1 1.4-0.7 1 0 1 0.1 1 0.6 0.3 1-0.3 0.4z"/>
<path fill="#a8a8a8" d="M433 117.3l-2-0.7-0.6-0.6 0.3-1 1.3-0.6 1-0.1 1 0.2 0.9 0.5 0.3 1-0.2 0.3z"/>
<path fill="#acacac" d="M433 117.1l-1-0.1-1-0.4-0.5-0.6 0.3-1 1.2-0.6 1 0 1 0.1 0.8 0.5 0.3 1-0.1 0.2-1 0.7z"/>
<path fill="#b0b0b0" d="M435 116.1l-1 0.7-1 0.2-1-0.1-1-0.4-0.4-0.5 0.4-1.1 1-0.4 1-0.1 1 0.2 0.7 0.4z"/>
<path fill="#b4b4b4" d="M434 116.7l-1 0.2-1-0.1-1-0.4-0.4-0.4 0.3-1 1.1-0.5 1 0 1 0.2 0.6 0.3 0.4 1z"/>
<path fill="#b8b8b8" d="M434 116.7l-1 0.2-1-0.1-1-0.5-0.3-0.3 0.3-1 1-0.4 1-0.1 1.5 0.5 0.4 1z"/>
<path fill="#bcbcbc" d="M434 116.6l-1 0.2-1-0.1-1-0.5-0.2-0.2 0.4-1 0.8-0.3 1-0.1 1.4 0.4 0.4 1z"/>
<path fill="#c0c0c0" d="M434 116.5l-1 0.2-1-0.1-1.1-0.6 0.4-1 0.7-0.3 1-0.1 1.3 0.4 0.4 1z"/>
<path fill="#c4c4c4" d="M434 116.4l-1 0.3-1-0.1-1-0.6 0.4-1 1.6-0.3 1.2 0.3 0.4 1z"/>
<path fill="#c8c8c8" d="M434 116.4l-1 0.2-1-0.1-0.9-0.5 0.4-1 1.5-0.3 1.1 0.3 0.4 1z"/>
<path fill="#cccccc" d="M434 116.3l-1 0.3-1-0.1-0.8-0.5 0.5-1 1.3-0.2 1 0.2 0.4 1z"/>
<path fill="#d0d0d0" d="M434 116.2l-1 0.3-1-0.1-0.7-0.4 0.5-1 1.2-0.2 0.8 0.2 0.2 0.2 0.3 0.8z"/>
<path fill="#d4d4d4" d="M434 116.2l-1 0.2-1-0.1-0.6-0.3 0.5-1 1.1-0.1 0.6 0.1 0.4 0.5 0.2 0.5z"/>
<path fill="#d8d8d8" d="M434 116.1l-1 0.3-1-0.1-0.5-0.3 0.5-0.9 1-0.2 0.4 0.1 0.6 0.7z"/>
<path fill="#dcdcdc" d="M434 116l-1 0.3-1.4-0.3 0.4-0.7 1-0.3z"/>
<path fill="#e0e0e0" d="M433 116.3l-1.2-0.3 0.2-0.5 1-0.4 0.8 0.9z"/>
<path fill="#e4e4e4" d="M433 116.2l-1.1-0.2 0.1-0.2 1-0.5 0.6 0.7z"/>
<path fill="#e8e8e8" d="M433 116.1l-1-0.1 1-0.5 0.4 0.5z"/>
<path fill="#ececec" d="M433 116.1l-0.6-0.1 0.6-0.3 0.2 0.3z"/>
</g>
<g clip-path="url(#cwc)"><rect x="418" y="103" width="29" height="30" fill="#000"/>
<path fill="#020202" d="M447 133l-29 0 0-30 29 0z"/>
<path fill="#040404" d="M447 133l-29 0 0-19.2 0.2-1 0.3-1.6 0.5-1.2 1.2-2.5 0.8-1.2 0.8-1.1 1-1 1.2-1 0.3-0.2 17 0 1.7 1.4 1.4 1.6 1.5 2.2 0.5 1.3 0.6 1.5z"/>
<path fill="#060606" d="M447 133l-29 0 0-16.9 3.8-0.1 0.1-1.5 0.2-1.3 0.3-1.2 0.5-1.2 0.7-1.3 0.7-1 0.9-1 1-0.9 1.8-1.1 2-0.8 2-0.3 2 0 2 0.4 2 0.9 1.8 1.2 1.5 1.6 1.1 1.7 0.8 1.8 0.5 2 0.1 2 3.2 0.1z"/>
<path fill="#080808" d="M444.8 133l-24.2 0-2.6-7.4 0-9.4 5.2-0.2 0.1-1.5 0.4-1.5 0.4-1.2 0.8-1.6 0.9-1.1 1-1 1-0.7 1.2-0.7 1-0.4 1.2-0.3 1-0.1 1.3 0 1.3 0.2 1 0.2 1.2 0.6 0.8 0.4 1 0.7 0.9 1 0.8 1 0.6 1 0.6 1.2 0.4 1.3 0.2 1.3 0.1 1.2 4.6 0.2 0 11.2-2 5.6z"/>
<path fill="#0a0a0a" d="M440.5 133l-15.6 0-1.7-3.8-2.4-6-2.4-7 5.6-0.2 0.1-1.5 0.3-1.3 0.4-1.2 0.7-1.2 0.7-1.1 1-1 1.3-0.9 1-0.5 1.7-0.5 1-0.1 1 0 1.8 0.2 1.8 0.7 1 0.7 1 0.8 0.8 0.9 0.8 1.2 0.5 1 0.4 1.3 0.2 1.3 0.1 1.2 5.4 0.2 0 0.6-0.7 2-2.6 7.4-2.3 5.3-0.7 1.5z"/>
<path fill="#0c0c0c" d="M437 133l-8.6 0-0.9-1.2-1-1.6-2.1-4-2.1-4.7-1.8-5.3 4-0.2 0.1-1.5 0.3-1.3 0.6-1.4 0.8-1.3 0.9-1.1 1-0.8 1.3-0.7 1.5-0.5 1.8-0.2 1.4 0.1 1.3 0.4 1.5 0.7 1 0.7 0.8 0.7 0.7 1 0.6 1 0.4 1 0.3 1 0.2 1.2 0.1 1 4 0.2-1.7 5-2.4 5.5-1.2 2.3-1 1.8-1.3 1.8-0.3 0.4z"/>
<path fill="#0e0e0e" d="M433.8 131.5l-1.3 0.1-0.7-0.1-0.8-0.3-0.8-0.5-0.7-0.6-1.5-1.6-2-2.9-1.9-3.4-1.2-2.7-1.1-3.3 3.1-0.2 0.1-1.5 0.4-1.5 0.7-1.5 0.9-1.3 1.2-1.1 1.3-0.7 1.3-0.5 1.4-0.3 1.3 0 1.3 0.3 1.2 0.4 1.2 0.7 0.9 0.8 0.7 0.7 0.5 0.7 0.6 1 0.6 1.8 0.1 1 0.1 1 3.1 0.2-0.9 2.8-1 2.5-1.3 2.5-1.6 2.5-1.5 2.1-1.3 1.4-1.2 1z"/>
<path fill="#101010" d="M433.8 128.6l-0.8 0.1-0.8-0.1-0.7-0.1-0.7-0.4-1.6-1-1.7-1.7-1.7-2.2-1.2-2-1-2.2-0.8-2.8 2.4-0.2 0.2-1.8 0.6-1.7 0.8-1.5 1.2-1.2 1-0.8 1-0.5 1-0.3 1.2-0.3 1.3 0.1 1.3 0.2 1.2 0.5 1.2 0.8 1.4 1.3 0.5 0.7 0.6 1 0.5 1.7 0.2 1.8 2.4 0.2-0.7 2.3-0.7 2-1 1.7-1 1.6-1.4 1.7-1.5 1.5-1.5 1.1z"/>
<path fill="#121212" d="M433.2 126.8l-1.4-0.1-1.6-0.6-1.4-0.9-1.6-1.4-1.2-1.6-1.1-1.7-0.8-2-0.6-2.3 2-0.2 0.2-1.8 0.4-1.4 0.9-1.6 1.1-1.2 1.1-0.8 1-0.5 1-0.3 1.3-0.2 1.3 0.1 1.2 0.3 1.2 0.5 1 0.7 1.2 1.2 1 1.5 0.5 1.7 0.2 1.8 2 0.2-0.5 2-0.7 1.8-0.9 1.8-1.1 1.4-1.4 1.4-1.5 1.2-1.2 0.6z"/>
<path fill="#141414" d="M434.2 125.6l-0.7 0.1-1 0-1.5-0.2-1.5-0.7-1.5-1.1-1.4-1.5-1.1-1.7-0.9-2-0.6-2.3 1.7-0.2 0.1-1.5 0.5-1.5 0.6-1.2 1-1.3 0.9-0.7 1-0.6 1-0.4 1-0.3 1.2 0 1.5 0.2 1.3 0.4 1.2 0.8 1.1 1.1 1 1.5 0.6 1.7 0.2 1.8 1.7 0.2-0.4 1.8-0.6 1.5-0.8 1.5-0.8 1.2-1 1.1-1.2 1.1-1.3 0.7z"/>
<path fill="#161616" d="M433.5 125l-1.5 0-1.5-0.4-1.5-0.8-1.2-0.9-1.2-1.4-1-1.5-0.7-1.8-0.5-2 1.5-0.2 0.2-1.5 0.4-1.5 0.7-1.2 1-1.3 0.8-0.6 1-0.6 1-0.4 1.2-0.2 1.3 0 1.3 0.3 1.2 0.5 1.1 0.7 1 1 0.9 1.6 0.5 1.4 0.2 1.8 1.5 0.2-0.3 1.6-0.7 1.7-0.8 1.5-0.9 1.2-1 1-1.3 0.9-1.2 0.6z"/>
<path fill="#181818" d="M433.5 124.5l-1.5 0-1.5-0.4-1.5-0.7-1.2-1-1-1.2-0.9-1.4-0.7-1.8-0.5-1.8 1.4-0.2 0.1-1.2 0.4-1.6 0.8-1.4 0.8-1.1 1-0.8 1-0.5 1-0.3 1-0.2 1.3 0 1.3 0.3 1.2 0.5 1 0.7 1 1.1 0.9 1.5 0.5 1.5 0.1 1.5 1.4 0.2-0.5 1.8-0.5 1.5-0.7 1.3-1 1.1-1 1-1.2 0.8-1.2 0.6z"/>
<path fill="#1a1a1a" d="M434.2 124l-1.4 0.2-1.6-0.2-1.4-0.6-1.3-0.8-1.3-1.2-0.9-1.4-0.7-1.5-0.5-2-0.1-0.3 1.3-0.2 0.1-1.2 0.3-1.3 0.6-1.3 0.7-1 0.8-0.7 1-0.7 1-0.4 1-0.3 1.4 0 1.3 0.2 1.3 0.5 1 0.6 1 1.1 0.9 1.5 0.5 1.5 0.1 1.5 1.3 0.2-0.3 1.3-0.5 1.5-0.6 1.2-0.7 1-1 1.1-1 0.7-1 0.6z"/>
<path fill="#1c1c1c" d="M434 123.8l-1.5 0.1-1.5-0.3-1.5-0.6-1.3-0.9-1.1-1.3-0.8-1.3-0.6-1.5-0.4-1.8 1.1-0.2 0.1-1.2 0.4-1.3 0.6-1.3 0.7-1 0.8-0.7 1-0.6 1-0.4 1-0.2 1.2-0.1 1.3 0.3 1.3 0.5 1 0.7 1 1.1 0.7 1.2 0.5 1.5 0.2 1.5 1.1 0.2-0.2 1.3-0.6 1.5-0.6 1.2-0.8 1-0.9 0.9-1 0.8-1 0.5z"/>
<path fill="#1e1e1e" d="M433.8 123.5l-1.3 0.1-1.5-0.3-1.2-0.5-1.3-0.8-1.2-1.2-0.8-1.3-0.6-1.5-0.4-1.8 1.1-0.2 0.1-1.2 0.4-1.6 0.5-1 0.9-1 0.7-0.7 1-0.6 1-0.3 1-0.2 1.3 0 1 0.2 1.3 0.5 1 0.8 0.8 0.9 0.8 1.2 0.5 1.5 0.1 1.5 1.1 0.2-0.3 1.3-0.4 1.3-0.6 1.2-0.8 1.1-1 0.9-1 0.7-1 0.5z"/>
<path fill="#202020" d="M434 123.3l-1.2 0.1-1.6-0.2-1.4-0.6-1.2-0.8-1.1-1.2-0.9-1.4-0.6-1.4-0.3-1.6 1-0.2 0.1-1.2 0.4-1.3 0.5-1 0.8-1.1 0.7-0.7 1-0.6 0.8-0.3 1-0.2 1.2-0.1 1 0.2 1.3 0.5 1 0.6 1.1 1.2 0.7 1.2 0.4 1.3 0.2 1.5 1 0.2-0.3 1.3-0.4 1.3-0.5 1-0.7 1-0.8 0.8-1 0.7-1 0.6z"/>
<path fill="#222222" d="M434 123l-1.5 0.2-1.3-0.2-1.2-0.5-1.2-0.8-1-1-0.8-1.2-0.7-1.5-0.4-1.5 0-0.3 1-0.2 0.1-1.2 0.3-1.3 0.5-1 0.7-0.9 0.7-0.7 0.8-0.5 1-0.5 1-0.2 1.2 0 1.3 0.2 1 0.4 1 0.7 0.9 1 0.8 1.2 0.4 1.3 0.1 1.5 1 0.2-0.2 1.3-0.4 1-0.6 1.3-0.7 1-0.8 0.7-1 0.8-1 0.4z"/>
<path fill="#242424" d="M434.2 122.8l-1.2 0.2-1.5-0.2-1.3-0.4-1.2-0.8-1-0.9-0.9-1.2-0.5-1.3-0.5-1.4 0-0.6 0.9-0.2 0.1-1.2 0.2-1 0.5-1 0.5-0.8 0.7-0.7 0.8-0.6 1-0.5 1-0.3 1.2-0.1 1 0.1 1.2 0.4 1.1 0.7 1 1 0.7 1.2 0.5 1.3 0.1 1.5 0.9 0.2-0.1 1-0.5 1.3-0.4 1-0.7 1-0.8 0.8-0.8 0.6-1 0.5z"/>
<path fill="#262626" d="M433.2 122.8l-1.2-0.1-1.2-0.3-1.3-0.6-1-0.8-0.8-1-0.8-1.2-0.4-1.3-0.3-1.3 0.9-0.2 0.1-1.2 0.4-1.3 0.5-1 0.8-1 0.9-0.7 0.7-0.4 1-0.3 1-0.2 1 0 1 0.3 1 0.4 1 0.7 0.8 0.9 0.7 1.3 0.4 1.3 0.1 1.2 0.9 0.2-0.3 1.3-0.4 1.3-0.6 1-0.8 1-0.8 0.7-1 0.6-1.3 0.5z"/>
<path fill="#282828" d="M434 122.5l-1.2 0.1-1.6-0.2-1.2-0.5-1-0.7-1-1-0.7-1-0.5-1.2-0.4-1.5 0-0.3 0.8-0.2 0.1-1.2 0.3-1 0.5-1 0.5-0.8 0.8-0.8 0.8-0.5 0.8-0.4 1-0.2 1.2-0.1 1 0.2 1 0.4 1 0.7 1 0.9 0.7 1.3 0.4 1.3 0.1 1.2 0.8 0.2-0.2 1-0.4 1.3-0.5 1-0.6 0.8-0.7 0.8-0.8 0.6-1 0.5z"/>
<path fill="#2e2e2e" d="M433.8 122.3l-1 0-1.3-0.1-1.3-0.5-1-0.6-0.8-0.9-0.8-1-0.5-1.2-0.4-1.5-0.1-0.3 0.8-0.2 0.1-1 0.2-1 0.5-1 0.6-0.8 0.7-0.8 0.7-0.5 0.8-0.3 1-0.3 1.2 0 1 0.1 1 0.5 1 0.6 0.9 1 0.6 1 0.4 1.3 0.1 1.2 0.8 0.2-0.3 1.3-0.4 1-0.5 1-0.6 0.7-0.7 0.8-1 0.6-1 0.5z"/>
<path fill="#343434" d="M434 121.8l-1 0.2-1.2-0.2-1.3-0.4-1-0.6-0.9-0.8-0.7-1-0.5-1-0.3-1.2-0.1-0.6 0.7-0.2 0-0.5 0.3-1.3 0.4-1 0.5-0.7 0.6-0.7 0.7-0.5 0.8-0.4 1-0.3 1-0.1 1 0.2 1 0.4 1 0.6 0.7 0.8 0.7 1 0.2 0.7 0.3 1 0 0.8 0.7 0.2-0.2 1-0.3 1-0.9 1.6-0.7 0.7-0.7 0.6-0.8 0.4z"/>
<path fill="#3a3a3a" d="M433.8 121.5l-1.3 0.1-1-0.2-1-0.3-0.9-0.6-0.8-0.7-0.7-1-0.4-1-0.4-1.3 0-0.3 0.6-0.2-0.1-0.5 0.5-1.5 0.4-0.8 0.5-0.7 0.6-0.5 0.7-0.6 0.7-0.3 0.8-0.2 1-0.1 1 0.2 1 0.4 0.9 0.6 0.7 0.8 0.6 1 0.5 1.7 0 0.5 0.6 0.2-0.2 1-0.2 0.8-0.6 1-0.5 0.8-0.6 0.5-0.7 0.5-0.7 0.4z"/>
<path fill="#404040" d="M433.5 121.3l-1 0-1-0.2-1-0.4-1-0.7-0.7-0.8-0.6-1-0.4-1-0.2-1 0.5-0.2-0.1-0.5 0.6-1.5 0.4-0.8 0.5-0.6 0.6-0.6 0.7-0.4 0.7-0.3 0.7-0.2 1 0 1 0.2 0.8 0.4 0.8 0.5 0.7 0.8 0.4 0.8 0.7 1.7-0.1 0.5 0.5 0.2-0.2 1-0.3 0.8-0.3 0.8-0.7 0.8-0.5 0.5-0.8 0.6-1 0.4z"/>
<path fill="#464646" d="M433.2 121l-0.7 0-1-0.1-1-0.5-0.7-0.5-0.8-0.8-0.5-0.9-0.4-1-0.3-1 0.5-0.2-0.1-0.5 0.1-0.3 0.3-0.4 0.5-1.3 0.7-0.9 0.4-0.4 0.8-0.5 0.8-0.2 0.7-0.2 1 0.1 0.7 0.2 0.8 0.3 0.7 0.6 0.8 1 0.5 1.3 0.3 0.4 0.1 0.6-0.1 0.2 0.4 0.2-0.2 1-0.2 0.8-0.4 0.8-0.6 0.7-0.8 0.7-0.7 0.4-0.8 0.3z"/>
<path fill="#4c4c4c" d="M433.2 120.8l-0.7 0-1-0.2-1-0.5-0.7-0.5-0.8-0.8-0.4-0.8-0.3-0.8-0.2-1 0.3-0.2-0.1-0.2 0.1-0.6 0.4-0.4 0.6-1.3 0.6-0.7 0.5-0.5 0.7-0.4 1.3-0.3 0.7 0 0.8 0.1 0.8 0.4 0.7 0.5 0.5 0.6 0.4 0.6 0.4 1 0.4 0.4 0.1 0.3-0.1 0.5 0.3 0.2-0.4 1.6-0.4 0.7-0.5 0.7-0.7 0.7-0.7 0.4-0.8 0.3z"/>
<path fill="#525252" d="M433.2 120.5l-0.7 0-1-0.2-0.7-0.3-0.8-0.5-0.7-0.7-0.5-0.8-0.3-0.8-0.2-1 0.3-0.2-0.1-0.5 0.1-0.3 0.4-0.4 0.5-1 0.5-0.8 0.6-0.5 0.6-0.4 1.3-0.3 0.7 0 0.8 0.2 0.8 0.3 0.5 0.5 0.7 0.7 0.6 1.3 0.4 0.4 0.1 0.6-0.1 0.2 0.3 0.2-0.4 1.6-0.4 0.7-0.5 0.6-0.5 0.5-0.7 0.5-0.8 0.3z"/>
<path fill="#585858" d="M433.5 120.3l-0.7 0-1-0.1-0.8-0.3-0.8-0.5-0.6-0.6-0.5-0.8-0.3-0.8-0.2-0.7-0.1-0.3 0.2-0.2-0.1-0.2 0.1-0.6 0.5-0.4 0.8-1.5 1-0.8 0.5-0.3 0.7-0.2 0.8 0 0.8 0.1 0.7 0.3 0.5 0.4 0.7 0.7 0.7 1.3 0.4 0.2 0.2 0.5-0.1 0.5 0.2 0.2-0.2 0.8-0.3 0.8-0.4 0.7-0.4 0.5-0.8 0.7-0.8 0.3z"/>
<path fill="#5e5e5e" d="M433.5 120l-0.7 0.1-0.8-0.1-0.8-0.2-0.7-0.5-0.6-0.5-0.6-0.8-0.3-0.8-0.2-0.7 0-0.3 0.1-0.2-0.2-0.5 0.1-0.3 0.8-0.7 0.5-1 0.9-0.8 0.5-0.2 0.7-0.2 1.3 0 0.7 0.2 0.6 0.3 0.7 0.7 0.5 1 0.6 0.5 0.3 0.5-0.2 0.5 0.1 0.2-0.1 0.8-0.3 0.8-0.5 0.7-0.4 0.5-0.7 0.5-0.6 0.3z"/>
<path fill="#646464" d="M433.8 119.8l-0.8 0.1-0.8-0.1-0.7-0.2-0.7-0.4-0.6-0.4-0.5-0.6-0.4-0.7-0.3-0.7 0-0.8-0.1-0.2 0.1-0.6 0.8-0.7 0.4-0.7 0.5-0.6 0.5-0.4 0.8-0.3 0.5-0.1 0.7 0.1 0.8 0.2 0.5 0.2 0.7 0.7 0.6 0.9 0.6 0.5 0.3 0.5-0.2 1.5-0.6 1.2-0.9 0.9-0.6 0.4z"/>
<path fill="#6a6a6a" d="M433.8 119.5l-0.8 0.2-0.8-0.1-0.7-0.2-0.5-0.2-0.6-0.4-0.4-0.6-0.5-0.7-0.2-0.7-0.3-1 0.1-0.6 0.9-0.7 0.3-0.5 0.5-0.6 0.4-0.3 0.8-0.4 0.5-0.1 0.7 0.1 1 0.3 0.8 0.6 0.6 0.9 0.7 0.5 0.3 0.5-0.3 1.5-0.5 1.1-1 0.9z"/>
<path fill="#707070" d="M433.8 119.3l-0.8 0.2-0.8-0.1-0.7-0.2-0.7-0.4-0.6-0.6-0.4-0.7-0.7-1.7 0.1-0.6 0.2-0.2 0.8-0.5 0.3-0.5 0.5-0.5 1-0.5 0.5-0.1 0.7 0 1 0.3 0.7 0.6 0.5 0.7 0.8 0.5 0.3 0.5-0.4 1.5-0.5 1-0.8 0.8z"/>
<path fill="#767676" d="M433 119.3l-0.8-0.1-0.4-0.1-0.7-0.3-0.6-0.5-0.7-1.1-0.3-1-0.2-0.4-0.1-0.3 0.4-0.5 0.8-0.5 0.4-0.5 0.4-0.4 0.8-0.4 0.8-0.2 0.7 0.1 0.7 0.4 0.6 0.4 0.4 0.6 0.8 0.5 0.4 0.5 0 0.3-0.3 0.4-0.3 1-0.7 1-0.9 0.7-0.4 0.2z"/>
<path fill="#7c7c7c" d="M433.2 119l-0.7 0.1-0.5-0.1-1-0.6-0.5-0.4-0.3-0.5-0.3-0.5-0.2-0.8-0.3-0.4 0.1-0.6 0.2-0.2 1-0.5 0.4-0.5 0.4-0.4 1-0.3 0.7 0 0.8 0.3 0.5 0.4 0.4 0.5 1 0.5 0.3 0.5 0 0.3-0.3 0.4-0.3 1-0.5 0.8-0.9 0.7z"/>
<path fill="#828282" d="M433.5 118.8l-0.5 0.1-0.8-0.1-0.4-0.1-0.7-0.5-0.7-0.7-0.5-1.3-0.4-0.4 0.1-0.6 0.2-0.2 1.1-0.5 0.6-0.6 0.7-0.3 0.8-0.1 0.8 0.2 0.4 0.3 0.5 0.5 0.5 0.2 0.6 0.3 0.3 0.5 0 0.3-0.4 0.4-0.4 1-0.3 0.6-0.8 0.6z"/>
<path fill="#888888" d="M433.5 118.6l-0.5 0.1-0.8-0.1-0.4-0.2-0.7-0.4-0.5-0.5-0.4-1-0.6-0.7 0-0.3 0.1-0.3 0.5-0.4 0.9-0.3 0.9-0.6 0.8-0.2 0.7 0.1 1 0.7 0.5 0.2 0.7 0.3 0.2 0.2 0.1 0.3 0 0.3-0.6 0.7-0.3 0.7-0.6 0.8-0.5 0.4z"/>
<path fill="#8e8e8e" d="M433.8 118.3l-0.6 0.1-0.7 0-0.5-0.1-0.6-0.3-0.6-0.7-0.4-0.8-0.6-0.5-0.1-0.2 0-0.3 0.1-0.3 0.7-0.4 0.8-0.3 0.9-0.5 0.6 0 0.7 0.1 2 0.9 0.3 0.2 0.1 0.3 0 0.3-0.1 0.2-0.6 0.5-0.5 1-0.5 0.5z"/>
<path fill="#949494" d="M433.8 118l-0.6 0.2-0.7 0-0.5-0.1-0.5-0.3-0.5-0.6-0.4-0.7-0.6-0.5-0.2-0.2 0-0.3 0.1-0.3 0.3-0.2 0.6-0.3 1.2-0.4 0.8-0.1 1 0.2 1.1 0.4 0.5 0.2 0.3 0.2 0.1 0.3 0 0.3-0.2 0.2-0.6 0.5-0.2 0.5-0.4 0.5z"/>
<path fill="#9a9a9a" d="M433 118l-0.8-0.1-0.7-0.4-0.5-0.5-0.2-0.5-0.7-0.5-0.2-0.2 0-0.3 0.1-0.3 0.3-0.2 0.7-0.3 1.8-0.3 1.7 0.3 0.7 0.3 0.3 0.2 0.2 0.3 0 0.3-0.2 0.2-0.7 0.5-0.3 0.6-0.5 0.5-0.5 0.3z"/>
<path fill="#a0a0a0" d="M433 117.8l-0.8-0.1-0.7-0.5-0.4-0.7-0.9-0.5-0.2-0.2 0-0.3 0.2-0.3 0.3-0.2 0.5-0.3 1.8-0.2 1.7 0.2 0.6 0.3 0.3 0.2 0.2 0.3 0 0.3-0.2 0.2-0.9 0.5-0.3 0.5-0.4 0.5z"/>
<path fill="#a6a6a6" d="M433 117.5l-0.5 0-0.5-0.2-0.4-0.3-0.3-0.5-0.5-0.2-0.5-0.3-0.1-0.2-0.1-0.3 0.2-0.3 0.3-0.2 0.6-0.3 1.6-0.2 0.7 0.1 0.9 0.2 0.6 0.2 0.3 0.2 0.2 0.3-0.1 0.3-0.1 0.2-0.5 0.4-0.5 0.1-0.3 0.5-0.3 0.2z"/>
<path fill="#acacac" d="M433.5 117l-0.5 0.2-0.8-0.1-0.6-0.6-0.6-0.2-0.6-0.3-0.1-0.2-0.1-0.3 0.2-0.3 0.6-0.3 0.8-0.2 0.7-0.1 1 0 0.7 0.2 0.7 0.2 0.3 0.2 0.2 0.3-0.1 0.3-0.1 0.2-0.4 0.3-0.8 0.2z"/>
<path fill="#b2b2b2" d="M433.2 116.8l-0.2 0.1-0.5-0.1-0.7-0.3-0.8-0.2-0.4-0.3-0.2-0.2 0-0.3 0.1-0.3 0.5-0.3 0.8-0.2 0.7-0.1 1.5 0.2 0.7 0.2 0.4 0.2 0.1 0.3 0 0.3-0.2 0.2-0.5 0.3-0.7 0.2z"/>
<path fill="#b8b8b8" d="M433.2 116.6l-0.7 0-1.3-0.3-0.5-0.3-0.2-0.2 0-0.3 0.1-0.3 0.4-0.2 0.8-0.2 0.7-0.1 1.5 0.1 0.6 0.2 0.4 0.2 0.1 0.3 0 0.3-0.2 0.2-0.7 0.3z"/>
<path fill="#bebebe" d="M434.2 116.3l-1.2 0.2-1.2-0.1-1-0.4-0.2-0.2 0-0.3 0.2-0.3 0.2-0.1 0.8-0.3 1-0.1 1 0.1 0.7 0.2 0.3 0.2 0.2 0.3 0 0.3-0.2 0.2z"/>
<path fill="#c4c4c4" d="M434 116.3l-1 0.1-1.2-0.1-0.9-0.3-0.2-0.2 0-0.3 0.2-0.3 0.3-0.2 0.8-0.2 1 0 1 0.1 0.7 0.3 0.2 0.3 0 0.3-0.2 0.2z"/>
<path fill="#cacaca" d="M433.8 116.3l-1 0.1-1.1-0.2-0.6-0.2-0.3-0.2 0-0.3 0.4-0.4 0.8-0.2 1-0.1 1 0.2 0.6 0.2 0.2 0.3 0 0.3-0.3 0.2z"/>
<path fill="#d0d0d0" d="M433.5 116.3l-1 0-0.7-0.1-0.6-0.2-0.2-0.2-0.1-0.3 0.3-0.3 0.3-0.1 1-0.2 1.3 0.1 0.6 0.2 0.2 0.3 0 0.3-0.4 0.3z"/>
<path fill="#d6d6d6" d="M433.2 116.3l-0.7 0-0.7-0.2-0.6-0.2-0.1-0.1 0-0.3 0.2-0.3 0.5-0.1 1-0.2 1 0.1 0.5 0.2 0.2 0.3 0 0.3-0.3 0.2z"/>
<path fill="#dcdcdc" d="M434 116l-0.8 0.2-1 0-0.7-0.2-0.3-0.2 0-0.3 0.3-0.3 0.7-0.2 1.3 0 0.6 0.2 0.3 0.3 0 0.3z"/>
<path fill="#e2e2e2" d="M433.8 116l-0.8 0.2-1-0.1-0.6-0.3 0-0.3 0.2-0.3 0.6-0.1 0.8-0.1 0.5 0.1 0.5 0.1 0.2 0.3 0 0.3z"/>
<path fill="#e8e8e8" d="M433.5 116l-0.7 0.1-0.8-0.1-0.5-0.2 0-0.3 0.3-0.3 0.4-0.1 0.8 0 0.5 0.1 0.3 0 0.3 0.3 0 0.3z"/>
<path fill="#eeeeee" d="M433.2 116l-1 0-0.5-0.2 0-0.3 0.4-0.3 0.7 0 0.7 0 0.4 0.3 0 0.3z"/>
<path fill="#f4f4f4" d="M433.5 115.8l-0.5 0.2-0.5-0.1-0.6-0.1 0-0.3 0.5-0.3 0.8 0 0.5 0.3 0 0.3z"/>
<path fill="#fafafa" d="M433.2 115.8l-0.4 0.1-0.6-0.1-0.1-0.3 0.7-0.2 0.4 0.1 0.3 0.1-0.1 0.3z"/>
</g>
</g></g>
<clipPath id="cpd"><rect x="324" y="267.3" width="217.9" height="172.2"/></clipPath>
<clipPath id="cwd"><rect x="419" y="331" width="27" height="37"/></clipPath>
<g clip-path="url(#cpd)"><g filter="url(#jet)">
<g filter="url(#bl)"><rect x="316" y="259" width="234" height="189" fill="#000"/>
<path fill="#020202" d="M547 445l-228 0 0-183 228 0z"/>
<path fill="#040404" d="M547 445l-228 0 0-91.6 62-0.1 17.5-0.3 11.6-6 2.9-1.9 5-4.1 3.7-1 2.6-7 1.5-3 1.8-3 1.4-1.7 1-0.8 2-0.9 1 0 2 0.8 1 0.8 2.2 2.8 2.6 5 2.6 7 3.7 1 4.9 4 3 2 11.6 6 17.4 0.3 63 0.1z"/>
<path fill="#060606" d="M434 386l-2 0.2-2-0.6-1-0.7-2.1-1.9-2.8-4-2.6-5-2.2-5-1.8-5-3.1-10 0.8-1 1.8-1.3 1-1.1 1-2 1.4-3.6 2.1-3 2-2 2-4 1.5-2.2 2-2.1 1-0.5 1-0.3 1-0.1 1 0.3 1 0.6 2 2 1.6 2.3 2 4 2 2 2.1 3 2.3 5.5 1 1.1 1.9 1.4 0.8 1-4.2 13-2 5-1.9 4-2.2 4-2.4 3.2-2 1.8z"/>
<path fill="#080808" d="M434 373.3l-2 0.2-2-0.7-2-1.6-2-2.3-1.8-2.9-1.5-3-3.3-9 1.2-2 0.3-1 0.5-4 1.2-3 2.4-3 1.6-3 2.1-3 1.3-1.2 1-0.6 1-0.3 1 0 1 0.2 1 0.6 1 0.9 2.5 3.4 1.5 2.8 2.5 3.2 1.2 3 0.5 4 0.3 1 1.2 2-3.3 9-2.1 4-1.3 2-2 2.3-2 1.5z"/>
<path fill="#0a0a0a" d="M435 368l-1 0.5-2 0.2-2-0.7-2-1.5-2-2.3-1.4-2.2-1.3-3-1.7-5 0.6-1 0.1-1-0.1-3 0.2-2 1.1-3 1.5-2 0.2-1 1-1 1.1-2 1.6-2 2.1-1.7 1-0.3 1 0 1 0.3 2 1.4 1.8 2.3 1.1 2 0.9 1 0.2 0.8 1.6 2.2 1.1 3 0.1 2 0 3 0.1 1 0.6 1-2.1 6-1.5 3-2.3 3-1.6 1.4z"/>
<path fill="#0c0c0c" d="M435 365.4l-2 0.6-2-0.2-2-1.1-1-0.8-1.7-1.9-1.2-2-0.9-2-1.3-4 0.6-1-0.4-4 0-2 0.6-2 1.3-2.2 0.5-1.8 1.1-1 2.4-3.4 1-0.9 1-0.6 1-0.3 1 0 2 0.8 1.4 1.4 2.1 3 1 1 0.5 1.6 1.4 2.4 0.3 1 0.3 2-0.4 5 0.6 1-1.7 5-1.1 2-1.4 2-2 1.8z"/>
<path fill="#0e0e0e" d="M434 364.1l-2 0.2-1-0.2-1-0.4-2-1.5-1.1-1.2-1.3-2-0.8-2-1-3 0.6-1-0.8-4 0.1-2 0.5-2 0.8-1.4 0.7-2.6 1.3-1 1.3-2 1.7-1.7 1-0.6 1-0.3 1-0.1 1 0.3 1 0.6 1.8 1.8 1.3 2 1.2 1 0.7 2.4 1.2 2.6 0.3 2-0.1 2-0.7 3 0.6 1-0.9 3-0.9 2-1.3 2-1.2 1.3-2 1.4z"/>
<path fill="#101010" d="M433 363l-2-0.2-1-0.4-2-1.5-1.5-1.9-1.1-2-0.9-3 0.6-1-0.7-2-0.3-2 0.2-3 0.7-1.7 0.3-1.3 0.5-1 0.2-1 1-0.1 0.2-0.9 0.8-1 2-2.2 1-0.6 1-0.3 1-0.1 1 0.3 1 0.6 1 0.9 1.2 1.4 0.6 1 0.2 0.8 1 0.2 0.8 2 0.2 1.1 0.8 1.9 0.2 2-0.1 2-0.9 3 0.6 1-1.4 4-1.3 2-1.9 1.9-1 0.6z"/>
<path fill="#121212" d="M433 362.1l-2-0.2-1-0.4-2-1.6-1.5-1.9-0.9-2-0.6-2 1-1-0.9-1-0.5-2-0.2-2 0.1-1 0.9-4 0.6-1 1.2-1 0.3-1 1.5-1.9 2-1.6 1-0.3 1 0 1 0.3 1 0.6 1 0.9 1.6 2 0.3 1 1.1 0.6 0.7 1.4 0.3 1.9 0.4 1.1 0.3 2-0.2 2-0.6 2-0.5 1 0.7 1-0.6 2-0.9 2-1.6 2-1 0.9-1 0.6z"/>
<path fill="#141414" d="M434 361.2l-2 0.1-2-0.6-2-1.6-0.9-1.1-1-2-0.7-2 0.6-0.6 0.1-0.4-0.7-1-0.6-3 0-2 0.5-3 0.3-1 0.5-1 1.2-1 0.4-1 1.3-1.6 1-0.9 2-1 1 0 1 0.4 1 0.5 1.6 1.6 0.8 1 0.3 1 1.3 1 0.5 1 0.8 4 0 2-0.6 3-0.7 1 0.7 1-1.1 3-1.6 2.3-1 0.8z"/>
<path fill="#161616" d="M435 360.1l-2 0.6-2-0.2-2-1.1-1-0.9-1-1.5-0.9-2-0.3-1 0.5-1-0.7-1-0.4-2-0.1-3 0.6-4 0.6-1 1.2-1 0.5-1 1-1.3 2-1.5 1-0.3 1 0 1 0.2 1 0.6 1.3 1.3 0.8 1 0.4 1 1.3 1 0.6 1 0.5 3 0.2 2-0.2 2-0.4 2-0.7 1 0.5 1-0.3 1-0.4 1-1.1 2-1.5 1.5z"/>
<path fill="#181818" d="M433 360.2l-1 0-2-0.6-1-0.7-1.6-1.9-1-2-0.3-1 0.3-1-0.9-2-0.3-2 0.2-4 0.5-2 0.5-1 1.3-1 0.5-1 1.8-1.9 1-0.7 1-0.3 1 0 1 0.3 1 0.6 1.9 2 0.5 1 1.3 1 0.5 1 0.3 1 0.4 3-0.3 4-0.3 1-0.6 1 0.3 1-0.7 2-1.3 2-1 0.9-1 0.7z"/>
<path fill="#1a1a1a" d="M435 359.1l-1 0.5-2 0.1-1-0.2-2-1.1-1.2-1.4-1.1-2-0.4-1 0.2-1-0.8-2-0.2-1-0.2-2 0.3-3 0.4-2 0.5-1 1.4-1 0.4-1 1.7-1.7 1-0.7 1-0.3 1 0 1 0.3 1 0.6 1 0.9 0.8 0.9 0.4 1 1.4 1 0.5 1 0.4 2 0.2 4-0.2 2-0.9 2 0.1 1-0.3 1-1.1 2-1.3 1.5z"/>
<path fill="#1c1c1c" d="M434 359.1l-2 0.2-1-0.2-1-0.4-1.9-1.7-0.6-1-0.9-2 0-1-0.8-2-0.3-2 0.2-4 0.4-2 0.5-1 1.5-1 0.4-1 1.5-1.5 2-1 1 0 2 0.9 1.6 1.6 0.4 1 1.5 1 0.7 2 0.3 2 0 4-0.5 2-0.5 1 0 1-0.4 1-1.1 1.9-1 1.1-1 0.7z"/>
<path fill="#1e1e1e" d="M435 358.3l-1 0.5-2 0.1-1-0.2-1-0.4-1-0.8-1-1.1-0.8-1.4-0.4-1-0.1-1-0.5-1-0.4-2-0.2-3 0.6-4 0.5-1 1.6-1 0.4-1 1.3-1.3 2-1 1 0 1 0.3 1 0.6 1 0.9 0.5 0.5 0.3 1 1.6 1 0.5 1 0.4 2 0.2 3-0.2 2-0.4 2-0.5 1-0.1 1-1.3 2.5-1 1.1z"/>
<path fill="#202020" d="M434 358.5l-2 0.2-1-0.3-1-0.5-1.2-0.9-0.8-1-0.9-2-0.2-1-0.6-1-0.5-3 0-2 0.3-3 0.2-1 0.6-1 1.5-1 0.4-1 1.2-1.1 1-0.7 1-0.3 1 0 1 0.3 1 0.6 1.3 1.2 0.4 1 1.5 1 0.6 1 0.5 3-0.1 4-0.4 2-0.6 1-0.5 2-1.7 2.3z"/>
<path fill="#222222" d="M434 358.1l-2 0.3-1-0.3-1-0.5-1-0.8-1-1.2-0.8-1.6-0.2-1-0.6-1-0.4-2 0-4 0.1-2 0.3-1 0.6-1 1-0.8 0.6-0.2 0.4-1 1-1 1-0.6 1-0.3 1 0 1 0.2 2 1.6 0.5 1.1 0.5 0.2 1.1 0.8 0.6 1 0.4 3 0.1 2-0.3 3-0.2 1-0.6 1-0.7 2-1.4 1.9-1 0.8z"/>
<path fill="#242424" d="M433 358.1l-2-0.3-1-0.4-1.5-1.4-0.6-1-1.4-3-0.3-1-0.1-2 0-4 0.4-2 0.6-1 0.9-0.7 0.8-0.3 0.3-1 0.9-0.8 1-0.7 1-0.3 1 0 1 0.3 1 0.6 1 0.9 0.3 1 0.7 0.2 1 0.8 0.6 1 0.4 3-0.1 5-0.3 1-0.6 1-0.8 2-1.2 1.6-1 0.8z"/>
<path fill="#262626" d="M435 357.1l-1 0.5-2 0.2-1-0.2-1-0.5-1-0.8-0.9-1.3-1.5-3-0.3-1-0.2-5 0.2-2 0.3-1 0.5-1 0.9-0.7 0.9-0.3 0.4-1 0.7-0.7 1-0.6 1-0.4 1 0 1 0.3 1 0.6 0.8 0.8 0.4 1 0.8 0.3 0.9 0.7 0.6 1 0.3 1 0.1 5-0.1 2-0.3 1-1.5 3-1 1.4z"/>
<path fill="#282828" d="M434 357.4l-2 0.2-1-0.2-1-0.6-1-0.8-0.7-1-1.6-3-0.5-2 0-5 0.5-2 0.5-1 0.8-0.6 1.1-0.4 0.3-1 0.6-0.6 2-0.9 1 0 1 0.3 1 0.5 0.7 0.7 0.3 1 1 0.3 0.9 0.7 0.5 1 0.4 2 0 5-0.4 2-1.6 3-0.7 1-1.1 0.9z"/>
<path fill="#2a2a2a" d="M434 357.2l-1 0.2-1 0-2-0.8-0.7-0.6-0.9-1-1.1-2-0.9-2-0.1-1 0-5 0.1-1 0.9-2 0.7-0.6 1.2-0.4 0.3-1 0.5-0.5 2-0.9 1 0 2 0.9 0.6 0.5 0.3 1 1.1 0.4 0.8 0.6 0.6 1 0.4 2 0 5-0.4 2-1.7 3-0.7 0.8-1 0.9z"/>
<path fill="#2c2c2c" d="M433 357.2l-1 0-1-0.3-1-0.5-1-0.9-2.1-3.5-0.4-1-0.2-2 0-3 0.2-2 0.9-2 0.6-0.5 1.3-0.5 0.4-1 0.3-0.3 2-1 1 0 2 0.9 0.4 0.4 0.4 1 1.2 0.4 0.7 0.6 0.9 2 0.2 2-0.1 4-0.4 2-2.3 3.6-1 0.9z"/>
<path fill="#2e2e2e" d="M435 356.3l-1 0.5-2 0.2-1-0.2-1-0.6-1-0.9-1.6-2.3-0.8-2-0.2-2 0-3 0.2-2 0.4-1 0.4-1 0.6-0.4 1.4-0.6 0.6-1.2 1-0.6 1-0.3 1-0.1 1 0.3 1 0.6 0.3 0.3 0.4 1 1.3 0.5 0.6 0.5 0.9 2 0.2 3-0.2 4-0.9 2-1.3 2z"/>
<path fill="#303030" d="M435 356.1l-1 0.5-2 0.2-1-0.2-1-0.6-1-0.9-1-1.4-1.3-2.7-0.3-2 0-3 0.3-2 0.3-1 0.5-1 2-1 0.5-1.1 1-0.6 1-0.3 1 0 1 0.2 1 0.6 0.6 1.2 1.4 0.6 0.6 0.4 0.8 2 0.3 3-0.3 4-0.8 2-1.6 2.2z"/>
<path fill="#323232" d="M434 356.5l-1 0.2-1 0-1-0.3-1-0.6-1-0.9-1.4-1.9-0.9-2-0.1-1 0-5 0.1-1 0.9-2 2-1 0.5-1 0.9-0.6 1-0.3 1 0 1 0.2 1.1 0.7 0.4 1 1.5 0.6 0.5 0.4 0.9 2 0.1 1 0 5-0.5 2-0.5 1-1.5 2-1 0.9z"/>
<path fill="#343434" d="M434 356.3l-1 0.2-1 0-1-0.3-1-0.5-2.3-2.7-0.5-1-0.6-2-0.1-4 0.3-2 0.4-1 0.5-1 2-1 0.5-1 0.8-0.6 1-0.2 1-0.1 1 0.3 0.9 0.6 0.4 1 2.1 1 0.9 2 0.2 1 0.1 4-0.3 2-0.4 1-0.9 1.6-1 1.2-1 0.9z"/>
<path fill="#363636" d="M434 356.1l-1 0.3-1 0-2-0.9-2.3-2.5-0.5-1-0.5-2-0.1-4 0.6-3 0.5-1 2.2-1 0.4-1 0.7-0.5 1-0.3 1 0 1 0.3 0.8 0.5 0.4 1 2.2 1 0.5 1 0.5 2 0.1 4-0.3 2-0.3 1-0.9 1.5-1 1.1-1 1z"/>
<path fill="#383838" d="M433 356.2l-1 0-1-0.3-1-0.5-2-2.1-0.7-1.3-0.6-3 0.1-4 0.5-2 0.5-1 2.2-1 0.5-1 1.5-0.7 1 0 1 0.3 0.6 0.4 0.5 1 2.2 1 0.9 2 0.2 2 0 4-0.6 2-0.8 1.4-2 2z"/>
<path fill="#3a3a3a" d="M433 356.1l-1 0-1-0.3-1-0.6-2-2-0.7-1.2-0.6-3 0-3 0.6-3 0.7-1.1 2.1-0.9 0.5-1 1.4-0.6 1 0 1 0.3 0.5 0.3 0.5 1 2.2 1 0.9 2 0.3 2-0.1 4-0.5 2-0.8 1.3-2 2-1 0.5z"/>
<path fill="#3c3c3c" d="M435 355.1l-1 0.6-1 0.3-1-0.1-1-0.2-1-0.7-2-2-0.6-1-0.3-1-0.3-2-0.1-2 0.2-2 0.5-2 0.6-1 1-0.6 1.2-0.4 0.5-1 1.3-0.5 1 0 1 0.3 0.4 0.2 0.5 1 1.1 0.4 1.1 0.6 0.6 1 0.5 2 0.1 4-0.6 3-0.7 1.2z"/>
<path fill="#3e3e3e" d="M434 355.6l-1 0.2-1 0-1-0.2-1-0.7-2-2-0.6-0.9-0.4-2-0.2-4 0.6-3 0.6-1 1-0.6 1.4-0.4 0.5-1 1.1-0.4 1-0.1 1 0.4 0.7 1.1 1.3 0.4 1.1 0.6 0.6 1 0.5 2 0.1 4-0.6 3-0.7 1.1-2 1.9z"/>
<path fill="#404040" d="M434 355.5l-1 0.2-1 0-1-0.3-1-0.6-2-1.9-0.5-0.9-0.5-2-0.1-4 0.6-3 0.6-1 0.9-0.5 1.5-0.5 0.5-1 1-0.4 1 0 1 0.4 0.6 1 1.4 0.4 1 0.6 0.6 1 0.5 2 0.1 4-0.6 3-0.6 1-2 1.9z"/>
<path fill="#424242" d="M434 355.4l-1 0.2-1 0-1-0.3-1-0.6-2-1.9-0.5-0.8-0.4-2-0.1-4 0.5-3 0.7-1 0.8-0.5 1.6-0.5 0.6-1 0.8-0.3 1 0 0.9 0.3 0.6 1 1.5 0.5 0.9 0.5 0.7 1 0.4 2 0.2 4-0.6 3-0.7 1-1.9 1.7z"/>
<path fill="#444444" d="M434 355.2l-1 0.3-1 0-1-0.3-1-0.7-2-1.8-0.4-0.7-0.5-2-0.1-4 0.6-3 0.6-1 0.8-0.5 1.8-0.5 0.6-1 0.6-0.2 1 0 0.7 0.2 0.6 1 1.7 0.5 0.9 0.5 0.6 1 0.5 2 0.1 4-0.6 3-0.6 1-1.9 1.6z"/>
<path fill="#464646" d="M434 355.1l-1 0.3-1 0-1-0.3-1-0.7-1-0.7-1-1.1-0.4-0.6-0.4-2-0.1-4 0.5-3 0.7-1 0.7-0.4 1.9-0.6 0.8-1 0.3-0.1 1.4 0.1 0.8 1 1.8 0.5 0.8 0.5 0.7 1 0.4 2 0.1 4-0.5 3-0.7 1-0.8 0.7z"/>
<path fill="#484848" d="M433 355.3l-1 0-1-0.3-2.6-2-0.7-1-0.6-3 0-3 0.6-3 0.7-1 0.6-0.4 2-0.6 1-1 1.2 0 0.9 1 1.9 0.6 0.7 0.4 0.7 1 0.6 3 0 3-0.6 3-0.7 1-0.7 0.7-2 1.3z"/>
<path fill="#4c4c4c" d="M433 355.1l-1 0-1-0.3-2.5-1.8-0.7-1-0.3-1-0.3-3 0.3-4 0.3-1 0.7-1 1.5-0.7 1.4-0.3 0.6-0.7 1-0.1 0.7 0.8 2.3 0.6 0.6 0.4 0.4 0.5 0.6 1.5 0.4 3-0.2 3-0.5 2-1.3 1.6-2 1.3z"/>
<path fill="#505050" d="M434 354.7l-1 0.2-1 0-1-0.3-2-1.2-1.1-1.4-0.5-2-0.1-4 0.3-2 0.3-1 0.7-1 0.4-0.3 3-0.8 1-0.1 0.2 0.2 1.8 0.3 1.5 0.7 0.7 1 0.5 2 0.1 4-0.6 3-1.2 1.5z"/>
<path fill="#545454" d="M434 354.5l-1 0.3-1 0-1-0.3-2.3-1.5-0.7-1-0.3-1-0.3-3 0.3-4 0.3-1 0.7-1 1.3-0.6 2-0.4 2 0.2 1 0.2 1.4 0.6 0.7 1 0.3 1 0.3 4-0.1 2-0.5 2-1.1 1.4z"/>
<path fill="#585858" d="M434 354.3l-1 0.3-1 0-1-0.3-2.2-1.3-0.7-1-0.3-1-0.3-3 0.3-4 0.3-1 0.7-1 1.2-0.5 2-0.4 2 0.1 1 0.3 1.3 0.5 0.7 1 0.3 1 0.3 4-0.1 2-0.5 2-1 1.2z"/>
<path fill="#5c5c5c" d="M434 354.2l-1 0.3-1 0-2-0.9-1-0.6-0.8-1-0.3-1-0.3-3 0.3-4 0.3-1 0.8-1 1-0.4 2-0.4 2 0.1 1 0.2 1.1 0.5 0.8 1 0.3 1 0.3 3-0.3 4-0.3 1-0.8 1z"/>
<path fill="#606060" d="M433 354.3l-1 0-2-0.8-0.9-0.5-0.8-1-0.3-0.9-0.3-2.1 0.1-4 0.5-2 0.8-1 1.9-0.6 1-0.2 2 0.1 2 0.7 1 1.6 0.4 2.4-0.1 4-0.5 2-0.8 1-1 0.6z"/>
<path fill="#646464" d="M433 354.2l-1 0-1-0.3-1.7-0.9-0.8-1-0.4-1-0.3-2 0.1-4 0.6-2 0.8-1 2.7-0.7 2 0.1 1.8 0.6 0.8 1 0.4 0.9 0.3 2.1-0.1 4-0.6 2-0.8 1-0.8 0.5z"/>
<path fill="#686868" d="M433 354l-2-0.2-1.6-0.8-0.8-1-0.4-1-0.3-2 0.1-4 0.6-2 0.8-1 2.6-0.7 2 0.2 1.7 0.5 0.8 1 0.4 1 0.3 2-0.1 4-0.6 2-0.8 1-0.7 0.4z"/>
<path fill="#6c6c6c" d="M435 353.3l-2 0.6-1 0-2-0.7-1.3-1.2-0.6-2-0.1-4 0.3-2 0.4-1 0.9-1 2.4-0.6 2 0.1 1.5 0.5 0.9 1 0.4 1 0.3 2-0.1 4-0.6 2-0.9 1z"/>
<path fill="#707070" d="M435 353.2l-2 0.6-1 0-2-0.7-1.2-1.1-0.6-2-0.1-4 0.3-2 0.4-1 1-1 2.2-0.5 2 0.1 1.3 0.4 0.9 1 0.5 1 0.3 2-0.1 4-0.7 2z"/>
<path fill="#747474" d="M435 353.1l-2 0.6-1 0-2-0.7-1-1-0.7-2-0.1-4 0.4-2 0.4-1 0.9-1 2.1-0.5 2 0.2 1.1 0.3 1 1 0.7 2 0.1 4-0.4 2-0.4 1z"/>
<path fill="#787878" d="M434 353.4l-1 0.2-1 0-1.8-0.6-1.1-1-0.4-1-0.4-3 0.2-3 0.6-2 1.1-1 1.8-0.4 1 0 2 0.4 1 1 0.4 1 0.4 3 0 2-0.4 2-0.4 1-1 1z"/>
<path fill="#7c7c7c" d="M434 353.3l-1 0.2-1 0-1.6-0.5-1.2-1-0.4-1-0.4-3 0.2-3 0.6-2 0.8-0.8 1-0.4 2-0.2 1.7 0.4 1.2 1 0.4 1 0.4 3 0 2-0.4 2-0.4 1-0.9 0.8z"/>
<path fill="#808080" d="M434 353.2l-1 0.3-1-0.1-1-0.2-1-0.6-0.6-0.6-0.5-1-0.4-3 0.2-3 0.7-2 0.6-0.6 1-0.5 2-0.2 1.5 0.3 1.2 1 0.5 1 0.4 3-0.2 3-0.7 2-0.7 0.7z"/>
<path fill="#848484" d="M434 353.1l-1 0.3-1-0.1-1-0.2-1.5-1.1-0.4-1-0.5-3 0.2-3 0.7-2 1.5-1.1 2-0.1 1.3 0.2 1.3 1 0.4 1 0.5 3-0.2 3-0.7 2-0.6 0.6z"/>
<path fill="#888888" d="M434 353l-1 0.3-1 0-1-0.3-1.3-1-0.5-1-0.5-3 0.2-3 0.8-2 1.3-1 2-0.2 1.1 0.2 1.3 1 0.5 1 0.5 3-0.2 3-0.8 2z"/>
<path fill="#8c8c8c" d="M433 353.2l-1 0-1-0.3-1.2-0.9-0.5-1-0.4-2 0-3 0.4-2 0.7-1.2 1-0.7 1-0.2 2 0.2 1 0.6 0.8 1.3 0.4 2 0 3-0.4 2-0.8 1.3-1 0.6z"/>
<path fill="#909090" d="M433 353.1l-1 0-1-0.3-1.1-0.8-0.5-1-0.4-2 0-3 0.4-2 0.6-1.1 1-0.7 1-0.2 2 0.2 1 0.6 0.7 1.2 0.4 2 0 3-0.4 2-0.7 1.2-1 0.6z"/>
<path fill="#949494" d="M435 352l-1 0.7-1 0.3-1 0-1-0.3-0.9-0.7-0.6-1-0.3-1-0.2-2 0.2-3 0.3-1 0.6-1 0.9-0.7 1-0.3 1 0 1 0.3 1 0.7 0.6 1 0.4 2 0 3-0.4 2z"/>
<path fill="#989898" d="M434 352.6l-1 0.3-1 0-1-0.3-1-0.9-0.7-1.7-0.2-3 0.2-2 0.3-1 0.6-1 0.8-0.6 1-0.3 1 0 1 0.3 0.9 0.6 0.6 1 0.3 1 0.2 2-0.2 3-0.3 1-0.5 0.9z"/>
<path fill="#9c9c9c" d="M434 352.5l-1 0.3-1 0-1-0.3-0.7-0.5-0.3-0.5-0.6-1.5-0.2-2 0.2-3 0.9-2 0.7-0.5 1-0.3 1 0 1 0.3 0.8 0.5 0.6 1 0.3 1 0.2 2-0.2 3-0.7 1.7z"/>
<path fill="#a0a0a0" d="M434 352.5l-1 0.3-1-0.1-1-0.3-0.5-0.4-0.5-0.7-0.5-1.3-0.3-3 0.3-2 1-2 0.5-0.4 1-0.3 1-0.1 1 0.3 0.6 0.5 0.7 1 0.3 1 0.2 2-0.2 3-0.6 1.5z"/>
<path fill="#a4a4a4" d="M434 352.4l-1 0.3-1 0-1-0.4-1-1.2-0.4-1.1-0.3-2 0.3-3 1-2 1.4-0.7 1 0 1.5 0.7 0.7 1 0.3 1 0.3 2-0.3 3-0.5 1.3z"/>
<path fill="#a8a8a8" d="M434 352.3l-1 0.3-1 0-1-0.4-0.9-1.2-0.4-1-0.3-2 0.3-3 0.4-1 0.6-1 1.3-0.6 1 0 1.4 0.6 0.7 1 0.4 1 0.2 2-0.2 3-0.5 1.1z"/>
<path fill="#acacac" d="M434 352.2l-1 0.3-1 0-1-0.4-0.9-1.1-0.4-1-0.2-2 0.2-3 0.4-1 0.8-1 1.1-0.5 1 0 1.2 0.5 0.8 1 0.4 1 0.2 2-0.2 3-0.4 1z"/>
<path fill="#b0b0b0" d="M434 352.1l-1 0.4-1-0.1-1-0.4-0.8-1-0.4-1-0.3-2 0.3-3 0.4-1 0.8-1 1-0.4 1-0.1 1.1 0.5 0.8 1 0.4 1 0.2 2 0 2-0.6 2z"/>
<path fill="#b4b4b4" d="M433 352.4l-1 0-1-0.5-0.7-0.9-0.6-2-0.1-2 0.3-2 0.4-1 0.7-0.9 1-0.5 1 0 1 0.4 0.8 1 0.6 2 0.1 2-0.3 2-0.4 1-0.8 1z"/>
<path fill="#b8b8b8" d="M433 352.3l-1 0-1-0.5-0.6-0.8-0.6-2-0.1-2 0.3-2 0.4-1 0.6-0.8 1-0.5 1 0 1 0.4 0.7 0.9 0.6 2 0.1 2-0.3 2-0.4 1-0.7 0.9z"/>
<path fill="#bcbcbc" d="M433 352.2l-1 0-1-0.6-0.5-0.6-0.6-2-0.1-2 0.3-2 0.4-1 0.5-0.6 1-0.6 1 0 1 0.5 0.6 0.7 0.6 2 0.1 2-0.3 2-0.4 1-0.6 0.7z"/>
<path fill="#c0c0c0" d="M433 352.1l-1 0-1-0.6-0.4-0.5-0.6-2-0.1-2 0.3-2 0.8-1.5 1-0.6 1 0 1 0.5 0.5 0.6 0.7 2 0 2-0.3 2-0.4 1-0.5 0.6z"/>
<path fill="#c4c4c4" d="M433 352.1l-1-0.1-1-0.6-0.7-1.4-0.3-1.3-0.1-1.7 0.4-2 0.7-1.4 1-0.6 1-0.1 1 0.6 0.4 0.5 0.7 2 0.1 2-0.4 2-0.4 1-0.4 0.5z"/>
<path fill="#c8c8c8" d="M434 351.4l-1 0.6-1-0.1-1.2-0.9-0.7-2-0.1-2 0.4-2 0.6-1.3 1-0.6 1-0.1 1 0.6 0.3 0.4 0.7 2 0 3-0.7 2z"/>
<path fill="#cccccc" d="M434 351.3l-1 0.5-1 0-1-0.6-0.5-1.2-0.4-2 0.2-2 0.6-2 1.1-0.8 1 0 1 0.5 0.9 2.3 0.1 2-0.1 1z"/>
<path fill="#d0d0d0" d="M434 351.2l-1 0.5-1 0-1-0.6-0.4-1.1-0.4-2 0.2-2 0.6-2 1-0.7 1 0 1 0.5 0.8 2.2 0.1 2-0.4 2z"/>
<path fill="#d4d4d4" d="M434 351.1l-1 0.5-1-0.1-1-0.6-0.3-0.9-0.4-2 0.2-2 0.5-1.9 1-0.6 1-0.1 1 0.5 0.4 1.1 0.4 2 0 1-0.4 2z"/>
<path fill="#d8d8d8" d="M433 351.4l-1 0-0.7-0.4-0.3-0.4-0.4-1.6-0.1-2 0.3-2 0.2-0.6 1-0.8 1 0 1 0.5 0.7 2.9-0.2 2-0.5 1.9z"/>
<path fill="#dcdcdc" d="M433 351.3l-1 0-0.4-0.3-0.6-0.6-0.3-1.4-0.1-2 0.3-2 0.7-1 0.4-0.3 1 0 0.6 0.3 0.4 0.4 0.4 1.6 0.1 2-0.3 2-0.2 0.6z"/>
<path fill="#e0e0e0" d="M433 351.2l-1.2-0.2-0.8-0.9-0.2-1.1-0.1-2 0.3-2 1-1.1 1-0.1 0.3 0.2 0.7 0.7 0.3 1.3 0.1 2-0.3 2-0.8 1z"/>
<path fill="#e4e4e4" d="M433 351l-1 0-0.8-1-0.3-1-0.1-2 0.2-1.7 1-1.3 1 0 1 1 0.2 1 0.1 2-0.3 2z"/>
<path fill="#e8e8e8" d="M433 350.7l-1-0.1-0.5-0.6-0.5-1 0-3 1-1.6 1-0.1 0.6 0.7 0.5 1 0.1 2-0.2 1.3z"/>
<path fill="#ececec" d="M433 350.3l-1 0-0.2-0.3-0.5-1-0.2-1 0.2-2 0.7-1.3 1 0 0.8 1.3 0.2 0.6 0 1.4-0.2 1z"/>
<path fill="#f0f0f0" d="M433 349.9l-1-0.1-0.7-1.8 0-1 0.7-1.8 1-0.1 0.5 0.9 0.3 1 0 1-0.3 1z"/>
<path fill="#f4f4f4" d="M433 349.3l-1-0.1-0.1-0.2-0.3-1 0-1 0.4-1.2 1-0.1 0.5 1.3 0 1z"/>
<path fill="#f8f8f8" d="M433 348.6l-1-0.3 0-1.6 1-0.3 0.2 0.6z"/>
</g>
<g clip-path="url(#cwd)"><rect x="418" y="330" width="29" height="39" fill="#000"/>
<path fill="#020202" d="M447 369l-29 0 0-39 29 0z"/>
<path fill="#040404" d="M447 369l-29 0 0-28 0.6-0.5 3-0.3 2-5.4 1.1-2.6 1.1-2.2 13.5 0 1.1 2.2 1 2.3 2.1 5.7 3 0.3 0.5 0.4z"/>
<path fill="#060606" d="M445.5 369l-26.1 0-0.5-1.2-0.9-2.5 0-14.6 0.8-1.4 1.3-3.5 1.3-2.3 0.7-1 1.1-1.3 0.8-0.7 0.5-0.3 1.8-3.7 1.1-1.7 0.8-1.3 1.6-1.5 0.7-0.6 0.7-0.3 0.8-0.2 0.8-0.1 1.2 0.3 1.2 0.8 1.6 1.5 0.8 1.1 1.1 1.7 1.9 4 0.5 0.3 1.2 1.3 1.1 1.2 0.8 1.2 0.9 1.8 1.2 3.2 0.7 1.3 0 15.1-1.3 3.4z"/>
<path fill="#080808" d="M438.8 369l-12.7 0-1.8-2.8-1.6-3.2-1.1-2.8-2.4-6.7 0.6-0.3 0.2-0.2 0.3-0.5 0.4-0.7 0.2-1 0.3-2.6 0.3-1.4 0.5-1.6 0.8-1.4 1.1-1.6 1.6-1.7 0-0.3 1.2-2.2 0.9-1.5 0.9-1.2 0.7-0.8 1-0.9 1-0.5 0.8-0.2 1.2 0 0.8 0.3 0.8 0.4 0.7 0.6 0.7 0.7 1.5 1.9 1.4 2.4 0.5 1 0 0.3 1 1 1 1.3 1.3 2 0.5 1.2 0.3 1.2 0.5 3.6 0.2 1 0.3 0.7 0.4 0.5 0.2 0.2 0.6 0.3-2.5 7-1.2 3-1 2-1 1.7-1.2 1.8z"/>
<path fill="#0a0a0a" d="M433.8 368.5l-0.8 0.2-1-0.1-1-0.2-0.8-0.3-0.7-0.4-1-0.8-1.7-1.8-1.6-2.1-1.2-2.2-0.9-2.3-1.7-5 0.7-0.3 0.2-0.4 0.1-1-0.1-2.8 0.1-1.5 0.4-1.7 0.8-1.8 1-1.5 1.2-1.4 0-0.6 0.3-0.3 1.4-2.4 1.3-1.6 0.7-0.8 1-0.8 1-0.4 1-0.2 1 0.1 0.7 0.3 1 0.7 1 0.9 1 1.2 1 1.6 1 1.7 0 0.5 1.1 1.2 1.1 1.6 0.8 1.7 0.5 1.7 0.1 1.6-0.1 3 0.1 1 0.2 0.4 0.7 0.3-2.3 6.5-0.8 1.8-1.1 1.8-1.3 1.7-1.4 1.5-1.6 1.1z"/>
<path fill="#0c0c0c" d="M432.8 366l-1.6-0.2-1.4-0.6-1.6-1.1-1.4-1.6-1.1-1.5-1-2-0.8-2-1.2-3.5 0.8-0.3 0-1-0.4-3.4 0-1.3 0.2-1.3 0.4-1 0.5-1.2 0.7-1 0.9-1.2 0.1-1.3 0.1-0.2 0.5-0.1 1.6-2.4 0.9-1.1 0.8-0.7 1.2-0.9 0.8-0.2 0.7-0.1 0.7 0.1 0.8 0.2 0.8 0.4 0.7 0.6 0.7 0.7 1 1.2 1.4 2.2 0.4 0.1 0.1 0.2 0.1 1.2 0.9 1.1 0.8 1.2 0.5 1.2 0.4 1.3 0.2 1.3 0 1.2-0.4 3.2 0 1 0.8 0.3-1.3 3.7-0.7 1.8-0.8 1.8-1.1 1.5-1.3 1.5-1.4 1.2-1.6 0.7z"/>
<path fill="#0e0e0e" d="M433 364.3l-1.5-0.1-1.5-0.6-1.5-1-1.3-1.2-1-1.4-0.9-1.8-0.7-1.7-0.9-3 0.7-0.3-0.7-4-0.1-1.2 0.2-1.2 0.2-1 0.4-1 0.5-1 0.9-1.3 0.1-2 0.1-0.1 0.9-0.2 1.5-2.2 0.8-1 0.8-0.7 1.2-0.7 1.3-0.2 1.3 0.2 0.7 0.3 0.7 0.6 1.6 1.5 1.4 2.2 0.8 0.2 0.1 0.1 0.1 1.8 1.2 1.7 0.7 1.8 0.3 1.2 0.1 1.2-0.2 1.8-0.6 3.2 0.7 0.3-1 3.3-1 2.2-1.2 2-0.9 1-0.8 0.7-1 0.7-0.7 0.4-1 0.3z"/>
<path fill="#101010" d="M433.2 363l-1 0-1-0.1-0.7-0.3-1-0.5-0.7-0.5-1-0.8-1.3-1.8-0.6-1-0.5-1.2-1-3.3 0.7-0.3-0.7-2.7-0.3-2 0.1-1.5 0.2-1.2 0.5-1.3 0.9-1.5 0.2-1.2 0-1.3 1-0.1 1.6-2.2 0.9-1 0.7-0.6 1-0.5 1.3-0.3 1.3 0.3 1.2 0.6 0.8 0.7 0.7 0.8 0.8 1 0.7 1.2 1 0.1 0 1.3 0.2 0.4 0 0.7 0.9 1.3 0.5 1.3 0.3 1.3 0.1 1.2-0.2 2-0.8 3.2 0.7 0.3-0.8 2.7-0.9 2-1.1 1.8-1.4 1.5-1.5 1-1 0.3z"/>
<path fill="#121212" d="M433.5 362l-0.7 0.1-1-0.1-0.8-0.1-1-0.4-1-0.7-0.8-0.6-0.7-0.8-0.6-0.9-1.1-2-0.9-3 0.8-0.3-0.9-2.7-0.2-1-0.1-1.3 0-1 0.2-1 0.4-1.4 0.7-1.2 0.2-1.6 1-0.9 1.2-0.6-0.8-0.3 1.1-1.5 1-1.1 0.7-0.6 0.8-0.4 0.8-0.3 0.7-0.1 0.7 0.1 0.8 0.2 0.8 0.5 0.7 0.5 1.1 1.3 1.1 1.4-0.2 0.2-0.6 0.1 1.6 0.9 0.5 0.5 0.1 0.3 0.1 1.2 0.7 1.4 0.5 1.2 0.2 1.8 0 1.2-0.2 1.2-1 3 0.8 0.3-0.7 2.3-0.7 1.7-1 1.7-1.3 1.3-1.5 1zM426.6 353.5l-0.6-0.5-0.1 0-0.1 0.2 0.2 0.4zM439.1 353.5l0.1-0.3-0.2-0.1-0.4 0.4z"/>
<path fill="#141414" d="M433.5 361.3l-0.7 0-1 0-0.8-0.2-1-0.4-1.5-1.1-0.7-0.8-0.7-0.8-1-2-0.8-2.5 0.5-0.1 0.2 0.2 0.7-0.1-0.8-0.7-0.1-0.3-0.7-2.3-0.3-2 0.1-1.7 0.4-1.3 0.5-1.1 0.2-1.9 0.8-0.8 1.6-0.9-0.8-0.3 1.2-1.5 1-1 1.2-0.8 0.8-0.2 0.7-0.1 0.7 0 0.8 0.3 1.2 0.8 1.2 1.1 1.1 1.4-0.8 0.3 1.3 0.7 1 0.9 0.2 1.8 0.4 0.9 0.5 1.2 0.2 1.8-0.1 1.7-0.4 1.5-0.6 1.8-0.8 0.7 0.6 0.1 0.2-0.3 0.6 0.2-0.6 2-0.6 1.5-1.1 1.7-1.3 1.2-1.2 0.8z"/>
<path fill="#161616" d="M434 360.5l-0.8 0.2-1 0-1.4-0.3-1-0.5-0.8-0.5-0.8-0.7-0.5-0.7-1.1-1.8-0.7-2-0.1-0.4 1-0.3-0.5-0.5-0.3-0.5-0.2-1.1-0.5-1.6-0.2-1.3 0-1.7 0.3-1 0.4-1.1 0.1-1.7 0.2-0.8 0.7-0.7 1.8-1-0.8-0.3 1-1.2 1-1 1.2-0.8 1.2-0.3 0.8 0 0.8 0.2 0.7 0.3 0.7 0.6 1 0.9 1.1 1.3-0.8 0.3 1.7 1 0.8 0.7 0.2 2.3 0.6 1.5 0.2 1.5-0.1 2-0.7 2.2-0.1 0.8-0.3 0.5-0.5 0.5 0.7 0.2 0.2-0.3 0.2 0.1-0.4 1.5-0.5 1.2-0.9 1.6-1.1 1.3-1.3 0.9zM425.8 353.7l-0.1-0.2 0.1 0z"/>
<path fill="#181818" d="M433.8 360l-0.8 0.2-1 0-1.5-0.4-0.7-0.4-0.8-0.6-1.3-1.3-0.8-1.5-0.8-2 0-0.2 0.8-0.3-0.7-0.7-0.2-0.6-0.7-3.7 0.1-1.7 0.4-1.5 0.2-2.3 0.2-0.8 0.8-0.7 1.7-1-0.7-0.3 0.8-1 1-0.9 1.2-0.8 1.2-0.4 0.8 0 0.8 0.2 1.2 0.7 1 0.9 1.1 1.3-0.7 0.3 1.8 1 0.7 0.7 0.2 0.8 0.1 2 0.4 1.2 0.2 1.3-0.1 1.5-0.5 1.9-0.1 1.3-0.2 0.6-0.7 0.7 0.8 0.3-0.8 2.2-0.8 1.5-1.2 1.2-1.2 0.9z"/>
<path fill="#1a1a1a" d="M434 359.5l-0.8 0.2-1 0-1.4-0.3-0.8-0.4-0.8-0.5-1.2-1.2-0.9-1.5-0.8-2 0.8-0.3-0.8-0.7-0.3-0.8-0.4-3.5 0-1.3 0.2-1.2 0.2-2.8 0.3-1 0.8-0.7 1.8-1-0.7-0.3 0.8-1 0.8-0.7 1.2-0.8 1.2-0.4 0.8 0.1 0.8 0.1 1.2 0.7 1 0.9 0.9 1.1-0.7 0.3 1.8 1 0.8 0.7 0.2 0.6 0.2 2.9 0.3 1.5 0 1.6-0.3 1.3-0.1 1.9-0.3 0.8-0.8 0.7 0.8 0.3-0.6 1.7-0.9 1.5-0.8 1-1.3 1z"/>
<path fill="#1c1c1c" d="M433.2 359.3l-1.4 0-0.8-0.2-0.8-0.3-1.2-0.9-1.2-1.4-0.7-1.3-0.5-1.4 0.6-0.3-0.8-0.7-0.4-1.2-0.3-3.6 0.3-4.5 0.4-1.3 0.8-0.7 1.9-1-0.8-0.3 0.9-1 0.8-0.7 1.2-0.7 1.3-0.3 1.3 0.3 1.2 0.6 1 0.9 0.8 0.9-0.8 0.3 1.8 0.9 0.4 0.4 0.5 0.4 0.3 0.9 0.4 4.4-0.4 4.3-0.3 1-0.8 0.7 0.6 0.3-0.7 2-0.8 1.2-1.2 1.2-1.3 0.7z"/>
<path fill="#1e1e1e" d="M433.8 358.8l-1.6 0.2-1.2-0.3-1.2-0.6-1.3-1.1-0.9-1.2-0.6-1.3-0.2-0.7 0.5-0.3-0.6-0.5-0.3-0.5-0.3-1-0.2-1.5-0.1-2.5 0.2-3.5 0.2-0.8 0.3-1 0.5-0.4 0.5-0.4 1.8-0.9-0.8-0.3 0.7-0.8 0.8-0.7 1-0.6 1.2-0.4 0.8 0.1 0.8 0.1 0.7 0.4 0.7 0.5 1.4 1.4-0.8 0.3 1.6 0.7 0.7 0.6 0.5 0.4 0.4 1.3 0.2 4-0.1 3-0.1 1.1-0.4 1.2-0.8 0.7 0.5 0.3-0.1 0.4-0.9 1.8-0.9 1.2-1.2 1-0.7 0.4z"/>
<path fill="#202020" d="M433.5 358.6l-0.7 0-0.8 0-1.2-0.3-1.3-0.7-1-1-0.8-1.1-0.6-1.3-0.1-0.4 0.5-0.3-0.7-0.6-0.4-0.7-0.3-1-0.2-1.7 0-2.3 0.1-2.5 0.2-1.2 0.4-1.3 0.5-0.4 0.7-0.5 1.8-0.8-1-0.3 1.4-1.3 1.2-0.7 1-0.3 0.8 0 1 0.3 0.8 0.4 1 0.9 0.7 0.7-1 0.3 1.7 0.8 1.1 0.7 0.2 0.2 0.3 1 0.2 1.3 0.2 3.5-0.2 3-0.2 0.8-0.3 1-0.9 0.7 0.5 0.3-0.2 0.7-0.8 1.5-1.1 1.2-1.2 0.9z"/>
<path fill="#222222" d="M433.5 358.3l-0.7 0.1-0.8-0.1-1.2-0.3-1.3-0.7-1-1-0.7-1.2-0.6-1.3 0.4-0.3-0.8-0.7-0.3-0.8-0.3-1-0.2-1.8 0-2.2 0.1-2 0.2-1.5 0.5-1.3 0.4-0.4 0.6-0.4 2-0.9-1-0.3 1.2-1.1 1-0.7 1.2-0.3 1 0 0.8 0.3 0.8 0.4 1 0.8 0.5 0.6-1 0.3 1.8 0.7 1 0.8 0.2 0.2 0.4 1 0.3 1.5 0.1 3.1-0.1 2.7-0.2 1-0.5 1.3-0.8 0.7 0.4 0.3-0.2 0.7-0.7 1.3-1 1.1-1.2 0.9z"/>
<path fill="#242424" d="M433.2 358l-1.2 0.1-1.2-0.4-1.3-0.7-1-1.1-0.6-0.9-0.6-1.2 0.4-0.3-0.8-0.7-0.4-1-0.3-1.6-0.1-1.7 0-2 0.1-1.7 0.2-1.3 0.5-1.3 0.5-0.4 0.6-0.5 2.1-0.8-1.2-0.3 1.3-1.2 1.3-0.6 1-0.2 1.3 0.2 1.2 0.7 1.2 1.1-1.2 0.3 2 0.8 0.7 0.5 0.5 0.4 0.5 1.3 0.3 2.4 0 3.2-0.3 2.1-0.5 1.6-0.8 0.7 0.4 0.3-0.3 0.7-0.8 1.3-0.9 1-1.3 0.9z"/>
<path fill="#262626" d="M433.2 357.8l-1.2 0-1.2-0.3-1.3-0.8-1-1.1-0.6-0.8-0.4-1 0.4-0.3-0.9-0.7-0.4-1-0.3-1.8-0.1-1.5 0.1-3.5 0.2-1.5 0.5-1.3 0.5-0.4 0.7-0.5 2.1-0.8-1.3-0.3 1.2-1 1-0.6 1.3-0.2 1.3 0.2 1 0.5 1.3 1.1-1.3 0.3 2.2 0.9 0.6 0.4 0.5 0.4 0.5 1.6 0.3 2.7 0 3-0.3 2-0.5 1.3-0.9 0.7 0.4 0.3-0.4 0.8-0.7 1.2-1 1-1 0.6z"/>
<path fill="#282828" d="M433.5 357.5l-1.3 0.1-1.2-0.3-1-0.5-1-0.8-0.8-1-0.6-1.2 0.4-0.3-0.7-0.5-0.2-0.2-0.2-0.6-0.3-1-0.3-1.7 0-2.3 0-2 0.3-1.7 0.5-1.3 0.4-0.4 0.7-0.5 1.3-0.5 1.2-0.3-1.6-0.3 0.9-0.7 0.8-0.5 0.7-0.4 0.7-0.1 1.3 0.1 1.3 0.6 1.2 1-1.6 0.3 2.4 0.8 0.7 0.5 0.5 0.4 0.5 1.3 0.3 2.3 0 2-0.1 2.2-0.2 1.5-0.3 0.7-0.2 0.6-0.9 0.7 0.4 0.3-0.5 1-0.8 1-0.4 0.5-0.8 0.6-0.8 0.4z"/>
<path fill="#2e2e2e" d="M433.8 357l-1 0.2-1.3-0.1-1.3-0.6-1-0.7-0.6-0.8-0.6-1-0.1-0.2 0.3-0.3-0.7-0.5-0.4-0.5-0.5-1.5-0.2-1.8 0-2 0.1-1.7 0.1-1.5 0.5-1.5 0.4-0.5 1-0.7 1.3-0.4 1.4-0.4-1.8-0.3 1.4-1 0.7-0.3 0.7-0.2 1.3 0.2 1 0.4 1.2 0.9-1.8 0.3 2.3 0.7 0.6 0.2 0.8 0.6 0.2 0.2 0.6 1.3 0.2 2 0 4-0.2 2-0.3 0.7-0.3 0.6-0.2 0.2-0.7 0.5 0.3 0.3-0.6 1-0.6 0.8-1 0.9z"/>
<path fill="#343434" d="M433.5 356.6l-1.3 0.1-1-0.2-1-0.5-0.8-0.8-1-1.2-0.1-0.2 0.1-0.3-0.7-0.5-0.4-0.5-0.4-1-0.3-2-0.1-2.3 0.1-2 0.3-1.7 0.5-1.3 0.6-0.4 1.2-0.7 2-0.5 1.1-0.1-1.5-0.1-1.1-0.2 1.3-0.8 1.2-0.3 0.8 0 0.8 0.2 0.7 0.3 0.9 0.6-0.9 0.2-1.7 0.1 1.2 0.2 2 0.5 1 0.5 0.5 0.4 0.3 0.4 0.4 1 0.3 2 0.1 2-0.1 2-0.3 2-0.3 0.7-0.4 0.7-0.8 0.6 0.1 0.3-0.1 0.2-1 1.2-0.9 0.9z"/>
<path fill="#3a3a3a" d="M435 340.3l-2.5 0.2-2.4-0.3 1.1-0.6 1.3-0.3 1.3 0.2 0.7 0.4zM433.8 356l-0.8 0.2-1 0-1-0.3-0.8-0.4-1-1-0.5-0.7-0.1-0.3-1-0.7-0.5-1.3-0.3-2-0.1-2 0.1-2 0.3-2 0.5-1.3 0.3-0.2 0.9-0.6 1.4-0.5 1.6-0.2 1-0.1 1.4 0.2 1.3 0.3 1 0.4 0.7 0.5 0.3 0.3 0.5 1.2 0.3 2 0.1 2-0.1 2-0.3 2.1-0.5 1.2-1 0.7-0.1 0.3-0.7 1-0.9 0.8z"/>
<path fill="#404040" d="M434.5 340.3l-2 0.1-2.1-0.2 1.1-0.5 1-0.1 1.3 0.2 0.9 0.4zM433.2 355.8l-0.7 0-1-0.1-0.7-0.3-1-0.6-0.6-0.7-0.4-0.6-0.6-0.3-0.4-0.4-0.6-1.3-0.2-1.2-0.2-2.1 0.1-2.2 0.2-1.8 0.3-1.2 0.4-0.8 0.6-0.4 1.1-0.6 1.5-0.3 1.5-0.1 1.5 0.1 1.2 0.2 1.3 0.5 0.6 0.4 0.4 0.5 0.4 1 0.2 1.3 0.2 2.2-0.1 2.2-0.3 2-0.3 1-0.3 0.6-0.5 0.4-0.5 0.3-0.5 0.7-0.8 0.8-0.8 0.4z"/>
<path fill="#464646" d="M434.2 340.3l-1.7 0.1-1.7-0.2 1-0.3 0.7-0.1 1 0.1zM432.5 355.5l-1-0.1-1-0.5-0.7-0.6-0.7-0.8-0.6-0.3-0.5-0.4-0.6-1.3-0.2-1-0.2-1.5 0-2 0.1-1.5 0.2-1.5 0.2-0.8 0.5-1 0.8-0.5 1.2-0.5 1.2-0.3 1.6-0.1 1.2 0.1 1.4 0.3 1.1 0.5 0.6 0.5 0.6 1.3 0.2 1 0.2 1.5 0 2-0.1 1.5-0.2 1.5-0.2 0.8-0.5 1-0.6 0.4-0.5 0.3-0.8 0.9-0.7 0.6-1 0.4z"/>
<path fill="#4c4c4c" d="M433.8 340.3l-1.3 0-1.3-0.1 0.6-0.1 0.7-0.1 0.7 0.1 0.7 0.1zM433.5 355.1l-0.7 0.1-0.8 0-0.8-0.2-0.7-0.4-1.2-1.1-0.5-0.3-0.7-0.4-0.5-1-0.2-0.8-0.2-1.5-0.1-2.3 0.1-2 0.3-1.7 0.6-1.3 0.3-0.2 0.9-0.5 1.5-0.4 1.2-0.2 1.5 0.1 1.3 0.2 1 0.3 0.5 0.3 0.7 0.4 0.5 1 0.2 0.8 0.2 1.8 0.1 2.2-0.2 2-0.3 1.7-0.5 1-0.2 0.3-1 0.5-1.3 1.1z"/>
<path fill="#525252" d="M433.2 340.3l-1.4-0.1 0.7 0 0.8 0zM433.5 354.8l-0.7 0.1-0.8 0-1.2-0.5-1.3-0.9-0.5-0.3-0.7-0.4-0.5-1-0.2-0.8-0.3-1.5 0-2.3 0.1-2 0.3-1.7 0.5-1.2 0.4-0.3 0.9-0.5 1.3-0.3 1.2-0.2 1.2 0 1.3 0.2 1.3 0.4 1 0.6 0.5 1 0.2 0.8 0.3 1.5 0 2.3-0.1 2-0.3 1.7-0.6 1.3-0.7 0.4-0.5 0.3-1.1 0.8z"/>
<path fill="#585858" d="M433.5 354.5l-1 0.2-1-0.2-0.7-0.3-1-0.7-0.8-0.4-0.5-0.3-0.2-0.3-0.5-1-0.1-0.5-0.2-1.5-0.1-2.3 0.1-2 0.3-1.7 0.5-1 0.5-0.5 0.7-0.4 1.3-0.4 1.2-0.1 1.2 0 1.2 0.1 1.1 0.4 1.1 0.6 0.6 1 0.2 0.8 0.2 1.5 0.1 2.3-0.1 2-0.3 1.7-0.4 0.7-0.4 0.7-0.6 0.3-0.6 0.3-1.1 0.7z"/>
<path fill="#5e5e5e" d="M433.5 354.3l-0.7 0.1-1-0.1-0.8-0.2-0.9-0.6-1.1-0.5-0.3-0.2-0.5-0.8-0.2-0.5-0.2-1-0.2-1.7 0-2 0.1-1.6 0.3-1.7 0.7-1.3 0.3-0.2 1.1-0.5 0.9-0.2 1.2-0.2 1.3 0.1 1.3 0.2 0.9 0.4 0.7 0.4 0.2 0.3 0.5 1 0.2 1 0.2 1.7 0 2-0.1 1.8-0.3 1.5-0.5 1-0.4 0.4z"/>
<path fill="#646464" d="M433.5 354.1l-0.7 0.1-1-0.1-2.6-1.1-0.3-0.2-0.4-0.6-0.5-1.2-0.2-1.5-0.1-2 0.1-2 0.2-1.5 0.3-0.8 0.6-1 0.8-0.4 0.8-0.3 1.3-0.2 1-0.1 1 0.1 1.2 0.3 0.5 0.2 0.7 0.4 0.5 0.8 0.3 0.8 0.3 1.7 0.1 2.3-0.1 2.2-0.4 1.5-0.7 1.3-0.7 0.4z"/>
<path fill="#6a6a6a" d="M432.8 354l-0.8 0-0.5-0.2-0.7-0.3-1-0.3-0.7-0.4-0.5-0.8-0.3-0.8-0.3-1.4-0.1-1.6 0-1.7 0.1-1.5 0.4-1.5 0.4-0.8 0.3-0.5 0.9-0.4 1-0.3 1.2-0.2 1.3 0.1 1 0.2 0.7 0.2 0.8 0.4 0.5 0.8 0.3 0.8 0.3 1.4 0.1 1.6 0 1.7-0.1 1.5-0.4 1.5-0.3 0.7-0.4 0.6-0.5 0.3-1.2 0.4-0.8 0.4z"/>
<path fill="#707070" d="M433.2 353.8l-0.7 0-0.7 0-0.4-0.3-1.2-0.3-0.9-0.4-0.8-1.3-0.3-1.5-0.2-1.8 0.1-1.7 0.1-1.5 0.3-1.5 0.8-1.3 0.9-0.4 1-0.3 1-0.1 1.3 0.1 1.3 0.2 0.7 0.4 0.5 0.4 0.5 0.9 0.4 1.6 0.2 1.8-0.1 1.7-0.1 1.5-0.3 1.5-0.8 1.3-0.8 0.4-1.2 0.3z"/>
<path fill="#767676" d="M434.2 353.3l-1 0.2-1 0-1.7-0.3-0.9-0.4-0.9-1.3-0.3-1.5-0.2-1.5 0-2 0.2-1.7 0.3-1.3 0.5-0.7 0.4-0.6 0.9-0.4 1-0.2 1-0.1 1 0.1 0.9 0.2 1.1 0.4 0.9 1.3 0.3 1.5 0.2 1.8 0 2-0.3 1.7-0.2 1-0.9 1.3-0.5 0.2z"/>
<path fill="#7c7c7c" d="M434 353.3l-1 0.1-1 0-1-0.2-0.8-0.2-0.4-0.2-0.4-0.6-0.5-0.7-0.1-0.6-0.3-1.4-0.1-2 0.1-2 0.2-1.3 0.3-0.8 0.8-1.1 0.4-0.3 0.8-0.2 1-0.2 1 0 1 0.1 0.8 0.3 0.5 0.2 0.5 0.6 0.4 0.7 0.2 0.7 0.3 1.6 0 2-0.1 1.7-0.3 1.5-0.3 0.8-0.7 1z"/>
<path fill="#828282" d="M433.2 353.3l-1.7-0.1-0.7-0.2-0.7-0.2-0.5-0.6-0.5-0.7-0.5-2-0.1-1.7 0.1-1.8 0.2-1.5 0.3-1 0.5-0.7 0.5-0.6 0.7-0.2 0.7-0.2 1-0.1 1 0.1 0.7 0.1 0.8 0.3 0.5 0.6 0.5 0.7 0.4 1.7 0.2 1.8-0.1 1.8-0.1 1.2-0.4 1.5-0.5 0.7-0.5 0.6-0.8 0.3z"/>
<path fill="#888888" d="M434 353l-0.8 0.2-1 0-1-0.1-0.7-0.3-0.5-0.4-0.5-0.6-0.4-1-0.3-1.3-0.1-1.7 0.1-1.8 0.1-1.2 0.4-1.3 0.3-0.5 0.7-0.8 0.7-0.2 1-0.2 1 0 1 0.2 0.8 0.2 0.8 1 0.4 1 0.3 1.3 0.1 1.7-0.1 1.8-0.1 1.2-0.4 1.3-0.3 0.5-0.7 0.8z"/>
<path fill="#8e8e8e" d="M433.5 353l-1.5 0.1-1.4-0.3-0.6-0.6-0.5-0.7-0.5-1.7-0.1-1.6 0-1.7 0.1-1.3 0.3-1.2 0.3-0.8 0.6-0.7 0.4-0.3 0.9-0.2 1.5-0.1 0.8 0.1 0.7 0.2 0.6 0.6 0.5 0.7 0.5 1.7 0.1 1.6 0 1.7-0.1 1.3-0.3 1.3-0.3 0.7-0.7 0.8-0.3 0.2z"/>
<path fill="#949494" d="M433 353l-1 0-0.8-0.1-0.3-0.1-0.7-0.6-0.4-0.6-0.2-0.4-0.4-1-0.1-1.2-0.1-1.8 0.1-1.4 0.2-1.3 0.4-1 0.5-0.7 0.6-0.4 0.4-0.3 0.8-0.1 1 0 0.8 0.1 0.4 0.1 0.6 0.6 0.5 0.4 0.2 0.6 0.3 1 0.2 1.2 0.1 1.8-0.1 1.4-0.2 1.3-0.4 1-0.6 0.7-0.6 0.5z"/>
<path fill="#9a9a9a" d="M433.8 352.8l-1.6 0.1-0.7-0.1-0.5-0.2-0.5-0.4-0.6-0.7-0.5-1.5-0.2-1.2-0.1-1.6 0.2-1.7 0.2-1 0.4-1 0.3-0.5 0.8-0.6 0.5-0.2 0.7-0.1 0.8 0 0.8 0.1 0.4 0.3 0.6 0.4 0.4 0.6 0.5 1.5 0.2 1.2 0.1 1.6-0.1 1.4-0.2 1-0.4 1-0.2 0.6-0.6 0.5z"/>
<path fill="#a0a0a0" d="M433.2 352.8l-0.7 0-0.8 0-0.7-0.4-0.5-0.4-0.5-0.5-0.2-0.5-0.3-1-0.2-1.2 0-1.6 0.1-1.4 0.2-1 0.4-1.3 1-0.9 0.5-0.3 0.7-0.1 1.3 0.1 0.5 0.2 0.8 0.6 0.2 0.4 0.4 0.7 0.3 1.6 0.1 1.4 0 1.3-0.1 1-0.3 1.3-0.4 0.7-0.4 0.5-0.6 0.5z"/>
<path fill="#a6a6a6" d="M433.5 352.6l-0.7 0.1-1-0.1-0.8-0.4-0.5-0.4-0.3-0.3-0.3-0.7-0.3-1-0.1-1-0.1-1.3 0.1-1.3 0.2-1.2 0.3-1 0.2-0.5 0.6-0.6 0.7-0.4 0.7-0.2 0.6 0 0.7 0.1 0.5 0.3 0.7 0.5 0.4 0.8 0.5 1.8 0.1 1.2 0 1.5-0.1 1-0.3 1-0.5 1.2-0.6 0.4z"/>
<path fill="#acacac" d="M433.2 352.5l-0.7 0.1-0.7-0.1-0.6-0.3-0.6-0.4-0.4-0.5-0.3-0.8-0.3-1.7-0.1-1.6 0.1-1.2 0.2-1 0.3-1 0.3-0.5 0.6-0.6 0.5-0.3 0.7-0.2 0.8 0 0.5 0.2 0.7 0.4 0.5 0.5 0.6 1.3 0.2 1.4 0 2.6-0.1 1-0.3 1-0.4 0.7-0.2 0.3-0.5 0.4z"/>
<path fill="#b2b2b2" d="M433.5 352.3l-0.7 0.2-0.8-0.1-0.8-0.3-0.4-0.3-0.3-0.3-0.4-0.7-0.3-1-0.1-0.8-0.1-1.2 0.1-1.6 0.1-1 0.3-1 0.4-0.7 0.5-0.5 0.5-0.3 0.7-0.2 0.8 0 0.5 0.2 0.5 0.3 0.5 0.4 0.6 1.1 0.3 1.5 0.1 2.2-0.2 1.3-0.2 0.7-0.5 1.3-0.5 0.5z"/>
<path fill="#b8b8b8" d="M433.2 352.3l-0.4 0.1-0.8-0.1-0.8-0.3-0.4-0.4-0.4-0.6-0.3-0.8-0.3-1.4-0.1-1.3 0.1-1.3 0.1-1 0.3-0.9 0.4-0.8 0.4-0.3 0.5-0.3 0.7-0.3 0.8 0.1 0.5 0.1 0.5 0.3 0.5 0.4 0.5 1.3 0.3 1.4 0 2.3-0.1 1-0.2 0.8-0.5 1.2-0.7 0.5z"/>
<path fill="#bebebe" d="M432.5 352.3l-1-0.3-0.5-0.3-0.4-0.5-0.4-0.8-0.2-0.9-0.2-2 0.2-2 0.2-0.9 0.4-0.8 0.4-0.5 0.5-0.3 1-0.3 0.5 0.1 0.6 0.2 0.6 0.4 0.3 0.4 0.3 0.7 0.3 1 0.2 2-0.2 2-0.3 1-0.3 0.7-0.3 0.4-0.6 0.4-0.6 0.2z"/>
<path fill="#c4c4c4" d="M433.2 352l-0.4 0.1-0.8 0-0.5-0.2-0.5-0.4-0.7-1.3-0.3-1.4-0.1-1.3 0.1-1.3 0.1-0.7 0.3-1 0.6-1 0.5-0.4 0.7-0.2 1 0.1 0.9 0.5 0.7 1.3 0.3 1.4 0.1 2-0.3 1.8-0.3 0.8-0.5 0.7z"/>
<path fill="#cacaca" d="M432.8 352l-0.8-0.1-0.5-0.2-0.4-0.2-0.3-0.5-0.6-1.5-0.2-1.7 0.2-2.3 0.4-1.3 0.6-0.8 0.6-0.3 0.7-0.1 0.5 0 0.5 0.2 0.5 0.3 0.2 0.4 0.5 0.9 0.2 0.7 0.2 1.7-0.2 2-0.4 1.5-0.5 0.8-0.5 0.3z"/>
<path fill="#d0d0d0" d="M433.2 351.8l-0.4 0.1-0.6 0-0.9-0.4-0.4-0.5-0.4-0.8-0.3-1.4-0.1-2 0.2-1.3 0.2-0.6 0.4-0.9 0.4-0.5 0.9-0.4 0.6 0 0.4 0.1 0.6 0.3 0.2 0.2 0.7 1.3 0.2 1.2 0.1 1.8-0.3 1.8-0.2 0.7-0.5 0.7-0.2 0.3z"/>
<path fill="#d6d6d6" d="M432.8 351.8l-0.6 0-0.4-0.2-0.3-0.1-0.5-0.6-0.3-0.7-0.3-0.7-0.2-1.7 0.2-2 0.4-1.2 0.3-0.6 0.4-0.5 1-0.3 0.5 0.1 0.6 0.2 0.6 0.7 0.5 1.3 0.2 1.7-0.1 2-0.5 1.3-0.3 0.5-0.4 0.5z"/>
<path fill="#dcdcdc" d="M433.2 351.5l-1 0.1-0.4-0.1-0.3-0.2-0.3-0.3-0.4-0.9-0.3-0.9-0.2-1.7 0.2-1.9 0.3-0.7 0.4-0.9 0.6-0.5 0.4-0.1 1 0.1 0.8 0.7 0.5 1 0.3 1.4 0 1.6-0.3 1.6-0.5 1z"/>
<path fill="#e2e2e2" d="M433 351.3l-0.5 0.1-0.5-0.2-0.4-0.2-0.4-0.4-0.4-1.1-0.3-1.5 0.1-1.8 0.3-1.2 0.3-0.6 0.4-0.4 0.4-0.2 0.5-0.2 0.7 0.2 0.5 0.4 0.3 0.5 0.3 0.8 0.3 1.5-0.1 1.7-0.3 1.1-0.4 0.9z"/>
<path fill="#e8e8e8" d="M433 350.8l-0.2 0.1-0.6 0-0.4-0.3-0.3-0.3-0.4-0.8-0.3-1.5 0.1-1.5 0.3-1.3 0.6-0.8 0.2-0.2 0.5-0.1 0.5 0.1 0.2 0.2 0.6 0.5 0.3 0.9 0.2 1.2 0 1.2-0.3 1.3-0.5 0.9z"/>
<path fill="#eeeeee" d="M433 350.3l-0.5 0.1-0.5-0.2-0.2-0.2-0.3-0.4-0.2-0.6-0.2-1 0-1.2 0.3-1.3 0.4-0.5 0.2-0.2 0.5-0.2 0.5 0.1 0.5 0.5 0.3 0.6 0.2 1.2 0 1.2-0.2 1.1-0.3 0.5z"/>
<path fill="#f4f4f4" d="M433 349.5l-0.5 0.2-0.5-0.3-0.3-0.6-0.2-0.8 0-1 0.3-1 0.3-0.5 0.4-0.2 0.5 0.2 0.2 0.3 0.2 0.4 0.2 0.8 0 0.8-0.1 0.7-0.3 0.7z"/>
<path fill="#fafafa" d="M432.8 348.8l-0.3 0-0.3-0.1-0.2-0.5-0.1-0.4 0.1-1 0.2-0.5 0.3-0.1 0.3 0 0.2 0.3 0.2 0.7-0.1 1z"/>
</g>
</g></g>
<path d="M142.7 116.45v-1.1q0.3 -1 1.3 -1h1.3v2.1zM153.4 116.45v-1.1q-0.3 -1 -1.3 -1h-1.4v2.1z" fill="#000" opacity="0.85"/>
<path d="M39 116.15H145.3M150.7 116.15H256.95" stroke="#00000a" stroke-width="1.1" fill="none"/>
<path d="M145.3 116.15H150.7" stroke="#000" stroke-width="1.1" opacity="0.12"/>
<text class="t" transform="translate(148.4 17.2)" font-size="16" text-anchor="middle">(a)</text>
<text class="t" transform="translate(36.6 37.5) scale(1.06 1)" font-size="15" text-anchor="end">3</text>
<text class="t" transform="translate(36.6 65.5) scale(1.06 1)" font-size="15" text-anchor="end">2</text>
<text class="t" transform="translate(36.6 93.5) scale(1.06 1)" font-size="15" text-anchor="end">1</text>
<text class="t" transform="translate(36.6 121.5) scale(1.06 1)" font-size="15" text-anchor="end">0</text>
<text class="t" transform="translate(36.6 149.5) scale(1.06 1)" font-size="15" text-anchor="end">-1</text>
<text class="t" transform="translate(36.6 177.5) scale(1.06 1)" font-size="15" text-anchor="end">-2</text>
<text class="t" transform="translate(36.6 205.5) scale(1.06 1)" font-size="15" text-anchor="end">-3</text>
<text class="t" transform="translate(39.5 217.6) scale(1.06 1)" font-size="15" text-anchor="middle">-5</text>
<text class="t" transform="translate(83.1 217.6) scale(1.06 1)" font-size="15" text-anchor="middle">-3</text>
<text class="t" transform="translate(125.3 217.6) scale(1.06 1)" font-size="15" text-anchor="middle">-1</text>
<text class="t" transform="translate(169.5 217.6) scale(1.06 1)" font-size="15" text-anchor="middle">1</text>
<text class="t" transform="translate(214.6 217.6) scale(1.06 1)" font-size="15" text-anchor="middle">3</text>
<text class="t" transform="translate(256.5 217.6) scale(1.06 1)" font-size="15" text-anchor="middle">5</text>
<text class="t" transform="translate(147.8 229.8)" font-size="16" text-anchor="middle">y (μm)</text>
<text class="t" transform="translate(18.4 117) rotate(-90)" font-size="16" text-anchor="middle">z (μm)</text>
<line x1="153.7" y1="113.2" x2="197.71" y2="95.27" stroke="#fff" stroke-width="1.4"/><polygon fill="#fff" points="202.8,93.2 198.3,98.06 196.19,92.87"/>
<text class="w" transform="translate(207.7 97.7)" font-size="13.9" text-anchor="start" textLength="23.2" lengthAdjust="spacingAndGlyphs">GST</text>
<text class="w" x="205.8" y="152.1" font-size="13.9"><tspan textLength="20.6" lengthAdjust="spacingAndGlyphs">SiO</tspan><tspan x="226.6" dy="0.2" font-size="9.3" textLength="5.6" lengthAdjust="spacingAndGlyphs">2</tspan></text>
<path d="M38.9 353H256" stroke="#00000a" stroke-width="1.1" fill="none"/>
<rect x="142.65" y="340.85" width="8.9" height="12.15" fill="none" stroke="#00000a" stroke-width="1.1"/>
<text class="t" transform="translate(149.3 254.2)" font-size="16" text-anchor="middle">(b)</text>
<text class="t" transform="translate(36.4 274.3) scale(1.06 1)" font-size="15" text-anchor="end">3</text>
<text class="t" transform="translate(36.4 302.3) scale(1.06 1)" font-size="15" text-anchor="end">2</text>
<text class="t" transform="translate(36.4 330.3) scale(1.06 1)" font-size="15" text-anchor="end">1</text>
<text class="t" transform="translate(36.4 358.3) scale(1.06 1)" font-size="15" text-anchor="end">0</text>
<text class="t" transform="translate(36.4 386.3) scale(1.06 1)" font-size="15" text-anchor="end">-1</text>
<text class="t" transform="translate(36.4 414.3) scale(1.06 1)" font-size="15" text-anchor="end">-2</text>
<text class="t" transform="translate(36.4 442.3) scale(1.06 1)" font-size="15" text-anchor="end">-3</text>
<text class="t" transform="translate(39.2 454.1) scale(1.06 1)" font-size="15" text-anchor="middle">-5</text>
<text class="t" transform="translate(83.2 454.1) scale(1.06 1)" font-size="15" text-anchor="middle">-3</text>
<text class="t" transform="translate(126.7 454.1) scale(1.06 1)" font-size="15" text-anchor="middle">-1</text>
<text class="t" transform="translate(169.6 454.1) scale(1.06 1)" font-size="15" text-anchor="middle">1</text>
<text class="t" transform="translate(215 454.1) scale(1.06 1)" font-size="15" text-anchor="middle">3</text>
<text class="t" transform="translate(256.2 454.1) scale(1.06 1)" font-size="15" text-anchor="middle">5</text>
<text class="t" transform="translate(147.7 466.1)" font-size="16" text-anchor="middle">y (μm)</text>
<text class="t" transform="translate(18.4 354) rotate(-90)" font-size="16" text-anchor="middle">z (μm)</text>
<line x1="153.6" y1="349.1" x2="197.07" y2="332.38" stroke="#fff" stroke-width="1.4"/><polygon fill="#fff" points="202.2,330.4 197.61,335.17 195.59,329.94"/>
<text class="w" transform="translate(207.8 334.5)" font-size="13.9" text-anchor="start" textLength="10.2" lengthAdjust="spacingAndGlyphs">Si</text>
<text class="w" x="206" y="388.6" font-size="13.9"><tspan textLength="20.6" lengthAdjust="spacingAndGlyphs">SiO</tspan><tspan x="226.8" dy="0.2" font-size="9.3" textLength="5.6" lengthAdjust="spacingAndGlyphs">2</tspan></text>
<path d="M427 116.4v-1.1q0.3 -1 1.3 -1h1v2.1zM439.1 116.4v-1.1q-0.3 -1 -1.3 -1h-1.5v2.1z" fill="#000" opacity="0.85"/>
<path d="M323.9 116.1H429.3M436.3 116.1H541.9" stroke="#00000a" stroke-width="1.1" fill="none"/>
<path d="M429.3 116.1H436.3" stroke="#000" stroke-width="1.1" opacity="0.12"/>
<text class="t" transform="translate(432.8 17.2)" font-size="16" text-anchor="middle">(c)</text>
<text class="t" transform="translate(320.2 37.5) scale(1.06 1)" font-size="15" text-anchor="end">3</text>
<text class="t" transform="translate(320.2 65.5) scale(1.06 1)" font-size="15" text-anchor="end">2</text>
<text class="t" transform="translate(320.2 93.5) scale(1.06 1)" font-size="15" text-anchor="end">1</text>
<text class="t" transform="translate(320.2 121.5) scale(1.06 1)" font-size="15" text-anchor="end">0</text>
<text class="t" transform="translate(320.2 149.5) scale(1.06 1)" font-size="15" text-anchor="end">-1</text>
<text class="t" transform="translate(320.2 177.5) scale(1.06 1)" font-size="15" text-anchor="end">-2</text>
<text class="t" transform="translate(320.2 205.5) scale(1.06 1)" font-size="15" text-anchor="end">-3</text>
<text class="t" transform="translate(323.2 216.9) scale(1.06 1)" font-size="15" text-anchor="middle">-5</text>
<text class="t" transform="translate(366.5 216.9) scale(1.06 1)" font-size="15" text-anchor="middle">-3</text>
<text class="t" transform="translate(409 216.9) scale(1.06 1)" font-size="15" text-anchor="middle">-1</text>
<text class="t" transform="translate(452.8 216.9) scale(1.06 1)" font-size="15" text-anchor="middle">1</text>
<text class="t" transform="translate(498.6 216.9) scale(1.06 1)" font-size="15" text-anchor="middle">3</text>
<text class="t" transform="translate(539.6 216.9) scale(1.06 1)" font-size="15" text-anchor="middle">5</text>
<text class="t" transform="translate(438.6 229)" font-size="16" text-anchor="middle">y (μm)</text>
<text class="t" transform="translate(306.5 117) rotate(-90)" font-size="16" text-anchor="middle">z (μm)</text>
<line x1="438.6" y1="114.5" x2="482.1" y2="97.05" stroke="#fff" stroke-width="1.4"/><polygon fill="#fff" points="487.2,95 482.67,99.83 480.59,94.64"/>
<text class="w" transform="translate(494.1 99)" font-size="13.9" text-anchor="start" textLength="23.1" lengthAdjust="spacingAndGlyphs">GST</text>
<text class="w" x="493.6" y="152.1" font-size="13.9"><tspan textLength="20.6" lengthAdjust="spacingAndGlyphs">SiO</tspan><tspan x="514.4" dy="0.2" font-size="9.3" textLength="5.6" lengthAdjust="spacingAndGlyphs">2</tspan></text>
<path d="M324 353.4H541.9" stroke="#00000a" stroke-width="1.1" fill="none"/>
<rect x="425.8" y="340.8" width="13.5" height="12.6" fill="none" stroke="#00000a" stroke-width="1.2"/>
<text class="t" transform="translate(434.1 254.2)" font-size="16" text-anchor="middle">(d)</text>
<text class="t" transform="translate(320 274.3) scale(1.06 1)" font-size="15" text-anchor="end">3</text>
<text class="t" transform="translate(320 302.3) scale(1.06 1)" font-size="15" text-anchor="end">2</text>
<text class="t" transform="translate(320 330.3) scale(1.06 1)" font-size="15" text-anchor="end">1</text>
<text class="t" transform="translate(320 358.3) scale(1.06 1)" font-size="15" text-anchor="end">0</text>
<text class="t" transform="translate(320 386.3) scale(1.06 1)" font-size="15" text-anchor="end">-1</text>
<text class="t" transform="translate(320 414.3) scale(1.06 1)" font-size="15" text-anchor="end">-2</text>
<text class="t" transform="translate(320 442.3) scale(1.06 1)" font-size="15" text-anchor="end">-3</text>
<text class="t" transform="translate(323.2 453.8) scale(1.06 1)" font-size="15" text-anchor="middle">-5</text>
<text class="t" transform="translate(366.5 453.8) scale(1.06 1)" font-size="15" text-anchor="middle">-3</text>
<text class="t" transform="translate(409 453.8) scale(1.06 1)" font-size="15" text-anchor="middle">-1</text>
<text class="t" transform="translate(452.8 453.8) scale(1.06 1)" font-size="15" text-anchor="middle">1</text>
<text class="t" transform="translate(498.4 453.8) scale(1.06 1)" font-size="15" text-anchor="middle">3</text>
<text class="t" transform="translate(539.7 453.8) scale(1.06 1)" font-size="15" text-anchor="middle">5</text>
<text class="t" transform="translate(438.6 466.4)" font-size="16" text-anchor="middle">y (μm)</text>
<text class="t" transform="translate(306.5 354) rotate(-90)" font-size="16" text-anchor="middle">z (μm)</text>
<line x1="439.2" y1="351.5" x2="482.1" y2="334.25" stroke="#fff" stroke-width="1.4"/><polygon fill="#fff" points="487.2,332.2 482.68,337.04 480.59,331.84"/>
<text class="w" transform="translate(494.1 335.5)" font-size="13.9" text-anchor="start" textLength="9.8" lengthAdjust="spacingAndGlyphs">Si</text>
<text class="w" x="493.6" y="388.6" font-size="13.9"><tspan textLength="20.6" lengthAdjust="spacingAndGlyphs">SiO</tspan><tspan x="514.4" dy="0.2" font-size="9.3" textLength="5.6" lengthAdjust="spacingAndGlyphs">2</tspan></text>
</svg>
</body></html>
